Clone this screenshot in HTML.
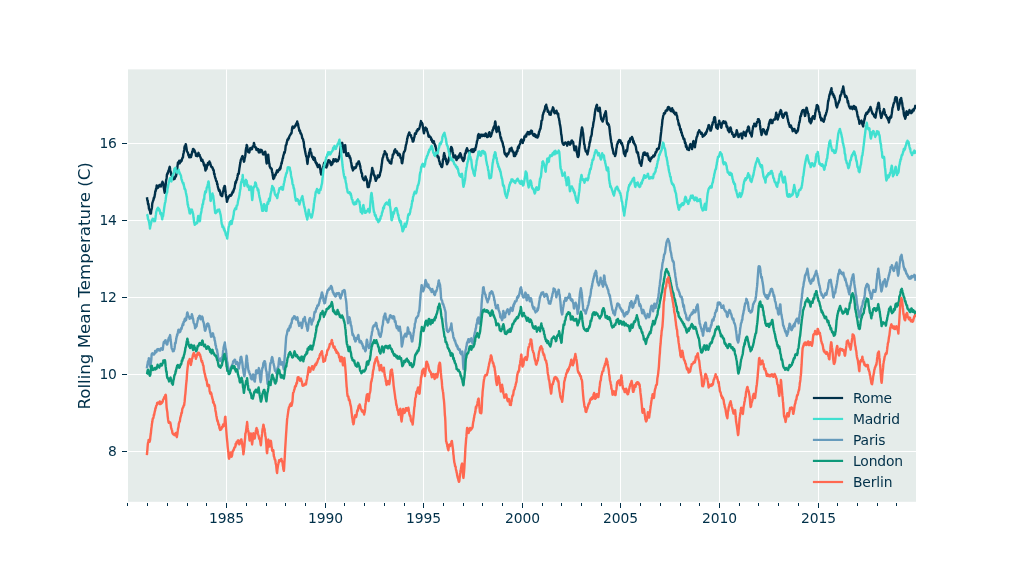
<!DOCTYPE html>
<html><head><meta charset="utf-8"><title>Rolling Mean Temperature</title>
<style>
html,body{margin:0;padding:0;background:#fff;}
svg{display:block;}
text{font-family:"DejaVu Sans","Liberation Sans",sans-serif;fill:#003049;}
.t10{font-size:13.89px;letter-spacing:-0.12px;}
.t12{font-size:16.67px;}
.grid line{stroke:#fff;stroke-width:1;}
.tick line{stroke:#003049;stroke-width:1;}
.ser polyline{fill:none;stroke-width:2.4;stroke-linejoin:round;stroke-linecap:butt;}
</style></head><body>
<svg width="1018" height="564" viewBox="0 0 1018 564">
<rect x="0" y="0" width="1018" height="564" fill="#fff"/>
<rect x="128" y="69.4" width="788.00" height="432.40" fill="#e5ecea"/>
<g class="grid">
<line x1="226.50" y1="69.4" x2="226.50" y2="501.8"/>
<line x1="325.50" y1="69.4" x2="325.50" y2="501.8"/>
<line x1="423.50" y1="69.4" x2="423.50" y2="501.8"/>
<line x1="522.50" y1="69.4" x2="522.50" y2="501.8"/>
<line x1="620.50" y1="69.4" x2="620.50" y2="501.8"/>
<line x1="719.50" y1="69.4" x2="719.50" y2="501.8"/>
<line x1="818.50" y1="69.4" x2="818.50" y2="501.8"/>
<line x1="128" y1="451.50" x2="916" y2="451.50"/>
<line x1="128" y1="374.50" x2="916" y2="374.50"/>
<line x1="128" y1="297.50" x2="916" y2="297.50"/>
<line x1="128" y1="220.50" x2="916" y2="220.50"/>
<line x1="128" y1="143.50" x2="916" y2="143.50"/>
</g>
<clipPath id="c"><rect x="128" y="69.4" width="788.00" height="432.40"/></clipPath>
<g class="ser" clip-path="url(#c)">
<polyline stroke="#003049" points="146.96,197.26 147.21,199.35 147.46,200.81 147.71,200.44 147.96,203.56 148.21,204.67 148.46,203.80 148.71,206.22 148.96,208.76 149.21,208.72 149.46,210.15 149.71,210.00 149.96,211.11 150.21,212.65 150.46,213.56 150.71,212.68 150.96,213.49 151.21,210.73 151.46,209.77 151.71,208.70 151.96,207.20 152.21,204.00 152.46,202.64 152.71,201.87 152.96,201.54 153.21,200.14 153.46,200.15 153.71,198.03 153.96,198.66 154.21,197.07 154.46,197.01 154.71,195.40 154.96,194.31 155.21,191.77 155.46,190.84 155.71,190.89 155.96,188.98 156.21,189.66 156.46,187.55 156.71,185.45 156.96,186.21 157.21,186.47 157.46,187.05 157.71,186.46 157.96,187.72 158.21,187.35 158.46,186.53 158.71,186.66 158.96,185.52 159.21,186.10 159.46,185.03 159.71,184.93 159.96,185.54 160.21,185.64 160.46,186.25 160.71,186.03 160.96,186.39 161.21,184.91 161.46,184.46 161.71,183.44 161.96,183.48 162.21,182.93 162.46,181.61 162.71,182.90 162.96,182.66 163.21,183.32 163.46,184.96 163.71,187.41 163.96,188.47 164.21,190.18 164.46,191.46 164.71,192.84 164.96,191.31 165.21,189.73 165.46,187.34 165.71,184.50 165.96,181.97 166.21,179.95 166.46,178.79 166.71,177.20 166.96,174.35 167.21,174.31 167.46,173.14 167.71,173.94 167.96,172.16 168.21,172.17 168.46,170.73 168.71,170.55 168.96,169.44 169.21,168.82 169.46,167.48 169.71,166.82 169.96,167.96 170.21,169.64 170.46,170.98 170.71,171.84 170.96,172.65 171.21,175.12 171.46,174.56 171.71,174.18 171.96,176.01 172.21,176.39 172.46,177.94 172.71,177.54 172.96,177.34 173.21,178.88 173.46,179.30 173.71,178.59 173.96,177.99 174.21,179.03 174.46,178.47 174.71,178.68 174.96,177.99 175.21,176.63 175.46,176.96 175.71,175.79 175.96,176.23 176.21,174.91 176.46,173.73 176.71,172.57 176.96,170.93 177.21,169.16 177.46,166.46 177.71,164.61 177.96,162.48 178.21,162.70 178.46,163.75 178.71,162.89 178.96,161.49 179.21,160.81 179.46,162.00 179.71,163.24 179.96,161.58 180.21,160.63 180.46,161.57 180.71,161.83 180.96,161.08 181.21,160.16 181.46,161.17 181.71,160.39 181.96,159.41 182.21,158.71 182.46,157.68 182.71,157.93 182.96,157.29 183.21,154.74 183.46,153.57 183.71,152.73 183.96,151.03 184.21,149.92 184.46,147.47 184.71,146.30 184.96,147.46 185.21,147.57 185.46,145.26 185.71,144.14 185.96,144.95 186.21,146.49 186.46,148.04 186.71,149.69 186.96,151.65 187.21,151.65 187.46,152.03 187.71,152.50 187.96,153.09 188.21,154.16 188.46,155.28 188.71,155.71 188.96,155.94 189.21,157.30 189.46,155.43 189.71,155.49 189.96,154.92 190.21,155.64 190.46,155.15 190.71,156.10 190.96,157.17 191.21,155.93 191.46,155.62 191.71,154.17 191.96,153.34 192.21,151.59 192.46,151.28 192.71,151.20 192.96,149.19 193.21,148.92 193.46,149.01 193.71,149.59 193.96,149.59 194.21,149.73 194.46,151.89 194.71,150.96 194.96,151.70 195.21,152.23 195.46,152.79 195.71,153.48 195.96,155.78 196.21,155.64 196.46,154.83 196.71,155.86 196.96,155.98 197.21,156.12 197.46,155.27 197.71,154.80 197.96,154.96 198.21,153.52 198.46,152.85 198.71,153.98 198.96,154.59 199.21,155.79 199.46,154.82 199.71,154.97 199.96,156.06 200.21,156.71 200.46,157.07 200.71,158.15 200.96,158.95 201.21,160.69 201.46,160.24 201.71,159.35 201.96,160.72 202.21,160.60 202.46,159.91 202.71,161.32 202.96,161.72 203.21,162.31 203.46,162.51 203.71,164.25 203.96,165.11 204.21,165.58 204.46,165.41 204.71,164.72 204.96,166.53 205.21,169.13 205.46,170.55 205.71,169.20 205.96,169.57 206.21,168.03 206.46,169.07 206.71,167.75 206.96,166.43 207.21,164.59 207.46,165.53 207.71,165.43 207.96,162.97 208.21,163.71 208.46,164.48 208.71,162.97 208.96,162.92 209.21,162.74 209.46,161.54 209.71,162.33 209.96,163.48 210.21,163.01 210.46,164.68 210.71,164.94 210.96,165.85 211.21,166.32 211.46,166.97 211.71,167.01 211.96,167.38 212.21,167.09 212.46,167.65 212.71,168.66 212.96,168.57 213.21,170.11 213.46,170.06 213.71,170.13 213.96,172.55 214.21,174.37 214.46,173.80 214.71,175.46 214.96,176.89 215.21,177.49 215.46,178.55 215.71,178.85 215.96,180.02 216.21,181.05 216.46,181.01 216.71,181.26 216.96,182.81 217.21,184.54 217.46,184.00 217.71,185.91 217.96,187.35 218.21,187.95 218.46,189.02 218.71,189.74 218.96,190.76 219.21,190.46 219.46,189.90 219.71,190.98 219.96,191.61 220.21,192.59 220.46,193.96 220.71,195.06 220.96,193.88 221.21,194.23 221.46,194.62 221.71,196.00 221.96,195.68 222.21,196.10 222.46,194.02 222.71,192.90 222.96,191.58 223.21,191.21 223.46,190.67 223.71,188.31 223.96,187.42 224.21,187.47 224.46,186.16 224.71,185.90 224.96,186.29 225.21,189.09 225.46,190.86 225.71,193.88 225.96,195.14 226.21,197.16 226.46,197.93 226.71,199.81 226.96,201.82 227.21,201.06 227.46,199.74 227.71,199.35 227.96,197.88 228.21,198.24 228.46,197.07 228.71,196.51 228.96,196.56 229.21,196.54 229.46,195.71 229.71,195.29 229.96,195.40 230.21,194.98 230.46,195.58 230.71,195.85 230.96,195.34 231.21,195.25 231.46,194.89 231.71,194.58 231.96,193.34 232.21,192.86 232.46,192.58 232.71,191.39 232.96,192.52 233.21,191.98 233.46,191.22 233.71,189.72 233.96,189.77 234.21,188.57 234.46,188.44 234.71,186.91 234.96,185.24 235.21,184.11 235.46,182.05 235.71,182.93 235.96,182.42 236.21,180.99 236.46,180.21 236.71,180.02 236.96,179.86 237.21,177.87 237.46,176.96 237.71,175.81 237.96,173.86 238.21,173.98 238.46,173.59 238.71,173.77 238.96,171.74 239.21,169.81 239.46,167.96 239.71,166.60 239.96,164.73 240.21,163.55 240.46,162.35 240.71,160.46 240.96,159.50 241.21,158.95 241.46,158.16 241.71,158.05 241.96,157.31 242.21,156.32 242.46,156.10 242.71,156.35 242.96,158.09 243.21,157.60 243.46,159.24 243.71,160.89 243.96,161.67 244.21,161.35 244.46,159.64 244.71,158.11 244.96,157.33 245.21,156.14 245.46,154.11 245.71,150.81 245.96,149.27 246.21,147.78 246.46,146.71 246.71,145.00 246.96,145.50 247.21,146.31 247.46,148.94 247.71,150.34 247.96,149.99 248.21,152.13 248.46,151.79 248.71,152.37 248.96,150.80 249.21,152.44 249.46,151.90 249.71,149.55 249.96,148.40 250.21,148.60 250.46,148.10 250.71,149.63 250.96,149.07 251.21,148.57 251.46,149.10 251.71,149.25 251.96,149.13 252.21,148.19 252.46,147.07 252.71,146.37 252.96,146.46 253.21,146.17 253.46,145.74 253.71,144.53 253.96,142.84 254.21,144.24 254.46,144.80 254.71,146.02 254.96,147.09 255.21,147.09 255.46,147.51 255.71,147.13 255.96,148.59 256.21,148.80 256.46,149.92 256.71,149.64 256.96,149.21 257.21,149.03 257.46,148.77 257.71,150.24 257.96,149.75 258.21,149.14 258.46,151.08 258.71,152.29 258.96,151.50 259.21,152.45 259.46,152.25 259.71,152.15 259.96,152.34 260.21,150.97 260.46,149.82 260.71,149.85 260.96,151.01 261.21,149.94 261.46,150.20 261.71,150.79 261.96,150.49 262.21,151.47 262.46,152.69 262.71,152.72 262.96,154.32 263.21,152.55 263.46,153.08 263.71,153.71 263.96,154.47 264.21,153.47 264.46,152.78 264.71,153.66 264.96,152.79 265.21,151.60 265.46,152.77 265.71,153.93 265.96,157.94 266.21,159.73 266.46,162.52 266.71,163.57 266.96,162.29 267.21,161.11 267.46,159.55 267.71,157.59 267.96,156.12 268.21,154.65 268.46,157.11 268.71,159.53 268.96,161.73 269.21,163.54 269.46,163.90 269.71,166.77 269.96,166.77 270.21,167.43 270.46,168.20 270.71,167.96 270.96,168.13 271.21,168.31 271.46,168.95 271.71,168.91 271.96,171.47 272.21,172.35 272.46,172.86 272.71,175.69 272.96,176.35 273.21,178.52 273.46,178.91 273.71,176.87 273.96,176.84 274.21,177.93 274.46,176.85 274.71,175.22 274.96,174.76 275.21,174.92 275.46,175.13 275.71,174.72 275.96,173.23 276.21,173.15 276.46,173.05 276.71,171.50 276.96,170.40 277.21,170.48 277.46,170.73 277.71,171.96 277.96,171.78 278.21,171.15 278.46,169.97 278.71,170.17 278.96,169.73 279.21,169.08 279.46,169.58 279.71,169.80 279.96,167.86 280.21,167.37 280.46,168.58 280.71,166.88 280.96,165.35 281.21,164.24 281.46,162.97 281.71,163.60 281.96,161.30 282.21,161.16 282.46,159.56 282.71,158.22 282.96,158.28 283.21,156.29 283.46,155.33 283.71,154.47 283.96,153.92 284.21,152.23 284.46,152.85 284.71,152.76 284.96,150.96 285.21,150.49 285.46,148.23 285.71,145.71 285.96,145.02 286.21,144.75 286.46,144.56 286.71,142.35 286.96,142.08 287.21,140.66 287.46,139.54 287.71,139.25 287.96,139.55 288.21,139.76 288.46,138.38 288.71,137.86 288.96,138.01 289.21,136.72 289.46,136.26 289.71,135.57 289.96,135.52 290.21,134.97 290.46,134.46 290.71,134.31 290.96,133.81 291.21,133.03 291.46,133.28 291.71,131.69 291.96,129.70 292.21,127.70 292.46,126.90 292.71,126.49 292.96,127.02 293.21,127.48 293.46,128.05 293.71,127.13 293.96,126.71 294.21,127.54 294.46,127.33 294.71,126.27 294.96,125.99 295.21,126.37 295.46,125.14 295.71,125.66 295.96,124.26 296.21,124.66 296.46,123.31 296.71,123.67 296.96,123.23 297.21,121.43 297.46,123.07 297.71,124.41 297.96,123.61 298.21,125.07 298.46,126.80 298.71,127.59 298.96,128.55 299.21,130.32 299.46,130.93 299.71,130.45 299.96,130.51 300.21,132.03 300.46,133.39 300.71,133.63 300.96,133.31 301.21,133.88 301.46,134.71 301.71,135.14 301.96,136.49 302.21,138.03 302.46,138.26 302.71,138.93 302.96,139.04 303.21,139.90 303.46,141.56 303.71,141.68 303.96,144.13 304.21,147.16 304.46,147.71 304.71,149.10 304.96,150.23 305.21,151.83 305.46,153.03 305.71,154.23 305.96,155.05 306.21,156.57 306.46,156.28 306.71,157.02 306.96,160.41 307.21,162.13 307.46,163.92 307.71,162.10 307.96,158.82 308.21,157.52 308.46,157.08 308.71,157.00 308.96,153.63 309.21,152.24 309.46,151.82 309.71,151.31 309.96,149.79 310.21,148.88 310.46,150.63 310.71,151.83 310.96,152.58 311.21,152.67 311.46,154.18 311.71,156.00 311.96,156.26 312.21,157.22 312.46,156.91 312.71,157.36 312.96,158.21 313.21,159.18 313.46,157.04 313.71,158.46 313.96,160.07 314.21,159.67 314.46,160.00 314.71,157.99 314.96,159.61 315.21,160.11 315.46,162.38 315.71,161.86 315.96,163.10 316.21,163.47 316.46,163.43 316.71,162.96 316.96,165.26 317.21,164.70 317.46,165.89 317.71,166.91 317.96,167.20 318.21,166.18 318.46,165.34 318.71,166.17 318.96,165.76 319.21,164.77 319.46,165.01 319.71,165.48 319.96,166.81 320.21,169.10 320.46,169.91 320.71,172.85 320.96,172.90 321.21,174.59 321.46,173.93 321.71,171.69 321.96,171.10 322.21,169.97 322.46,169.03 322.71,168.79 322.96,167.43 323.21,166.88 323.46,166.51 323.71,164.65 323.96,163.97 324.21,162.81 324.46,162.53 324.71,162.29 324.96,162.63 325.21,163.92 325.46,166.31 325.71,166.54 325.96,166.53 326.21,167.33 326.46,167.44 326.71,166.12 326.96,165.24 327.21,165.70 327.46,164.08 327.71,162.50 327.96,161.42 328.21,161.65 328.46,160.20 328.71,160.42 328.96,161.49 329.21,160.63 329.46,160.56 329.71,160.87 329.96,161.94 330.21,162.89 330.46,162.59 330.71,164.19 330.96,164.02 331.21,165.13 331.46,165.08 331.71,163.61 331.96,162.27 332.21,163.29 332.46,163.85 332.71,162.00 332.96,161.78 333.21,160.91 333.46,159.19 333.71,159.72 333.96,161.44 334.21,161.07 334.46,161.28 334.71,160.86 334.96,159.40 335.21,159.93 335.46,159.52 335.71,160.14 335.96,159.39 336.21,159.50 336.46,160.16 336.71,161.45 336.96,160.29 337.21,161.10 337.46,159.91 337.71,161.06 337.96,160.60 338.21,160.04 338.46,159.77 338.71,159.23 338.96,158.15 339.21,156.77 339.46,156.19 339.71,154.80 339.96,153.11 340.21,151.09 340.46,148.74 340.71,146.54 340.96,146.02 341.21,146.47 341.46,147.03 341.71,145.56 341.96,143.89 342.21,142.83 342.46,144.45 342.71,145.29 342.96,147.58 343.21,149.14 343.46,149.73 343.71,152.17 343.96,150.97 344.21,149.97 344.46,149.41 344.71,148.03 344.96,145.41 345.21,145.09 345.46,147.59 345.71,151.10 345.96,152.83 346.21,154.45 346.46,155.82 346.71,154.79 346.96,155.02 347.21,155.85 347.46,155.20 347.71,154.71 347.96,154.34 348.21,153.14 348.46,154.12 348.71,155.25 348.96,156.00 349.21,155.65 349.46,155.64 349.71,157.87 349.96,157.21 350.21,157.59 350.46,158.33 350.71,160.14 350.96,161.80 351.21,162.67 351.46,164.06 351.71,166.06 351.96,167.63 352.21,168.05 352.46,168.41 352.71,169.43 352.96,170.43 353.21,169.63 353.46,168.38 353.71,167.48 353.96,168.51 354.21,167.69 354.46,168.21 354.71,168.43 354.96,168.09 355.21,167.89 355.46,167.01 355.71,167.76 355.96,167.11 356.21,166.32 356.46,166.24 356.71,163.69 356.96,163.84 357.21,163.49 357.46,164.07 357.71,163.45 357.96,162.76 358.21,162.17 358.46,161.53 358.71,162.08 358.96,161.39 359.21,162.77 359.46,163.03 359.71,163.77 359.96,166.18 360.21,165.71 360.46,168.13 360.71,169.49 360.96,170.24 361.21,171.76 361.46,173.12 361.71,173.11 361.96,173.21 362.21,176.45 362.46,177.01 362.71,177.43 362.96,178.88 363.21,179.09 363.46,179.00 363.71,179.76 363.96,179.87 364.21,180.30 364.46,179.91 364.71,178.77 364.96,179.10 365.21,178.38 365.46,176.35 365.71,177.44 365.96,178.31 366.21,178.71 366.46,179.14 366.71,179.89 366.96,180.84 367.21,183.71 367.46,185.32 367.71,187.04 367.96,186.48 368.21,185.53 368.46,185.74 368.71,187.16 368.96,186.23 369.21,184.28 369.46,183.48 369.71,181.96 369.96,180.70 370.21,181.46 370.46,179.56 370.71,177.99 370.96,175.38 371.21,174.27 371.46,173.31 371.71,172.30 371.96,169.93 372.21,167.85 372.46,169.01 372.71,170.99 372.96,170.54 373.21,170.97 373.46,172.27 373.71,174.43 373.96,175.32 374.21,175.27 374.46,175.21 374.71,175.91 374.96,177.26 375.21,179.18 375.46,178.96 375.71,180.88 375.96,180.80 376.21,179.12 376.46,178.68 376.71,178.31 376.96,178.64 377.21,178.20 377.46,177.30 377.71,175.50 377.96,176.38 378.21,176.56 378.46,177.03 378.71,176.41 378.96,177.06 379.21,176.33 379.46,174.92 379.71,175.73 379.96,174.38 380.21,172.65 380.46,172.20 380.71,170.95 380.96,170.39 381.21,168.18 381.46,166.82 381.71,164.20 381.96,163.13 382.21,160.51 382.46,158.94 382.71,157.80 382.96,157.43 383.21,156.83 383.46,155.59 383.71,154.57 383.96,154.02 384.21,153.85 384.46,153.01 384.71,151.21 384.96,153.26 385.21,151.99 385.46,153.22 385.71,154.25 385.96,154.31 386.21,153.58 386.46,154.58 386.71,154.09 386.96,156.93 387.21,157.93 387.46,157.90 387.71,159.74 387.96,160.29 388.21,160.02 388.46,159.92 388.71,161.18 388.96,161.28 389.21,161.41 389.46,161.77 389.71,162.73 389.96,162.60 390.21,162.82 390.46,163.10 390.71,163.35 390.96,163.24 391.21,163.60 391.46,162.05 391.71,159.38 391.96,158.69 392.21,158.24 392.46,157.59 392.71,154.86 392.96,154.43 393.21,154.47 393.46,154.59 393.71,153.47 393.96,152.68 394.21,151.00 394.46,150.43 394.71,150.35 394.96,149.83 395.21,149.38 395.46,150.69 395.71,150.92 395.96,151.23 396.21,152.39 396.46,151.76 396.71,152.85 396.96,151.40 397.21,152.98 397.46,152.50 397.71,153.69 397.96,155.15 398.21,154.86 398.46,154.52 398.71,155.36 398.96,155.06 399.21,154.61 399.46,153.81 399.71,154.60 399.96,155.15 400.21,155.63 400.46,157.96 400.71,157.95 400.96,158.13 401.21,157.84 401.46,159.74 401.71,162.49 401.96,163.16 402.21,163.29 402.46,161.70 402.71,159.92 402.96,158.85 403.21,156.38 403.46,153.53 403.71,152.98 403.96,151.93 404.21,151.91 404.46,151.35 404.71,151.25 404.96,150.47 405.21,149.67 405.46,148.03 405.71,146.08 405.96,144.92 406.21,144.08 406.46,143.30 406.71,141.71 406.96,140.67 407.21,138.52 407.46,138.19 407.71,136.69 407.96,135.67 408.21,135.50 408.46,134.47 408.71,133.75 408.96,133.75 409.21,132.39 409.46,132.60 409.71,134.71 409.96,134.96 410.21,135.13 410.46,135.35 410.71,135.33 410.96,135.26 411.21,136.58 411.46,137.55 411.71,137.85 411.96,138.32 412.21,139.19 412.46,139.75 412.71,141.61 412.96,141.12 413.21,141.53 413.46,140.88 413.71,140.09 413.96,138.52 414.21,137.35 414.46,137.07 414.71,135.11 414.96,133.56 415.21,133.66 415.46,133.36 415.71,133.65 415.96,133.79 416.21,132.69 416.46,132.10 416.71,130.60 416.96,130.40 417.21,130.48 417.46,130.88 417.71,129.10 417.96,129.99 418.21,129.19 418.46,129.59 418.71,129.21 418.96,129.25 419.21,128.74 419.46,127.81 419.71,126.80 419.96,125.64 420.21,125.03 420.46,123.49 420.71,122.73 420.96,121.08 421.21,122.45 421.46,122.98 421.71,123.42 421.96,122.92 422.21,123.35 422.46,124.02 422.71,125.83 422.96,127.56 423.21,128.80 423.46,130.73 423.71,132.00 423.96,133.40 424.21,131.94 424.46,130.71 424.71,130.75 424.96,129.38 425.21,128.03 425.46,127.62 425.71,128.78 425.96,128.87 426.21,128.40 426.46,128.81 426.71,128.65 426.96,130.51 427.21,131.08 427.46,131.72 427.71,132.46 427.96,133.36 428.21,134.56 428.46,136.37 428.71,136.62 428.96,136.10 429.21,135.58 429.46,136.50 429.71,136.74 429.96,137.07 430.21,136.66 430.46,137.23 430.71,137.30 430.96,137.86 431.21,139.92 431.46,139.38 431.71,139.23 431.96,140.30 432.21,141.66 432.46,141.65 432.71,141.78 432.96,142.60 433.21,141.53 433.46,141.33 433.71,141.07 433.96,141.64 434.21,142.95 434.46,143.85 434.71,144.08 434.96,145.04 435.21,146.15 435.46,145.62 435.71,147.02 435.96,148.80 436.21,149.60 436.46,150.19 436.71,151.91 436.96,153.32 437.21,155.14 437.46,155.97 437.71,157.33 437.96,156.52 438.21,156.41 438.46,156.76 438.71,157.57 438.96,159.73 439.21,161.02 439.46,161.43 439.71,162.05 439.96,164.01 440.21,164.22 440.46,164.02 440.71,164.63 440.96,165.27 441.21,166.52 441.46,165.92 441.71,166.36 441.96,167.09 442.21,166.70 442.46,164.95 442.71,162.60 442.96,159.29 443.21,159.18 443.46,157.71 443.71,155.56 443.96,154.24 444.21,153.08 444.46,154.53 444.71,154.97 444.96,156.40 445.21,158.61 445.46,159.57 445.71,158.54 445.96,159.18 446.21,161.62 446.46,161.35 446.71,163.13 446.96,164.33 447.21,163.95 447.46,163.01 447.71,162.70 447.96,162.42 448.21,161.64 448.46,160.92 448.71,159.16 448.96,158.91 449.21,156.94 449.46,157.22 449.71,156.57 449.96,154.16 450.21,151.20 450.46,149.08 450.71,148.93 450.96,148.40 451.21,146.85 451.46,147.22 451.71,147.55 451.96,148.22 452.21,149.12 452.46,150.61 452.71,151.95 452.96,153.10 453.21,154.98 453.46,157.36 453.71,157.28 453.96,156.87 454.21,156.85 454.46,157.05 454.71,156.41 454.96,155.93 455.21,155.42 455.46,157.44 455.71,158.48 455.96,158.08 456.21,158.61 456.46,160.16 456.71,159.85 456.96,159.14 457.21,158.65 457.46,156.60 457.71,157.49 457.96,156.97 458.21,157.97 458.46,157.78 458.71,157.54 458.96,155.79 459.21,156.04 459.46,154.36 459.71,154.96 459.96,154.46 460.21,153.10 460.46,154.01 460.71,154.06 460.96,154.69 461.21,156.67 461.46,157.84 461.71,157.31 461.96,157.75 462.21,157.55 462.46,159.84 462.71,159.59 462.96,159.22 463.21,161.16 463.46,161.06 463.71,160.56 463.96,159.40 464.21,159.38 464.46,158.77 464.71,156.20 464.96,153.63 465.21,153.49 465.46,152.89 465.71,153.50 465.96,150.87 466.21,150.57 466.46,149.54 466.71,149.38 466.96,148.16 467.21,149.18 467.46,149.98 467.71,150.63 467.96,151.25 468.21,150.58 468.46,151.73 468.71,150.83 468.96,152.93 469.21,152.63 469.46,152.32 469.71,152.16 469.96,152.55 470.21,152.48 470.46,151.33 470.71,151.93 470.96,150.61 471.21,149.65 471.46,150.67 471.71,151.17 471.96,150.74 472.21,150.43 472.46,149.34 472.71,150.32 472.96,152.00 473.21,151.83 473.46,151.27 473.71,151.74 473.96,151.07 474.21,149.11 474.46,148.79 474.71,149.11 474.96,150.05 475.21,149.99 475.46,148.21 475.71,147.46 475.96,147.03 476.21,145.29 476.46,144.05 476.71,143.26 476.96,141.27 477.21,140.68 477.46,140.19 477.71,138.29 477.96,135.88 478.21,134.85 478.46,135.12 478.71,134.05 478.96,135.31 479.21,135.69 479.46,135.24 479.71,137.90 479.96,137.49 480.21,137.13 480.46,136.25 480.71,136.35 480.96,134.71 481.21,135.30 481.46,135.05 481.71,134.86 481.96,134.90 482.21,135.53 482.46,136.07 482.71,135.91 482.96,134.74 483.21,135.88 483.46,135.83 483.71,135.62 483.96,135.68 484.21,135.11 484.46,135.98 484.71,135.36 484.96,135.55 485.21,134.10 485.46,134.43 485.71,133.46 485.96,133.76 486.21,134.99 486.46,136.28 486.71,136.14 486.96,136.94 487.21,136.22 487.46,136.97 487.71,136.91 487.96,136.64 488.21,135.97 488.46,135.59 488.71,133.77 488.96,132.64 489.21,133.13 489.46,132.27 489.71,135.09 489.96,135.49 490.21,135.07 490.46,136.69 490.71,136.00 490.96,136.24 491.21,135.11 491.46,134.51 491.71,133.24 491.96,133.09 492.21,132.02 492.46,130.54 492.71,129.78 492.96,130.16 493.21,129.20 493.46,127.56 493.71,127.06 493.96,128.37 494.21,126.82 494.46,125.51 494.71,124.44 494.96,123.08 495.21,121.35 495.46,122.23 495.71,124.88 495.96,127.49 496.21,129.55 496.46,131.58 496.71,131.88 496.96,131.26 497.21,131.05 497.46,130.43 497.71,128.81 497.96,128.74 498.21,127.73 498.46,126.67 498.71,127.42 498.96,129.27 499.21,131.73 499.46,131.59 499.71,132.73 499.96,133.50 500.21,135.72 500.46,136.65 500.71,138.30 500.96,137.50 501.21,138.37 501.46,140.14 501.71,140.88 501.96,141.00 502.21,141.58 502.46,142.62 502.71,143.00 502.96,144.73 503.21,145.44 503.46,147.01 503.71,146.81 503.96,148.51 504.21,150.71 504.46,152.90 504.71,153.18 504.96,154.29 505.21,154.39 505.46,153.35 505.71,153.90 505.96,154.73 506.21,155.80 506.46,155.84 506.71,156.42 506.96,155.04 507.21,154.30 507.46,153.75 507.71,153.96 507.96,154.38 508.21,154.24 508.46,153.40 508.71,152.85 508.96,152.28 509.21,151.85 509.46,151.07 509.71,148.88 509.96,150.83 510.21,149.89 510.46,150.22 510.71,148.46 510.96,148.51 511.21,148.17 511.46,147.81 511.71,149.31 511.96,149.38 512.21,150.28 512.46,151.58 512.71,151.44 512.96,151.53 513.21,151.67 513.46,152.75 513.71,154.11 513.96,156.15 514.21,155.09 514.46,153.89 514.71,154.08 514.96,155.35 515.21,155.91 515.46,154.27 515.71,152.56 515.96,152.53 516.21,154.06 516.46,152.85 516.71,151.09 516.96,151.64 517.21,150.52 517.46,151.21 517.71,148.18 517.96,147.34 518.21,146.54 518.46,147.90 518.71,148.14 518.96,147.02 519.21,145.26 519.46,144.82 519.71,144.41 519.96,144.26 520.21,142.92 520.46,141.13 520.71,141.49 520.96,140.77 521.21,139.78 521.46,139.43 521.71,140.79 521.96,140.67 522.21,141.86 522.46,141.98 522.71,142.96 522.96,141.30 523.21,140.38 523.46,140.07 523.71,140.63 523.96,139.78 524.21,137.87 524.46,136.57 524.71,136.89 524.96,136.77 525.21,136.86 525.46,135.41 525.71,135.89 525.96,136.35 526.21,136.55 526.46,134.68 526.71,133.61 526.96,133.62 527.21,134.03 527.46,132.61 527.71,132.10 527.96,132.96 528.21,132.53 528.46,134.25 528.71,133.03 528.96,133.91 529.21,134.23 529.46,132.00 529.71,132.48 529.96,133.92 530.21,132.44 530.46,132.60 530.71,132.10 530.96,131.29 531.21,130.54 531.46,130.86 531.71,130.97 531.96,131.20 532.21,133.37 532.46,134.02 532.71,134.39 532.96,134.22 533.21,135.24 533.46,134.73 533.71,134.62 533.96,135.89 534.21,134.71 534.46,134.09 534.71,134.90 534.96,134.51 535.21,135.75 535.46,136.78 535.71,135.94 535.96,137.04 536.21,136.25 536.46,135.53 536.71,136.27 536.96,136.58 537.21,136.83 537.46,137.59 537.71,136.79 537.96,136.52 538.21,136.45 538.46,134.21 538.71,134.58 538.96,131.88 539.21,132.21 539.46,131.08 539.71,130.49 539.96,129.12 540.21,129.05 540.46,128.86 540.71,126.97 540.96,125.33 541.21,124.11 541.46,121.22 541.71,120.46 541.96,120.47 542.21,119.43 542.46,118.20 542.71,115.40 542.96,114.51 543.21,113.92 543.46,112.75 543.71,112.12 543.96,111.99 544.21,110.82 544.46,111.12 544.71,109.25 544.96,109.44 545.21,106.63 545.46,105.96 545.71,106.49 545.96,105.80 546.21,104.75 546.46,106.77 546.71,107.32 546.96,107.39 547.21,109.04 547.46,109.37 547.71,111.72 547.96,111.78 548.21,110.77 548.46,111.81 548.71,111.88 548.96,112.36 549.21,113.25 549.46,114.53 549.71,113.93 549.96,114.32 550.21,114.13 550.46,113.30 550.71,114.86 550.96,113.39 551.21,112.53 551.46,111.10 551.71,110.71 551.96,110.48 552.21,110.41 552.46,109.37 552.71,108.23 552.96,107.33 553.21,107.74 553.46,108.55 553.71,109.62 553.96,111.00 554.21,112.46 554.46,111.78 554.71,113.32 554.96,112.71 555.21,111.49 555.46,111.93 555.71,111.81 555.96,112.86 556.21,111.74 556.46,110.71 556.71,111.52 556.96,113.00 557.21,113.27 557.46,113.89 557.71,114.43 557.96,113.82 558.21,113.64 558.46,116.97 558.71,117.65 558.96,118.17 559.21,120.08 559.46,120.98 559.71,123.37 559.96,124.68 560.21,125.63 560.46,127.30 560.71,129.18 560.96,131.74 561.21,134.27 561.46,134.98 561.71,136.82 561.96,139.52 562.21,141.72 562.46,142.21 562.71,143.63 562.96,143.73 563.21,143.82 563.46,144.64 563.71,144.88 563.96,144.79 564.21,143.79 564.46,143.76 564.71,143.06 564.96,142.77 565.21,142.35 565.46,142.35 565.71,142.64 565.96,143.20 566.21,143.52 566.46,144.04 566.71,143.08 566.96,144.70 567.21,145.66 567.46,144.72 567.71,143.40 567.96,143.41 568.21,141.93 568.46,141.95 568.71,142.03 568.96,142.31 569.21,143.90 569.46,143.58 569.71,144.28 569.96,144.72 570.21,143.88 570.46,143.36 570.71,143.72 570.96,142.25 571.21,142.06 571.46,140.68 571.71,140.89 571.96,140.55 572.21,141.46 572.46,141.45 572.71,141.58 572.96,141.61 573.21,142.58 573.46,144.20 573.71,145.20 573.96,147.02 574.21,148.89 574.46,150.35 574.71,149.10 574.96,149.78 575.21,149.11 575.46,149.16 575.71,148.07 575.96,146.39 576.21,146.97 576.46,149.46 576.71,152.36 576.96,152.43 577.21,154.19 577.46,155.46 577.71,156.78 577.96,156.57 578.21,156.98 578.46,156.22 578.71,155.41 578.96,152.19 579.21,148.50 579.46,146.75 579.71,144.81 579.96,142.46 580.21,140.30 580.46,138.20 580.71,136.41 580.96,135.07 581.21,132.44 581.46,130.49 581.71,129.32 581.96,127.35 582.21,128.43 582.46,128.81 582.71,131.53 582.96,132.50 583.21,134.18 583.46,136.99 583.71,139.45 583.96,142.02 584.21,144.67 584.46,144.36 584.71,146.11 584.96,148.84 585.21,148.74 585.46,150.10 585.71,151.33 585.96,151.57 586.21,150.79 586.46,151.45 586.71,151.63 586.96,152.41 587.21,153.69 587.46,154.43 587.71,153.20 587.96,151.93 588.21,151.31 588.46,149.12 588.71,148.27 588.96,146.96 589.21,145.95 589.46,143.85 589.71,141.90 589.96,142.25 590.21,141.10 590.46,139.78 590.71,137.21 590.96,136.68 591.21,136.56 591.46,135.37 591.71,134.61 591.96,131.70 592.21,129.72 592.46,128.04 592.71,127.52 592.96,126.41 593.21,124.42 593.46,122.50 593.71,121.41 593.96,120.24 594.21,118.57 594.46,116.36 594.71,115.04 594.96,112.24 595.21,111.26 595.46,108.97 595.71,108.87 595.96,108.11 596.21,106.71 596.46,105.49 596.71,105.73 596.96,104.85 597.21,106.75 597.46,108.37 597.71,108.06 597.96,110.39 598.21,110.99 598.46,111.12 598.71,109.19 598.96,110.45 599.21,110.18 599.46,109.88 599.71,107.77 599.96,109.38 600.21,112.24 600.46,113.66 600.71,116.34 600.96,117.26 601.21,119.12 601.46,119.47 601.71,119.07 601.96,119.79 602.21,120.32 602.46,121.52 602.71,121.57 602.96,120.21 603.21,118.73 603.46,119.49 603.71,117.59 603.96,116.69 604.21,115.98 604.46,114.45 604.71,114.63 604.96,114.00 605.21,112.73 605.46,112.43 605.71,111.17 605.96,112.47 606.21,115.57 606.46,117.13 606.71,120.86 606.96,122.76 607.21,123.76 607.46,123.61 607.71,123.80 607.96,123.32 608.21,124.95 608.46,125.19 608.71,124.38 608.96,125.31 609.21,126.11 609.46,128.24 609.71,130.17 609.96,132.92 610.21,135.09 610.46,136.48 610.71,138.97 610.96,139.78 611.21,141.98 611.46,142.80 611.71,143.85 611.96,146.32 612.21,147.37 612.46,148.47 612.71,149.16 612.96,150.70 613.21,151.11 613.46,153.44 613.71,153.75 613.96,154.05 614.21,154.05 614.46,153.73 614.71,154.62 614.96,156.01 615.21,155.82 615.46,154.69 615.71,154.00 615.96,152.94 616.21,150.23 616.46,148.07 616.71,147.52 616.96,144.94 617.21,144.54 617.46,143.40 617.71,143.53 617.96,141.72 618.21,141.45 618.46,141.65 618.71,141.20 618.96,140.19 619.21,140.00 619.46,140.15 619.71,140.43 619.96,141.42 620.21,141.82 620.46,140.46 620.71,141.50 620.96,141.75 621.21,143.57 621.46,143.56 621.71,142.82 621.96,143.07 622.21,145.05 622.46,144.99 622.71,146.30 622.96,146.71 623.21,148.24 623.46,149.79 623.71,151.88 623.96,153.71 624.21,153.91 624.46,153.81 624.71,154.09 624.96,155.56 625.21,156.12 625.46,154.14 625.71,153.20 625.96,152.29 626.21,150.14 626.46,150.89 626.71,150.86 626.96,151.38 627.21,150.09 627.46,148.27 627.71,146.45 627.96,144.44 628.21,144.14 628.46,141.60 628.71,141.62 628.96,141.62 629.21,140.66 629.46,140.70 629.71,142.03 629.96,140.23 630.21,138.54 630.46,138.67 630.71,139.50 630.96,138.10 631.21,138.79 631.46,137.75 631.71,138.09 631.96,136.87 632.21,138.33 632.46,137.91 632.71,138.89 632.96,139.89 633.21,142.28 633.46,142.47 633.71,141.25 633.96,143.46 634.21,143.14 634.46,143.52 634.71,144.57 634.96,144.75 635.21,144.69 635.46,145.86 635.71,146.20 635.96,147.47 636.21,149.65 636.46,150.35 636.71,151.97 636.96,152.63 637.21,151.95 637.46,152.88 637.71,153.80 637.96,152.43 638.21,154.77 638.46,156.39 638.71,157.26 638.96,158.43 639.21,159.52 639.46,160.68 639.71,163.02 639.96,162.88 640.21,162.65 640.46,163.30 640.71,164.57 640.96,164.14 641.21,165.89 641.46,164.29 641.71,163.41 641.96,161.57 642.21,159.67 642.46,158.72 642.71,156.03 642.96,155.61 643.21,154.37 643.46,153.13 643.71,152.76 643.96,153.70 644.21,154.80 644.46,153.00 644.71,152.38 644.96,153.65 645.21,153.87 645.46,153.84 645.71,153.80 645.96,154.85 646.21,155.11 646.46,154.99 646.71,154.75 646.96,153.38 647.21,153.51 647.46,153.45 647.71,156.27 647.96,155.64 648.21,156.06 648.46,157.07 648.71,158.63 648.96,159.88 649.21,159.59 649.46,159.32 649.71,159.15 649.96,159.10 650.21,161.23 650.46,158.57 650.71,158.42 650.96,159.01 651.21,158.88 651.46,157.39 651.71,157.23 651.96,157.35 652.21,157.63 652.46,156.86 652.71,156.75 652.96,156.28 653.21,155.66 653.46,155.55 653.71,156.61 653.96,156.15 654.21,156.11 654.46,155.70 654.71,155.23 654.96,155.07 655.21,153.44 655.46,153.24 655.71,151.96 655.96,152.07 656.21,152.07 656.46,151.80 656.71,150.33 656.96,149.06 657.21,150.04 657.46,148.81 657.71,149.43 657.96,149.06 658.21,148.32 658.46,149.05 658.71,148.35 658.96,148.17 659.21,146.17 659.46,145.12 659.71,143.34 659.96,141.84 660.21,140.87 660.46,137.74 660.71,135.56 660.96,133.54 661.21,131.48 661.46,128.87 661.71,126.67 661.96,125.23 662.21,122.61 662.46,119.57 662.71,118.94 662.96,117.37 663.21,115.82 663.46,115.14 663.71,114.30 663.96,113.32 664.21,114.17 664.46,113.49 664.71,113.59 664.96,113.38 665.21,112.78 665.46,111.51 665.71,110.69 665.96,110.90 666.21,110.43 666.46,110.14 666.71,110.50 666.96,110.03 667.21,110.43 667.46,109.01 667.71,107.88 667.96,107.33 668.21,106.96 668.46,106.98 668.71,107.49 668.96,108.12 669.21,107.35 669.46,109.30 669.71,109.65 669.96,108.54 670.21,109.07 670.46,110.03 670.71,111.01 670.96,110.54 671.21,110.46 671.46,110.73 671.71,109.41 671.96,109.17 672.21,108.23 672.46,111.61 672.71,110.09 672.96,110.11 673.21,110.20 673.46,110.56 673.71,112.01 673.96,112.78 674.21,112.49 674.46,112.92 674.71,113.04 674.96,114.23 675.21,112.93 675.46,112.65 675.71,112.78 675.96,113.83 676.21,112.94 676.46,114.87 676.71,115.58 676.96,115.52 677.21,116.67 677.46,119.04 677.71,119.72 677.96,120.14 678.21,121.56 678.46,122.28 678.71,124.97 678.96,123.73 679.21,124.57 679.46,125.91 679.71,126.07 679.96,127.81 680.21,129.54 680.46,130.17 680.71,129.01 680.96,129.97 681.21,132.51 681.46,132.29 681.71,132.39 681.96,133.90 682.21,135.66 682.46,135.27 682.71,135.95 682.96,136.93 683.21,137.45 683.46,138.75 683.71,139.25 683.96,138.79 684.21,138.77 684.46,139.40 684.71,141.54 684.96,143.05 685.21,142.93 685.46,142.67 685.71,144.61 685.96,146.83 686.21,145.00 686.46,145.78 686.71,146.75 686.96,148.23 687.21,149.27 687.46,149.05 687.71,148.90 687.96,148.77 688.21,149.63 688.46,148.37 688.71,149.16 688.96,150.01 689.21,148.25 689.46,147.96 689.71,146.31 689.96,145.14 690.21,144.62 690.46,144.08 690.71,144.21 690.96,145.00 691.21,145.25 691.46,147.12 691.71,146.51 691.96,149.16 692.21,148.08 692.46,147.17 692.71,145.70 692.96,143.62 693.21,141.46 693.46,141.10 693.71,142.59 693.96,142.90 694.21,144.50 694.46,145.14 694.71,145.89 694.96,147.24 695.21,144.45 695.46,143.28 695.71,142.60 695.96,141.08 696.21,139.37 696.46,138.11 696.71,137.01 696.96,136.69 697.21,136.36 697.46,135.12 697.71,134.57 697.96,132.59 698.21,132.39 698.46,131.75 698.71,131.99 698.96,131.81 699.21,130.21 699.46,130.91 699.71,131.26 699.96,131.41 700.21,131.81 700.46,131.94 700.71,132.85 700.96,133.72 701.21,132.91 701.46,133.61 701.71,132.95 701.96,133.61 702.21,134.06 702.46,135.36 702.71,136.71 702.96,136.32 703.21,135.38 703.46,135.22 703.71,136.07 703.96,135.08 704.21,135.47 704.46,135.32 704.71,135.11 704.96,134.61 705.21,133.78 705.46,132.96 705.71,133.18 705.96,133.93 706.21,132.32 706.46,131.37 706.71,131.94 706.96,131.11 707.21,129.50 707.46,129.50 707.71,128.35 707.96,127.98 708.21,127.37 708.46,125.46 708.71,125.37 708.96,125.11 709.21,125.92 709.46,127.45 709.71,128.52 709.96,128.64 710.21,129.36 710.46,130.65 710.71,130.67 710.96,130.06 711.21,129.50 711.46,128.49 711.71,127.65 711.96,125.29 712.21,124.57 712.46,124.94 712.71,122.46 712.96,122.28 713.21,122.43 713.46,121.56 713.71,121.02 713.96,118.67 714.21,118.03 714.46,117.13 714.71,117.67 714.96,117.21 715.21,119.27 715.46,121.38 715.71,123.74 715.96,125.30 716.21,127.29 716.46,127.90 716.71,126.67 716.96,126.62 717.21,126.93 717.46,128.69 717.71,128.79 717.96,126.06 718.21,124.57 718.46,123.78 718.71,123.57 718.96,122.41 719.21,120.68 719.46,121.62 719.71,123.04 719.96,123.61 720.21,123.06 720.46,123.59 720.71,125.43 720.96,127.52 721.21,127.78 721.46,127.48 721.71,125.24 721.96,123.89 722.21,123.37 722.46,123.12 722.71,122.13 722.96,123.13 723.21,122.02 723.46,121.19 723.71,123.05 723.96,122.47 724.21,123.04 724.46,122.57 724.71,123.03 724.96,122.79 725.21,123.20 725.46,121.67 725.71,123.25 725.96,122.72 726.21,123.45 726.46,126.68 726.71,125.78 726.96,127.21 727.21,126.34 727.46,127.19 727.71,128.68 727.96,130.30 728.21,130.22 728.46,129.94 728.71,131.40 728.96,131.42 729.21,132.15 729.46,131.75 729.71,129.32 729.96,128.20 730.21,128.12 730.46,127.41 730.71,128.12 730.96,128.52 731.21,130.69 731.46,131.21 731.71,131.67 731.96,132.42 732.21,134.13 732.46,132.89 732.71,133.94 732.96,134.89 733.21,134.93 733.46,135.72 733.71,136.85 733.96,136.36 734.21,136.05 734.46,136.60 734.71,135.82 734.96,135.55 735.21,134.82 735.46,135.64 735.71,133.67 735.96,134.09 736.21,134.71 736.46,131.74 736.71,130.14 736.96,131.10 737.21,132.19 737.46,132.74 737.71,134.82 737.96,134.53 738.21,135.63 738.46,136.92 738.71,137.08 738.96,135.97 739.21,134.65 739.46,135.50 739.71,134.35 739.96,134.52 740.21,134.33 740.46,133.88 740.71,133.72 740.96,133.63 741.21,133.58 741.46,135.78 741.71,136.44 741.96,137.86 742.21,138.42 742.46,135.75 742.71,135.11 742.96,135.12 743.21,133.18 743.46,132.98 743.71,131.80 743.96,133.21 744.21,134.39 744.46,132.88 744.71,133.15 744.96,134.72 745.21,135.49 745.46,135.77 745.71,135.98 745.96,134.18 746.21,132.39 746.46,131.36 746.71,131.96 746.96,130.53 747.21,130.72 747.46,129.66 747.71,128.73 747.96,127.32 748.21,127.02 748.46,126.48 748.71,127.41 748.96,127.29 749.21,129.56 749.46,131.73 749.71,132.08 749.96,132.46 750.21,133.50 750.46,133.55 750.71,133.50 750.96,134.32 751.21,135.24 751.46,135.28 751.71,136.49 751.96,134.25 752.21,132.70 752.46,130.10 752.71,129.31 752.96,128.06 753.21,126.11 753.46,126.43 753.71,125.96 753.96,124.93 754.21,123.77 754.46,124.48 754.71,124.12 754.96,125.09 755.21,125.37 755.46,125.21 755.71,126.38 755.96,126.20 756.21,125.59 756.46,123.33 756.71,123.28 756.96,121.86 757.21,121.92 757.46,122.18 757.71,121.04 757.96,119.28 758.21,120.22 758.46,120.25 758.71,119.27 758.96,120.53 759.21,121.00 759.46,120.67 759.71,122.47 759.96,124.96 760.21,126.41 760.46,129.55 760.71,130.16 760.96,132.03 761.21,132.24 761.46,134.97 761.71,133.51 761.96,133.84 762.21,132.97 762.46,130.76 762.71,130.43 762.96,129.12 763.21,129.11 763.46,129.30 763.71,130.07 763.96,129.83 764.21,131.10 764.46,130.81 764.71,131.62 764.96,132.04 765.21,133.36 765.46,133.66 765.71,133.90 765.96,134.32 766.21,134.33 766.46,134.35 766.71,133.37 766.96,132.27 767.21,129.74 767.46,130.86 767.71,129.80 767.96,129.09 768.21,128.11 768.46,126.60 768.71,125.47 768.96,123.79 769.21,124.24 769.46,121.97 769.71,121.47 769.96,120.58 770.21,120.05 770.46,120.67 770.71,120.04 770.96,119.70 771.21,121.50 771.46,122.29 771.71,123.01 771.96,122.86 772.21,122.96 772.46,122.99 772.71,120.99 772.96,120.96 773.21,120.24 773.46,120.11 773.71,119.57 773.96,119.74 774.21,119.68 774.46,119.48 774.71,119.61 774.96,119.42 775.21,119.17 775.46,116.88 775.71,116.82 775.96,114.35 776.21,112.69 776.46,114.14 776.71,114.87 776.96,116.20 777.21,117.48 777.46,117.48 777.71,119.57 777.96,118.68 778.21,117.40 778.46,117.02 778.71,116.37 778.96,114.52 779.21,114.74 779.46,114.41 779.71,113.67 779.96,111.51 780.21,111.27 780.46,110.95 780.71,110.08 780.96,111.34 781.21,110.89 781.46,112.32 781.71,113.27 781.96,114.57 782.21,115.88 782.46,117.03 782.71,116.72 782.96,116.92 783.21,117.86 783.46,116.74 783.71,114.99 783.96,115.97 784.21,114.10 784.46,114.14 784.71,114.04 784.96,113.21 785.21,112.79 785.46,112.61 785.71,112.75 785.96,113.28 786.21,112.72 786.46,112.67 786.71,114.19 786.96,115.33 787.21,115.92 787.46,118.08 787.71,118.83 787.96,119.89 788.21,121.52 788.46,122.43 788.71,122.45 788.96,124.55 789.21,124.41 789.46,125.00 789.71,126.75 789.96,125.77 790.21,125.39 790.46,126.18 790.71,125.97 790.96,125.46 791.21,127.35 791.46,127.83 791.71,127.45 791.96,128.40 792.21,129.21 792.46,130.06 792.71,131.17 792.96,129.44 793.21,129.48 793.46,128.96 793.71,129.61 793.96,129.31 794.21,129.39 794.46,129.01 794.71,130.91 794.96,130.48 795.21,131.60 795.46,131.43 795.71,132.47 795.96,132.76 796.21,132.92 796.46,132.41 796.71,131.12 796.96,130.70 797.21,131.01 797.46,131.52 797.71,130.88 797.96,130.31 798.21,128.32 798.46,126.98 798.71,125.45 798.96,124.02 799.21,122.36 799.46,122.64 799.71,121.16 799.96,119.68 800.21,117.03 800.46,116.04 800.71,115.64 800.96,116.12 801.21,113.65 801.46,114.35 801.71,112.40 801.96,111.54 802.21,110.77 802.46,111.65 802.71,110.21 802.96,110.67 803.21,110.68 803.46,110.86 803.71,109.93 803.96,110.59 804.21,111.41 804.46,112.90 804.71,114.79 804.96,115.93 805.21,115.74 805.46,114.27 805.71,111.43 805.96,110.80 806.21,109.18 806.46,107.71 806.71,107.85 806.96,108.60 807.21,110.33 807.46,111.09 807.71,112.19 807.96,113.01 808.21,113.44 808.46,113.55 808.71,116.19 808.96,117.37 809.21,119.70 809.46,121.63 809.71,119.97 809.96,120.01 810.21,118.93 810.46,121.97 810.71,123.38 810.96,121.95 811.21,122.17 811.46,121.77 811.71,120.50 811.96,119.16 812.21,118.04 812.46,117.07 812.71,116.90 812.96,116.29 813.21,117.33 813.46,117.01 813.71,116.31 813.96,117.89 814.21,118.21 814.46,118.95 814.71,116.74 814.96,116.54 815.21,112.96 815.46,112.07 815.71,110.75 815.96,109.40 816.21,108.96 816.46,107.61 816.71,105.27 816.96,105.27 817.21,105.06 817.46,105.78 817.71,105.64 817.96,106.20 818.21,106.98 818.46,108.84 818.71,110.47 818.96,111.48 819.21,112.12 819.46,112.32 819.71,114.61 819.96,114.61 820.21,117.66 820.46,116.99 820.71,117.80 820.96,118.79 821.21,120.32 821.46,119.46 821.71,118.41 821.96,119.22 822.21,119.90 822.46,119.95 822.71,119.81 822.96,120.76 823.21,121.30 823.46,121.28 823.71,121.76 823.96,120.21 824.21,119.28 824.46,119.66 824.71,117.65 824.96,115.90 825.21,115.39 825.46,115.76 825.71,114.52 825.96,114.34 826.21,112.70 826.46,112.45 826.71,111.53 826.96,110.22 827.21,109.38 827.46,107.55 827.71,104.87 827.96,102.95 828.21,100.74 828.46,100.89 828.71,99.19 828.96,97.91 829.21,96.23 829.46,95.18 829.71,94.15 829.96,94.36 830.21,93.04 830.46,91.55 830.71,91.17 830.96,89.93 831.21,89.64 831.46,88.15 831.71,90.64 831.96,92.31 832.21,91.88 832.46,93.42 832.71,94.65 832.96,93.87 833.21,93.99 833.46,94.48 833.71,96.17 833.96,97.33 834.21,96.02 834.46,97.61 834.71,97.47 834.96,99.14 835.21,99.20 835.46,100.52 835.71,102.11 835.96,103.92 836.21,105.81 836.46,105.58 836.71,106.65 836.96,107.42 837.21,106.39 837.46,105.24 837.71,104.84 837.96,103.78 838.21,103.70 838.46,102.95 838.71,101.86 838.96,102.02 839.21,100.59 839.46,100.59 839.71,99.84 839.96,97.71 840.21,95.74 840.46,96.15 840.71,94.95 840.96,94.52 841.21,94.42 841.46,93.54 841.71,91.58 841.96,92.04 842.21,91.34 842.46,90.44 842.71,88.69 842.96,88.67 843.21,86.51 843.46,87.69 843.71,89.94 843.96,90.59 844.21,92.47 844.46,94.45 844.71,94.46 844.96,95.84 845.21,97.05 845.46,97.00 845.71,96.59 845.96,95.98 846.21,97.01 846.46,96.34 846.71,97.20 846.96,97.88 847.21,99.18 847.46,100.27 847.71,102.62 847.96,100.88 848.21,103.00 848.46,103.53 848.71,104.79 848.96,105.87 849.21,106.78 849.46,106.65 849.71,107.25 849.96,108.23 850.21,107.52 850.46,108.44 850.71,107.53 850.96,106.64 851.21,106.68 851.46,107.01 851.71,108.13 851.96,108.01 852.21,108.57 852.46,109.15 852.71,107.40 852.96,107.85 853.21,107.20 853.46,106.35 853.71,105.95 853.96,105.97 854.21,106.27 854.46,108.08 854.71,108.96 854.96,107.98 855.21,107.23 855.46,107.51 855.71,107.13 855.96,108.21 856.21,109.26 856.46,110.38 856.71,111.23 856.96,111.80 857.21,113.73 857.46,115.05 857.71,116.85 857.96,116.74 858.21,116.97 858.46,119.19 858.71,119.89 858.96,120.08 859.21,121.99 859.46,123.80 859.71,122.39 859.96,122.25 860.21,121.71 860.46,122.17 860.71,121.47 860.96,121.74 861.21,120.95 861.46,120.63 861.71,121.46 861.96,122.45 862.21,123.88 862.46,124.37 862.71,125.18 862.96,125.99 863.21,126.53 863.46,122.83 863.71,123.41 863.96,121.64 864.21,120.89 864.46,119.00 864.71,119.19 864.96,117.32 865.21,115.39 865.46,115.82 865.71,114.68 865.96,113.87 866.21,113.10 866.46,112.77 866.71,113.07 866.96,113.93 867.21,113.77 867.46,112.93 867.71,112.68 867.96,111.42 868.21,111.83 868.46,111.96 868.71,111.39 868.96,109.67 869.21,109.93 869.46,109.25 869.71,109.33 869.96,109.40 870.21,107.65 870.46,106.90 870.71,108.03 870.96,108.20 871.21,110.06 871.46,110.58 871.71,111.54 871.96,111.77 872.21,112.96 872.46,113.52 872.71,113.87 872.96,114.16 873.21,114.38 873.46,114.11 873.71,114.75 873.96,115.59 874.21,116.31 874.46,116.59 874.71,116.96 874.96,116.99 875.21,117.48 875.46,117.71 875.71,116.36 875.96,114.99 876.21,112.59 876.46,112.00 876.71,110.47 876.96,108.25 877.21,108.27 877.46,107.28 877.71,106.05 877.96,104.52 878.21,103.69 878.46,102.84 878.71,102.92 878.96,103.90 879.21,105.74 879.46,108.74 879.71,110.08 879.96,111.18 880.21,113.23 880.46,114.01 880.71,115.53 880.96,116.98 881.21,117.93 881.46,117.40 881.71,116.62 881.96,115.73 882.21,114.56 882.46,114.40 882.71,112.60 882.96,111.70 883.21,112.46 883.46,111.10 883.71,109.87 883.96,109.09 884.21,109.86 884.46,111.72 884.71,112.05 884.96,113.55 885.21,114.72 885.46,115.04 885.71,115.05 885.96,115.02 886.21,116.33 886.46,116.58 886.71,116.74 886.96,117.72 887.21,117.83 887.46,118.46 887.71,118.93 887.96,117.97 888.21,120.17 888.46,120.52 888.71,121.05 888.96,122.43 889.21,120.40 889.46,119.72 889.71,118.16 889.96,117.72 890.21,116.81 890.46,117.77 890.71,117.93 890.96,117.15 891.21,117.21 891.46,115.41 891.71,114.01 891.96,112.36 892.21,110.19 892.46,108.15 892.71,107.34 892.96,107.17 893.21,105.53 893.46,104.34 893.71,103.80 893.96,102.72 894.21,102.49 894.46,102.27 894.71,101.14 894.96,98.96 895.21,98.57 895.46,97.29 895.71,97.39 895.96,97.68 896.21,97.53 896.46,97.67 896.71,97.56 896.96,99.20 897.21,102.03 897.46,103.61 897.71,105.43 897.96,106.35 898.21,108.70 898.46,109.82 898.71,108.86 898.96,106.70 899.21,105.65 899.46,104.55 899.71,103.80 899.96,102.24 900.21,99.45 900.46,99.57 900.71,99.35 900.96,98.38 901.21,97.93 901.46,100.30 901.71,101.87 901.96,101.88 902.21,103.15 902.46,105.60 902.71,107.34 902.96,109.24 903.21,108.14 903.46,110.42 903.71,113.00 903.96,114.83 904.21,115.87 904.46,116.13 904.71,116.96 904.96,117.54 905.21,118.73 905.46,117.89 905.71,117.11 905.96,114.99 906.21,112.80 906.46,111.51 906.71,111.34 906.96,113.47 907.21,114.84 907.46,114.29 907.71,114.46 907.96,114.64 908.21,113.41 908.46,112.55 908.71,113.00 908.96,111.57 909.21,112.04 909.46,109.88 909.71,111.19 909.96,112.65 910.21,111.25 910.46,111.49 910.71,111.17 910.96,112.45 911.21,113.22 911.46,112.76 911.71,111.41 911.96,110.84 912.21,112.37 912.46,111.15 912.71,109.79 912.96,110.37 913.21,110.07 913.46,110.12 913.71,110.59 913.96,108.95 914.21,109.33 914.46,108.33 914.71,108.29 914.96,108.01 915.21,105.99 915.46,106.39 915.71,104.83"/>
<polyline stroke="#40e0d0" points="146.96,214.18 147.21,214.65 147.46,215.56 147.71,216.46 147.96,218.97 148.21,219.28 148.46,220.02 148.71,220.56 148.96,221.55 149.21,222.30 149.46,224.54 149.71,225.76 149.96,228.66 150.21,227.15 150.46,225.59 150.71,224.78 150.96,223.49 151.21,222.80 151.46,221.24 151.71,220.24 151.96,219.95 152.21,219.55 152.46,219.87 152.71,218.72 152.96,218.63 153.21,219.19 153.46,220.34 153.71,220.41 153.96,221.29 154.21,220.37 154.46,220.52 154.71,220.98 154.96,221.11 155.21,219.91 155.46,218.28 155.71,215.70 155.96,214.44 156.21,212.15 156.46,211.33 156.71,210.52 156.96,209.74 157.21,208.84 157.46,209.77 157.71,209.04 157.96,207.75 158.21,208.11 158.46,209.08 158.71,208.90 158.96,208.67 159.21,209.20 159.46,210.96 159.71,210.25 159.96,211.71 160.21,213.52 160.46,214.04 160.71,213.26 160.96,212.85 161.21,214.03 161.46,215.55 161.71,216.22 161.96,217.30 162.21,219.26 162.46,217.33 162.71,215.42 162.96,216.46 163.21,215.18 163.46,212.96 163.71,211.98 163.96,209.79 164.21,207.77 164.46,206.19 164.71,204.58 164.96,202.98 165.21,202.46 165.46,201.23 165.71,199.47 165.96,197.24 166.21,195.54 166.46,194.22 166.71,193.05 166.96,192.82 167.21,192.12 167.46,188.93 167.71,188.15 167.96,187.17 168.21,185.12 168.46,183.97 168.71,182.68 168.96,181.92 169.21,181.42 169.46,179.90 169.71,179.47 169.96,178.23 170.21,178.78 170.46,177.99 170.71,178.29 170.96,179.44 171.21,180.48 171.46,181.42 171.71,179.36 171.96,177.86 172.21,177.01 172.46,176.00 172.71,175.51 172.96,174.65 173.21,174.47 173.46,173.90 173.71,172.66 173.96,171.40 174.21,169.79 174.46,168.61 174.71,169.21 174.96,168.66 175.21,168.10 175.46,167.74 175.71,169.75 175.96,171.02 176.21,171.66 176.46,171.55 176.71,171.69 176.96,172.58 177.21,172.02 177.46,172.43 177.71,171.29 177.96,171.15 178.21,171.35 178.46,170.60 178.71,169.63 178.96,171.07 179.21,171.71 179.46,172.79 179.71,173.90 179.96,173.43 180.21,174.04 180.46,174.39 180.71,175.21 180.96,175.82 181.21,177.50 181.46,179.06 181.71,180.00 181.96,180.15 182.21,181.60 182.46,181.98 182.71,182.46 182.96,183.35 183.21,183.09 183.46,183.01 183.71,185.03 183.96,186.06 184.21,186.67 184.46,188.85 184.71,188.25 184.96,189.10 185.21,189.64 185.46,190.03 185.71,191.58 185.96,193.03 186.21,194.11 186.46,195.34 186.71,196.61 186.96,197.51 187.21,200.68 187.46,201.86 187.71,204.79 187.96,204.59 188.21,206.45 188.46,207.52 188.71,207.83 188.96,209.73 189.21,210.54 189.46,212.44 189.71,213.37 189.96,213.24 190.21,213.45 190.46,210.47 190.71,209.67 190.96,209.47 191.21,209.87 191.46,209.98 191.71,210.36 191.96,209.73 192.21,210.57 192.46,211.28 192.71,213.13 192.96,213.22 193.21,214.71 193.46,217.27 193.71,218.57 193.96,221.01 194.21,222.81 194.46,223.15 194.71,224.84 194.96,223.76 195.21,224.34 195.46,223.72 195.71,223.51 195.96,223.45 196.21,223.09 196.46,223.42 196.71,222.20 196.96,223.08 197.21,223.00 197.46,221.99 197.71,219.45 197.96,217.42 198.21,215.91 198.46,217.73 198.71,219.64 198.96,219.11 199.21,219.99 199.46,220.15 199.71,221.37 199.96,220.76 200.21,218.75 200.46,215.87 200.71,214.33 200.96,213.30 201.21,212.47 201.46,210.91 201.71,208.54 201.96,207.94 202.21,207.64 202.46,204.68 202.71,203.95 202.96,204.28 203.21,202.34 203.46,200.52 203.71,199.32 203.96,199.54 204.21,199.10 204.46,195.19 204.71,194.45 204.96,192.86 205.21,191.55 205.46,192.50 205.71,192.14 205.96,192.35 206.21,190.91 206.46,189.55 206.71,187.89 206.96,187.15 207.21,187.07 207.46,186.62 207.71,184.75 207.96,183.74 208.21,182.27 208.46,181.39 208.71,182.24 208.96,184.63 209.21,187.31 209.46,188.90 209.71,191.03 209.96,193.55 210.21,196.20 210.46,200.62 210.71,200.89 210.96,199.84 211.21,197.13 211.46,196.96 211.71,195.44 211.96,195.64 212.21,194.54 212.46,193.53 212.71,194.88 212.96,195.72 213.21,195.97 213.46,198.10 213.71,199.83 213.96,201.99 214.21,204.20 214.46,205.81 214.71,209.15 214.96,210.74 215.21,212.98 215.46,212.96 215.71,213.19 215.96,211.84 216.21,210.58 216.46,211.03 216.71,212.07 216.96,211.85 217.21,210.74 217.46,210.69 217.71,210.30 217.96,209.76 218.21,210.23 218.46,210.24 218.71,210.42 218.96,209.68 219.21,209.56 219.46,210.28 219.71,212.36 219.96,211.88 220.21,213.83 220.46,214.13 220.71,215.34 220.96,217.38 221.21,219.14 221.46,221.71 221.71,223.78 221.96,224.64 222.21,224.92 222.46,227.13 222.71,226.32 222.96,226.80 223.21,226.50 223.46,227.26 223.71,228.38 223.96,229.69 224.21,228.75 224.46,230.15 224.71,231.31 224.96,230.60 225.21,232.09 225.46,232.91 225.71,234.27 225.96,235.24 226.21,235.42 226.46,235.42 226.71,236.01 226.96,237.37 227.21,238.62 227.46,236.33 227.71,234.66 227.96,232.65 228.21,230.75 228.46,228.38 228.71,227.01 228.96,226.00 229.21,225.55 229.46,223.90 229.71,222.54 229.96,222.08 230.21,222.52 230.46,222.39 230.71,221.23 230.96,222.71 231.21,224.14 231.46,223.46 231.71,223.76 231.96,222.47 232.21,220.51 232.46,220.01 232.71,218.98 232.96,218.75 233.21,216.63 233.46,215.44 233.71,214.64 233.96,211.66 234.21,210.96 234.46,210.08 234.71,209.64 234.96,208.81 235.21,208.67 235.46,208.10 235.71,207.87 235.96,208.02 236.21,209.15 236.46,206.84 236.71,205.56 236.96,205.56 237.21,205.42 237.46,204.59 237.71,203.27 237.96,201.51 238.21,200.41 238.46,199.41 238.71,198.39 238.96,197.74 239.21,195.93 239.46,195.22 239.71,192.63 239.96,191.25 240.21,189.48 240.46,188.91 240.71,185.66 240.96,183.36 241.21,182.02 241.46,182.32 241.71,180.84 241.96,179.48 242.21,179.77 242.46,177.70 242.71,175.04 242.96,178.14 243.21,179.47 243.46,180.44 243.71,181.91 243.96,183.64 244.21,184.94 244.46,185.93 244.71,183.58 244.96,184.20 245.21,182.17 245.46,182.42 245.71,180.73 245.96,179.80 246.21,180.76 246.46,182.11 246.71,181.03 246.96,183.24 247.21,185.13 247.46,186.01 247.71,186.76 247.96,186.86 248.21,185.99 248.46,185.54 248.71,186.85 248.96,188.28 249.21,189.95 249.46,189.74 249.71,189.18 249.96,188.65 250.21,188.39 250.46,187.78 250.71,187.54 250.96,186.41 251.21,189.86 251.46,191.23 251.71,194.59 251.96,197.46 252.21,200.13 252.46,198.28 252.71,195.81 252.96,192.90 253.21,189.28 253.46,187.26 253.71,187.66 253.96,186.82 254.21,186.66 254.46,185.87 254.71,185.88 254.96,184.39 255.21,182.51 255.46,183.55 255.71,182.86 255.96,183.81 256.21,185.01 256.46,186.24 256.71,187.29 256.96,187.60 257.21,187.74 257.46,188.20 257.71,190.45 257.96,190.66 258.21,189.35 258.46,190.30 258.71,192.80 258.96,194.26 259.21,195.23 259.46,197.06 259.71,197.75 259.96,198.78 260.21,200.24 260.46,201.17 260.71,202.30 260.96,202.97 261.21,204.92 261.46,205.38 261.71,207.41 261.96,209.17 262.21,210.72 262.46,210.44 262.71,210.38 262.96,210.85 263.21,209.12 263.46,207.35 263.71,205.99 263.96,204.13 264.21,204.22 264.46,204.67 264.71,205.62 264.96,209.23 265.21,209.84 265.46,209.60 265.71,210.76 265.96,209.24 266.21,210.66 266.46,210.92 266.71,208.14 266.96,205.58 267.21,204.58 267.46,202.85 267.71,202.11 267.96,202.07 268.21,203.76 268.46,202.26 268.71,200.64 268.96,198.81 269.21,199.58 269.46,200.33 269.71,200.76 269.96,198.96 270.21,197.29 270.46,195.40 270.71,193.25 270.96,193.14 271.21,191.63 271.46,191.19 271.71,188.47 271.96,188.53 272.21,185.85 272.46,186.86 272.71,187.85 272.96,187.20 273.21,187.94 273.46,187.79 273.71,188.15 273.96,190.25 274.21,190.17 274.46,191.68 274.71,193.26 274.96,194.29 275.21,194.94 275.46,194.36 275.71,195.29 275.96,195.93 276.21,196.04 276.46,196.08 276.71,195.82 276.96,197.32 277.21,198.06 277.46,197.24 277.71,195.25 277.96,193.77 278.21,193.14 278.46,193.08 278.71,191.71 278.96,190.11 279.21,189.83 279.46,188.25 279.71,188.50 279.96,188.92 280.21,188.25 280.46,188.50 280.71,187.93 280.96,187.98 281.21,186.98 281.46,187.95 281.71,187.87 281.96,188.76 282.21,189.32 282.46,189.62 282.71,188.63 282.96,189.60 283.21,186.95 283.46,185.98 283.71,184.89 283.96,182.99 284.21,182.54 284.46,180.99 284.71,180.37 284.96,178.00 285.21,177.17 285.46,177.12 285.71,175.74 285.96,174.25 286.21,174.06 286.46,172.80 286.71,173.05 286.96,172.30 287.21,171.12 287.46,169.16 287.71,167.45 287.96,167.27 288.21,168.21 288.46,167.50 288.71,167.72 288.96,167.50 289.21,167.81 289.46,168.25 289.71,167.55 289.96,169.11 290.21,170.70 290.46,171.09 290.71,172.01 290.96,175.16 291.21,176.31 291.46,177.72 291.71,178.41 291.96,179.38 292.21,181.03 292.46,183.49 292.71,184.50 292.96,184.65 293.21,184.99 293.46,186.80 293.71,188.55 293.96,188.26 294.21,189.37 294.46,191.55 294.71,193.46 294.96,195.35 295.21,197.41 295.46,197.91 295.71,200.10 295.96,200.63 296.21,200.01 296.46,199.95 296.71,199.93 296.96,200.56 297.21,200.31 297.46,199.10 297.71,199.73 297.96,199.93 298.21,201.21 298.46,201.45 298.71,201.91 298.96,203.75 299.21,202.60 299.46,204.52 299.71,203.34 299.96,202.64 300.21,201.66 300.46,200.56 300.71,200.37 300.96,199.79 301.21,199.64 301.46,198.72 301.71,198.03 301.96,197.18 302.21,196.92 302.46,196.08 302.71,198.94 302.96,198.88 303.21,200.75 303.46,202.29 303.71,203.85 303.96,205.24 304.21,206.09 304.46,207.43 304.71,208.21 304.96,209.10 305.21,210.97 305.46,211.62 305.71,213.15 305.96,214.62 306.21,215.19 306.46,216.40 306.71,217.22 306.96,217.65 307.21,219.60 307.46,218.46 307.71,216.84 307.96,214.12 308.21,213.54 308.46,211.46 308.71,209.73 308.96,211.78 309.21,213.07 309.46,213.61 309.71,213.92 309.96,214.55 310.21,214.21 310.46,216.07 310.71,215.85 310.96,217.16 311.21,217.56 311.46,217.58 311.71,217.49 311.96,216.32 312.21,215.54 312.46,213.93 312.71,212.97 312.96,211.24 313.21,210.12 313.46,208.33 313.71,206.11 313.96,203.19 314.21,202.20 314.46,200.52 314.71,198.58 314.96,197.34 315.21,196.15 315.46,193.84 315.71,192.08 315.96,192.23 316.21,192.12 316.46,190.56 316.71,190.04 316.96,189.00 317.21,190.13 317.46,190.27 317.71,191.24 317.96,190.08 318.21,190.81 318.46,192.82 318.71,192.90 318.96,193.15 319.21,192.96 319.46,189.89 319.71,189.54 319.96,190.07 320.21,189.30 320.46,190.15 320.71,189.06 320.96,188.10 321.21,187.09 321.46,185.54 321.71,184.43 321.96,183.77 322.21,181.50 322.46,178.89 322.71,176.93 322.96,174.43 323.21,171.83 323.46,169.21 323.71,168.01 323.96,167.05 324.21,166.31 324.46,164.73 324.71,164.39 324.96,163.60 325.21,161.75 325.46,160.89 325.71,159.75 325.96,158.64 326.21,157.36 326.46,157.18 326.71,156.52 326.96,156.34 327.21,154.49 327.46,154.70 327.71,155.14 327.96,153.55 328.21,152.17 328.46,152.55 328.71,153.43 328.96,153.15 329.21,153.10 329.46,152.30 329.71,154.36 329.96,154.35 330.21,154.46 330.46,154.23 330.71,153.49 330.96,153.18 331.21,152.25 331.46,152.06 331.71,151.77 331.96,151.68 332.21,150.96 332.46,150.83 332.71,150.15 332.96,148.73 333.21,147.76 333.46,149.66 333.71,147.84 333.96,148.46 334.21,147.44 334.46,146.00 334.71,146.56 334.96,147.79 335.21,147.84 335.46,147.85 335.71,147.95 335.96,148.94 336.21,147.00 336.46,146.86 336.71,146.56 336.96,146.12 337.21,145.80 337.46,144.20 337.71,144.72 337.96,144.28 338.21,143.51 338.46,142.44 338.71,141.98 338.96,141.59 339.21,140.46 339.46,139.64 339.71,141.58 339.96,143.30 340.21,144.46 340.46,144.89 340.71,146.95 340.96,148.35 341.21,152.90 341.46,156.84 341.71,158.21 341.96,160.29 342.21,161.87 342.46,164.99 342.71,166.72 342.96,168.77 343.21,170.41 343.46,172.23 343.71,173.73 343.96,175.50 344.21,176.46 344.46,177.28 344.71,178.42 344.96,178.29 345.21,177.07 345.46,179.96 345.71,182.02 345.96,182.90 346.21,183.66 346.46,185.56 346.71,187.91 346.96,188.65 347.21,189.04 347.46,191.17 347.71,192.25 347.96,192.09 348.21,192.56 348.46,193.03 348.71,192.45 348.96,192.17 349.21,192.20 349.46,192.10 349.71,192.37 349.96,193.12 350.21,193.40 350.46,194.89 350.71,193.37 350.96,194.66 351.21,195.31 351.46,197.54 351.71,198.56 351.96,199.35 352.21,199.52 352.46,199.81 352.71,201.47 352.96,202.72 353.21,202.66 353.46,203.69 353.71,203.67 353.96,203.19 354.21,204.44 354.46,203.44 354.71,202.49 354.96,204.23 355.21,203.89 355.46,203.66 355.71,203.94 355.96,203.49 356.21,203.78 356.46,201.56 356.71,201.08 356.96,200.97 357.21,200.17 357.46,201.01 357.71,200.94 357.96,199.32 358.21,200.67 358.46,201.26 358.71,201.26 358.96,201.50 359.21,201.24 359.46,202.01 359.71,203.99 359.96,205.46 360.21,207.60 360.46,209.09 360.71,211.96 360.96,210.77 361.21,210.90 361.46,212.07 361.71,212.12 361.96,211.35 362.21,213.57 362.46,211.27 362.71,208.54 362.96,207.53 363.21,205.36 363.46,205.09 363.71,207.27 363.96,208.16 364.21,209.08 364.46,210.33 364.71,211.78 364.96,212.80 365.21,210.93 365.46,212.84 365.71,211.99 365.96,211.56 366.21,212.25 366.46,211.88 366.71,211.60 366.96,211.30 367.21,210.62 367.46,210.33 367.71,210.58 367.96,210.73 368.21,208.91 368.46,210.57 368.71,209.95 368.96,209.16 369.21,210.68 369.46,212.45 369.71,211.46 369.96,208.92 370.21,205.22 370.46,201.84 370.71,199.12 370.96,195.62 371.21,194.14 371.46,192.92 371.71,193.56 371.96,196.09 372.21,197.54 372.46,199.95 372.71,201.54 372.96,203.33 373.21,206.29 373.46,208.35 373.71,210.14 373.96,212.04 374.21,211.98 374.46,212.61 374.71,214.65 374.96,215.19 375.21,215.94 375.46,214.87 375.71,215.33 375.96,216.78 376.21,217.32 376.46,218.76 376.71,219.65 376.96,219.73 377.21,219.27 377.46,219.18 377.71,220.39 377.96,221.02 378.21,222.09 378.46,222.18 378.71,220.47 378.96,220.63 379.21,220.63 379.46,220.90 379.71,220.01 379.96,218.77 380.21,218.41 380.46,218.75 380.71,216.45 380.96,216.56 381.21,215.75 381.46,215.72 381.71,214.49 381.96,212.84 382.21,212.03 382.46,211.90 382.71,210.66 382.96,209.42 383.21,207.71 383.46,207.33 383.71,207.49 383.96,208.25 384.21,206.22 384.46,205.44 384.71,204.86 384.96,204.17 385.21,204.62 385.46,204.42 385.71,204.03 385.96,202.85 386.21,203.12 386.46,203.41 386.71,202.37 386.96,202.83 387.21,202.91 387.46,203.38 387.71,204.18 387.96,204.20 388.21,204.58 388.46,204.67 388.71,202.43 388.96,202.10 389.21,200.25 389.46,199.87 389.71,202.07 389.96,206.27 390.21,206.98 390.46,208.43 390.71,211.12 390.96,213.70 391.21,216.77 391.46,220.02 391.71,220.31 391.96,219.77 392.21,217.62 392.46,216.86 392.71,217.24 392.96,215.29 393.21,212.16 393.46,213.21 393.71,212.59 393.96,213.58 394.21,211.82 394.46,211.53 394.71,210.62 394.96,209.39 395.21,208.87 395.46,208.76 395.71,208.14 395.96,208.91 396.21,208.29 396.46,208.12 396.71,208.79 396.96,209.93 397.21,210.27 397.46,212.07 397.71,213.61 397.96,213.84 398.21,215.79 398.46,215.21 398.71,216.99 398.96,218.36 399.21,219.07 399.46,220.75 399.71,220.74 399.96,220.41 400.21,222.51 400.46,221.79 400.71,221.59 400.96,221.32 401.21,224.97 401.46,225.82 401.71,226.07 401.96,227.37 402.21,228.97 402.46,231.06 402.71,231.32 402.96,231.03 403.21,230.16 403.46,229.67 403.71,229.01 403.96,227.17 404.21,226.44 404.46,225.34 404.71,223.79 404.96,224.75 405.21,225.35 405.46,225.23 405.71,226.94 405.96,225.93 406.21,224.84 406.46,223.50 406.71,223.78 406.96,221.77 407.21,221.10 407.46,219.89 407.71,217.97 407.96,216.49 408.21,215.04 408.46,214.36 408.71,214.89 408.96,214.78 409.21,214.86 409.46,214.18 409.71,214.04 409.96,212.39 410.21,212.20 410.46,209.60 410.71,208.73 410.96,208.59 411.21,207.19 411.46,205.96 411.71,204.30 411.96,202.92 412.21,200.69 412.46,201.56 412.71,200.57 412.96,197.48 413.21,196.47 413.46,195.85 413.71,195.14 413.96,194.00 414.21,193.12 414.46,192.68 414.71,191.74 414.96,192.27 415.21,191.98 415.46,192.75 415.71,193.05 415.96,193.39 416.21,192.96 416.46,192.17 416.71,190.85 416.96,189.21 417.21,188.77 417.46,187.33 417.71,185.72 417.96,185.15 418.21,185.20 418.46,183.99 418.71,183.50 418.96,181.81 419.21,180.83 419.46,178.83 419.71,175.47 419.96,173.98 420.21,172.49 420.46,172.15 420.71,170.97 420.96,168.96 421.21,166.89 421.46,167.63 421.71,166.20 421.96,164.91 422.21,164.98 422.46,164.18 422.71,163.77 422.96,164.31 423.21,165.75 423.46,165.56 423.71,165.09 423.96,166.57 424.21,166.66 424.46,165.50 424.71,164.09 424.96,164.79 425.21,162.65 425.46,161.18 425.71,159.78 425.96,158.89 426.21,158.57 426.46,158.34 426.71,156.81 426.96,156.17 427.21,155.91 427.46,155.44 427.71,155.00 427.96,153.83 428.21,153.64 428.46,152.04 428.71,152.33 428.96,151.70 429.21,150.03 429.46,149.46 429.71,149.85 429.96,149.79 430.21,149.41 430.46,149.14 430.71,147.74 430.96,146.81 431.21,146.45 431.46,146.88 431.71,145.82 431.96,146.93 432.21,147.48 432.46,148.35 432.71,149.44 432.96,150.86 433.21,152.51 433.46,153.08 433.71,152.55 433.96,153.59 434.21,155.11 434.46,154.61 434.71,155.55 434.96,155.91 435.21,154.25 435.46,153.31 435.71,153.54 435.96,153.79 436.21,153.89 436.46,153.04 436.71,152.60 436.96,153.06 437.21,153.16 437.46,152.72 437.71,153.15 437.96,152.07 438.21,150.13 438.46,149.13 438.71,148.34 438.96,147.94 439.21,146.87 439.46,145.82 439.71,143.81 439.96,143.30 440.21,143.79 440.46,143.82 440.71,144.17 440.96,142.12 441.21,142.86 441.46,142.53 441.71,141.35 441.96,140.36 442.21,139.19 442.46,136.87 442.71,136.16 442.96,136.15 443.21,134.72 443.46,134.90 443.71,135.04 443.96,133.32 444.21,133.29 444.46,132.80 444.71,134.27 444.96,134.93 445.21,136.20 445.46,137.56 445.71,138.13 445.96,138.96 446.21,141.30 446.46,142.68 446.71,144.48 446.96,144.75 447.21,145.83 447.46,145.85 447.71,146.24 447.96,147.89 448.21,148.96 448.46,149.60 448.71,151.41 448.96,152.46 449.21,152.33 449.46,154.10 449.71,156.50 449.96,156.09 450.21,156.73 450.46,157.45 450.71,159.25 450.96,159.92 451.21,159.60 451.46,159.19 451.71,158.84 451.96,160.39 452.21,159.49 452.46,159.94 452.71,160.22 452.96,160.63 453.21,161.52 453.46,161.14 453.71,161.99 453.96,162.92 454.21,163.91 454.46,164.30 454.71,164.54 454.96,164.67 455.21,164.75 455.46,164.83 455.71,166.37 455.96,166.75 456.21,166.92 456.46,167.18 456.71,167.04 456.96,168.54 457.21,167.03 457.46,168.43 457.71,168.46 457.96,168.91 458.21,170.27 458.46,171.75 458.71,172.99 458.96,173.35 459.21,174.45 459.46,175.42 459.71,175.03 459.96,175.95 460.21,175.77 460.46,175.36 460.71,176.72 460.96,176.17 461.21,175.17 461.46,173.87 461.71,173.93 461.96,173.79 462.21,175.65 462.46,177.83 462.71,179.89 462.96,183.37 463.21,185.26 463.46,186.86 463.71,186.18 463.96,184.09 464.21,184.17 464.46,182.68 464.71,180.87 464.96,180.40 465.21,178.28 465.46,176.17 465.71,172.97 465.96,170.99 466.21,170.01 466.46,167.81 466.71,167.03 466.96,165.92 467.21,163.87 467.46,162.83 467.71,161.69 467.96,161.53 468.21,160.04 468.46,157.72 468.71,157.19 468.96,155.54 469.21,154.15 469.46,152.47 469.71,153.41 469.96,155.93 470.21,157.11 470.46,156.90 470.71,159.31 470.96,159.89 471.21,159.33 471.46,161.55 471.71,163.83 471.96,165.91 472.21,168.03 472.46,168.19 472.71,169.75 472.96,170.03 473.21,171.09 473.46,172.45 473.71,173.88 473.96,173.99 474.21,174.60 474.46,175.37 474.71,175.82 474.96,172.13 475.21,170.45 475.46,170.76 475.71,167.83 475.96,165.90 476.21,165.28 476.46,163.14 476.71,160.31 476.96,160.02 477.21,159.22 477.46,157.85 477.71,156.60 477.96,155.45 478.21,154.54 478.46,151.65 478.71,152.70 478.96,151.91 479.21,151.41 479.46,151.75 479.71,152.96 479.96,154.68 480.21,155.25 480.46,155.61 480.71,155.79 480.96,155.61 481.21,154.97 481.46,153.36 481.71,152.35 481.96,151.22 482.21,152.68 482.46,151.68 482.71,151.10 482.96,151.44 483.21,151.78 483.46,151.05 483.71,152.21 483.96,152.68 484.21,153.80 484.46,152.80 484.71,152.18 484.96,153.11 485.21,153.13 485.46,154.67 485.71,156.19 485.96,158.45 486.21,160.57 486.46,161.34 486.71,162.71 486.96,164.32 487.21,165.37 487.46,165.77 487.71,166.38 487.96,168.88 488.21,170.58 488.46,170.37 488.71,172.53 488.96,175.52 489.21,176.73 489.46,178.40 489.71,177.16 489.96,177.82 490.21,177.15 490.46,176.89 490.71,176.72 490.96,177.79 491.21,176.57 491.46,173.62 491.71,172.25 491.96,170.04 492.21,167.29 492.46,164.96 492.71,162.57 492.96,162.40 493.21,159.60 493.46,159.51 493.71,157.93 493.96,155.82 494.21,154.74 494.46,155.55 494.71,154.32 494.96,152.18 495.21,153.38 495.46,152.74 495.71,154.49 495.96,156.75 496.21,158.19 496.46,157.67 496.71,158.56 496.96,160.72 497.21,161.61 497.46,163.52 497.71,164.00 497.96,163.93 498.21,165.88 498.46,167.00 498.71,166.56 498.96,167.21 499.21,168.03 499.46,169.49 499.71,169.02 499.96,169.63 500.21,171.71 500.46,171.25 500.71,172.34 500.96,174.18 501.21,175.85 501.46,176.44 501.71,178.28 501.96,178.29 502.21,179.61 502.46,180.88 502.71,183.19 502.96,185.26 503.21,184.52 503.46,186.29 503.71,186.35 503.96,185.88 504.21,187.14 504.46,189.56 504.71,190.97 504.96,192.45 505.21,193.99 505.46,194.29 505.71,195.18 505.96,196.24 506.21,196.50 506.46,196.21 506.71,197.89 506.96,196.26 507.21,195.82 507.46,194.70 507.71,193.30 507.96,191.79 508.21,189.90 508.46,191.22 508.71,189.66 508.96,187.22 509.21,186.51 509.46,184.70 509.71,185.06 509.96,183.66 510.21,182.53 510.46,183.11 510.71,182.20 510.96,181.39 511.21,181.93 511.46,179.42 511.71,179.39 511.96,179.80 512.21,180.32 512.46,179.36 512.71,180.38 512.96,180.94 513.21,180.36 513.46,181.28 513.71,181.43 513.96,181.42 514.21,182.06 514.46,182.12 514.71,181.53 514.96,182.05 515.21,183.03 515.46,181.48 515.71,180.79 515.96,181.31 516.21,180.43 516.46,180.47 516.71,180.12 516.96,179.74 517.21,179.07 517.46,180.30 517.71,178.72 517.96,179.69 518.21,180.72 518.46,180.65 518.71,180.49 518.96,181.22 519.21,181.74 519.46,182.10 519.71,182.88 519.96,182.77 520.21,182.00 520.46,183.85 520.71,182.80 520.96,182.76 521.21,181.17 521.46,180.70 521.71,181.77 521.96,181.20 522.21,183.85 522.46,183.38 522.71,184.43 522.96,185.47 523.21,185.41 523.46,185.02 523.71,183.73 523.96,182.66 524.21,181.59 524.46,180.11 524.71,178.85 524.96,176.83 525.21,176.02 525.46,173.05 525.71,171.53 525.96,172.57 526.21,172.52 526.46,172.45 526.71,173.50 526.96,175.41 527.21,178.51 527.46,181.44 527.71,182.44 527.96,183.51 528.21,185.34 528.46,186.55 528.71,187.44 528.96,185.80 529.21,185.81 529.46,184.31 529.71,182.93 529.96,180.61 530.21,181.31 530.46,180.43 530.71,180.95 530.96,181.55 531.21,182.44 531.46,184.24 531.71,185.20 531.96,187.72 532.21,187.63 532.46,188.51 532.71,188.18 532.96,189.03 533.21,188.65 533.46,189.76 533.71,190.02 533.96,190.69 534.21,192.00 534.46,192.54 534.71,193.57 534.96,193.05 535.21,192.47 535.46,191.13 535.71,189.79 535.96,188.44 536.21,187.73 536.46,187.23 536.71,187.54 536.96,187.52 537.21,189.21 537.46,189.31 537.71,189.30 537.96,189.98 538.21,189.75 538.46,188.36 538.71,189.52 538.96,188.39 539.21,185.61 539.46,183.08 539.71,181.78 539.96,178.89 540.21,178.56 540.46,177.77 540.71,177.33 540.96,176.66 541.21,173.95 541.46,171.41 541.71,168.93 541.96,166.62 542.21,164.64 542.46,161.72 542.71,161.59 542.96,161.34 543.21,162.44 543.46,162.51 543.71,163.26 543.96,164.14 544.21,165.66 544.46,165.28 544.71,167.47 544.96,168.27 545.21,169.07 545.46,171.15 545.71,171.63 545.96,168.50 546.21,165.89 546.46,164.89 546.71,164.47 546.96,161.65 547.21,158.90 547.46,158.48 547.71,161.03 547.96,160.99 548.21,162.17 548.46,161.43 548.71,160.86 548.96,161.51 549.21,157.78 549.46,157.74 549.71,157.12 549.96,156.01 550.21,155.34 550.46,155.40 550.71,155.47 550.96,155.46 551.21,155.47 551.46,155.50 551.71,156.05 551.96,154.48 552.21,155.35 552.46,155.12 552.71,153.11 552.96,154.62 553.21,153.67 553.46,153.97 553.71,152.65 553.96,151.70 554.21,152.14 554.46,154.12 554.71,154.34 554.96,152.67 555.21,150.93 555.46,150.71 555.71,151.98 555.96,153.06 556.21,153.02 556.46,152.71 556.71,153.24 556.96,153.32 557.21,152.74 557.46,152.50 557.71,151.94 557.96,152.12 558.21,151.91 558.46,151.20 558.71,150.57 558.96,152.04 559.21,151.66 559.46,153.94 559.71,157.20 559.96,160.39 560.21,163.73 560.46,167.05 560.71,168.64 560.96,169.28 561.21,169.84 561.46,170.01 561.71,171.78 561.96,173.41 562.21,173.95 562.46,175.86 562.71,174.22 562.96,175.36 563.21,174.64 563.46,174.79 563.71,173.77 563.96,174.15 564.21,175.20 564.46,174.66 564.71,172.56 564.96,174.64 565.21,176.17 565.46,178.03 565.71,178.00 565.96,180.70 566.21,180.81 566.46,182.71 566.71,185.30 566.96,185.03 567.21,184.32 567.46,182.83 567.71,180.90 567.96,179.97 568.21,177.23 568.46,177.90 568.71,179.69 568.96,180.51 569.21,184.15 569.46,186.69 569.71,189.58 569.96,191.23 570.21,191.13 570.46,189.10 570.71,188.07 570.96,188.28 571.21,186.83 571.46,186.44 571.71,186.50 571.96,186.44 572.21,187.54 572.46,187.69 572.71,188.52 572.96,188.79 573.21,189.08 573.46,191.16 573.71,190.26 573.96,190.92 574.21,192.80 574.46,192.07 574.71,192.27 574.96,194.45 575.21,195.42 575.46,196.02 575.71,197.34 575.96,199.37 576.21,199.68 576.46,200.59 576.71,201.14 576.96,200.96 577.21,201.90 577.46,202.69 577.71,202.80 577.96,200.30 578.21,199.43 578.46,196.67 578.71,195.60 578.96,193.12 579.21,191.97 579.46,190.02 579.71,186.24 579.96,183.20 580.21,182.74 580.46,180.19 580.71,178.65 580.96,177.97 581.21,176.14 581.46,174.89 581.71,175.70 581.96,177.48 582.21,178.45 582.46,178.68 582.71,179.89 582.96,179.23 583.21,180.35 583.46,180.54 583.71,179.53 583.96,179.95 584.21,181.75 584.46,182.84 584.71,181.72 584.96,181.74 585.21,179.51 585.46,179.87 585.71,178.82 585.96,178.66 586.21,178.72 586.46,178.97 586.71,179.16 586.96,179.71 587.21,179.61 587.46,179.72 587.71,180.37 587.96,178.20 588.21,178.77 588.46,178.03 588.71,174.92 588.96,174.34 589.21,174.05 589.46,173.07 589.71,171.46 589.96,169.95 590.21,169.04 590.46,169.54 590.71,169.25 590.96,167.89 591.21,166.63 591.46,164.76 591.71,164.65 591.96,162.50 592.21,161.78 592.46,160.13 592.71,159.37 592.96,159.56 593.21,159.86 593.46,159.20 593.71,157.48 593.96,156.43 594.21,155.10 594.46,154.36 594.71,153.55 594.96,152.17 595.21,152.58 595.46,152.09 595.71,150.17 595.96,150.49 596.21,150.42 596.46,150.39 596.71,151.78 596.96,151.92 597.21,152.00 597.46,152.84 597.71,153.27 597.96,154.36 598.21,155.33 598.46,154.36 598.71,154.11 598.96,153.16 599.21,153.92 599.46,154.68 599.71,155.56 599.96,156.20 600.21,156.87 600.46,158.17 600.71,159.10 600.96,159.43 601.21,158.58 601.46,158.21 601.71,156.79 601.96,155.81 602.21,153.29 602.46,154.01 602.71,154.63 602.96,156.46 603.21,156.18 603.46,155.11 603.71,155.24 603.96,155.60 604.21,157.88 604.46,160.20 604.71,160.48 604.96,160.68 605.21,163.05 605.46,163.56 605.71,164.68 605.96,166.14 606.21,166.83 606.46,168.48 606.71,169.96 606.96,169.34 607.21,170.59 607.46,170.27 607.71,169.51 607.96,167.55 608.21,168.37 608.46,171.73 608.71,173.58 608.96,177.60 609.21,180.41 609.46,180.86 609.71,183.55 609.96,183.44 610.21,186.79 610.46,186.14 610.71,186.06 610.96,187.48 611.21,187.42 611.46,188.07 611.71,188.83 611.96,189.76 612.21,190.49 612.46,191.09 612.71,192.15 612.96,191.91 613.21,194.16 613.46,193.75 613.71,194.92 613.96,195.63 614.21,194.09 614.46,193.43 614.71,191.67 614.96,190.82 615.21,190.30 615.46,189.14 615.71,188.11 615.96,188.87 616.21,188.13 616.46,187.34 616.71,187.51 616.96,186.81 617.21,186.79 617.46,187.93 617.71,188.11 617.96,188.46 618.21,189.85 618.46,190.48 618.71,190.80 618.96,190.73 619.21,190.48 619.46,191.48 619.71,192.56 619.96,193.22 620.21,192.90 620.46,193.64 620.71,195.56 620.96,195.59 621.21,197.30 621.46,199.39 621.71,201.24 621.96,201.30 622.21,202.53 622.46,204.38 622.71,205.84 622.96,207.64 623.21,209.75 623.46,211.14 623.71,211.67 623.96,213.21 624.21,215.58 624.46,213.66 624.71,211.99 624.96,209.48 625.21,208.28 625.46,207.17 625.71,205.70 625.96,204.00 626.21,201.85 626.46,199.47 626.71,199.67 626.96,197.24 627.21,195.10 627.46,192.19 627.71,191.87 627.96,190.72 628.21,190.27 628.46,187.76 628.71,186.99 628.96,186.65 629.21,184.94 629.46,185.68 629.71,184.60 629.96,184.58 630.21,183.68 630.46,184.09 630.71,182.58 630.96,182.80 631.21,182.62 631.46,181.83 631.71,181.21 631.96,180.71 632.21,180.72 632.46,180.19 632.71,179.03 632.96,178.74 633.21,179.38 633.46,178.82 633.71,178.00 633.96,177.79 634.21,179.73 634.46,182.79 634.71,184.02 634.96,185.55 635.21,186.70 635.46,186.87 635.71,184.97 635.96,183.27 636.21,183.59 636.46,184.67 636.71,183.48 636.96,182.89 637.21,183.64 637.46,184.58 637.71,182.34 637.96,184.35 638.21,185.22 638.46,185.77 638.71,185.24 638.96,185.24 639.21,185.47 639.46,187.06 639.71,186.86 639.96,186.50 640.21,186.37 640.46,185.39 640.71,183.49 640.96,183.39 641.21,182.57 641.46,182.92 641.71,183.57 641.96,182.73 642.21,181.28 642.46,180.32 642.71,179.84 642.96,180.19 643.21,178.57 643.46,178.63 643.71,177.06 643.96,176.43 644.21,175.10 644.46,175.94 644.71,175.94 644.96,176.54 645.21,177.46 645.46,177.83 645.71,177.60 645.96,175.97 646.21,177.17 646.46,176.66 646.71,176.39 646.96,175.65 647.21,175.52 647.46,174.77 647.71,173.88 647.96,173.78 648.21,175.59 648.46,176.30 648.71,176.78 648.96,177.49 649.21,178.62 649.46,178.00 649.71,178.62 649.96,178.40 650.21,178.23 650.46,177.53 650.71,177.65 650.96,177.09 651.21,176.92 651.46,177.19 651.71,177.22 651.96,178.03 652.21,177.73 652.46,177.76 652.71,178.30 652.96,177.88 653.21,177.69 653.46,175.25 653.71,174.07 653.96,174.35 654.21,173.77 654.46,173.59 654.71,172.65 654.96,172.05 655.21,171.94 655.46,171.80 655.71,170.05 655.96,167.84 656.21,168.25 656.46,167.97 656.71,167.07 656.96,164.99 657.21,164.16 657.46,162.98 657.71,161.12 657.96,160.70 658.21,160.62 658.46,158.84 658.71,157.66 658.96,155.60 659.21,154.51 659.46,154.36 659.71,154.85 659.96,153.51 660.21,153.40 660.46,151.55 660.71,151.91 660.96,151.39 661.21,150.84 661.46,150.20 661.71,149.68 661.96,147.38 662.21,146.98 662.46,145.60 662.71,143.81 662.96,142.58 663.21,143.61 663.46,143.29 663.71,144.37 663.96,146.05 664.21,147.94 664.46,148.27 664.71,148.07 664.96,148.91 665.21,149.93 665.46,151.75 665.71,153.51 665.96,155.88 666.21,156.58 666.46,156.94 666.71,157.67 666.96,159.83 667.21,160.66 667.46,162.09 667.71,164.42 667.96,165.70 668.21,165.73 668.46,167.58 668.71,169.58 668.96,170.81 669.21,172.04 669.46,172.73 669.71,173.60 669.96,175.50 670.21,176.71 670.46,176.61 670.71,176.92 670.96,179.83 671.21,180.67 671.46,181.94 671.71,182.36 671.96,183.76 672.21,183.55 672.46,183.40 672.71,184.16 672.96,184.81 673.21,185.36 673.46,184.64 673.71,185.32 673.96,186.77 674.21,186.96 674.46,187.63 674.71,189.41 674.96,191.07 675.21,190.65 675.46,192.48 675.71,192.96 675.96,193.11 676.21,195.24 676.46,197.63 676.71,198.55 676.96,200.56 677.21,202.88 677.46,204.00 677.71,204.51 677.96,205.70 678.21,207.67 678.46,207.79 678.71,209.17 678.96,209.73 679.21,209.10 679.46,207.56 679.71,205.62 679.96,205.14 680.21,206.17 680.46,205.15 680.71,206.50 680.96,204.68 681.21,204.16 681.46,205.13 681.71,204.70 681.96,203.50 682.21,203.62 682.46,203.27 682.71,203.05 682.96,205.11 683.21,204.21 683.46,204.49 683.71,204.12 683.96,203.70 684.21,203.36 684.46,201.84 684.71,199.20 684.96,198.49 685.21,197.40 685.46,196.80 685.71,197.56 685.96,197.54 686.21,198.77 686.46,200.23 686.71,200.24 686.96,201.80 687.21,202.33 687.46,202.06 687.71,201.83 687.96,202.71 688.21,203.92 688.46,203.77 688.71,201.93 688.96,200.95 689.21,200.30 689.46,201.30 689.71,200.17 689.96,199.43 690.21,198.45 690.46,198.31 690.71,197.11 690.96,195.73 691.21,196.18 691.46,197.79 691.71,196.66 691.96,197.51 692.21,197.64 692.46,195.72 692.71,195.53 692.96,197.25 693.21,198.34 693.46,198.58 693.71,197.89 693.96,199.13 694.21,199.69 694.46,200.13 694.71,198.70 694.96,197.81 695.21,197.46 695.46,198.79 695.71,199.35 695.96,199.49 696.21,200.10 696.46,197.88 696.71,197.74 696.96,200.62 697.21,201.19 697.46,200.29 697.71,200.76 697.96,200.28 698.21,200.12 698.46,200.74 698.71,200.50 698.96,200.90 699.21,199.48 699.46,200.00 699.71,199.69 699.96,199.72 700.21,199.13 700.46,201.05 700.71,202.68 700.96,204.22 701.21,205.88 701.46,207.57 701.71,207.71 701.96,208.59 702.21,209.10 702.46,209.79 702.71,210.48 702.96,210.34 703.21,209.95 703.46,209.55 703.71,210.04 703.96,208.67 704.21,206.74 704.46,205.22 704.71,204.31 704.96,203.82 705.21,206.14 705.46,206.80 705.71,208.44 705.96,209.85 706.21,206.89 706.46,204.36 706.71,202.23 706.96,200.21 707.21,197.19 707.46,195.22 707.71,193.04 707.96,192.41 708.21,190.78 708.46,189.77 708.71,188.71 708.96,188.59 709.21,187.76 709.46,188.27 709.71,188.00 709.96,187.68 710.21,186.35 710.46,187.37 710.71,186.33 710.96,187.37 711.21,186.70 711.46,186.07 711.71,187.46 711.96,184.97 712.21,183.79 712.46,182.89 712.71,182.67 712.96,181.61 713.21,179.79 713.46,178.20 713.71,178.04 713.96,176.52 714.21,174.75 714.46,173.59 714.71,172.90 714.96,171.37 715.21,170.30 715.46,169.52 715.71,169.01 715.96,168.98 716.21,167.30 716.46,165.21 716.71,164.88 716.96,162.01 717.21,161.88 717.46,159.35 717.71,158.90 717.96,156.93 718.21,156.87 718.46,156.51 718.71,156.51 718.96,156.65 719.21,155.37 719.46,154.77 719.71,153.57 719.96,153.18 720.21,152.16 720.46,152.65 720.71,153.46 720.96,153.45 721.21,153.71 721.46,154.05 721.71,154.17 721.96,156.23 722.21,156.77 722.46,158.07 722.71,159.26 722.96,161.91 723.21,162.95 723.46,162.28 723.71,164.32 723.96,163.00 724.21,162.39 724.46,162.82 724.71,163.12 724.96,162.31 725.21,162.96 725.46,163.05 725.71,163.07 725.96,163.95 726.21,165.40 726.46,165.54 726.71,166.66 726.96,169.08 727.21,169.61 727.46,170.77 727.71,172.50 727.96,172.76 728.21,172.33 728.46,172.71 728.71,172.21 728.96,172.61 729.21,174.37 729.46,174.34 729.71,174.83 729.96,174.30 730.21,173.42 730.46,172.85 730.71,174.63 730.96,175.11 731.21,174.25 731.46,173.65 731.71,173.76 731.96,175.83 732.21,176.29 732.46,178.36 732.71,179.26 732.96,179.77 733.21,181.48 733.46,182.44 733.71,182.40 733.96,182.23 734.21,184.04 734.46,183.65 734.71,183.88 734.96,184.12 735.21,186.48 735.46,188.67 735.71,189.74 735.96,190.77 736.21,190.18 736.46,191.57 736.71,192.85 736.96,193.71 737.21,194.24 737.46,195.77 737.71,196.68 737.96,197.16 738.21,196.45 738.46,196.23 738.71,195.76 738.96,195.39 739.21,194.57 739.46,193.90 739.71,192.97 739.96,194.40 740.21,194.66 740.46,195.56 740.71,196.94 740.96,196.20 741.21,195.92 741.46,194.81 741.71,194.58 741.96,194.02 742.21,193.13 742.46,191.76 742.71,189.95 742.96,189.86 743.21,187.80 743.46,184.81 743.71,184.30 743.96,182.74 744.21,181.45 744.46,181.27 744.71,179.78 744.96,179.55 745.21,178.82 745.46,178.30 745.71,180.13 745.96,178.20 746.21,178.79 746.46,178.78 746.71,178.52 746.96,178.06 747.21,177.41 747.46,175.74 747.71,175.05 747.96,174.51 748.21,173.26 748.46,174.39 748.71,175.37 748.96,175.27 749.21,176.57 749.46,175.35 749.71,178.27 749.96,178.14 750.21,179.43 750.46,180.72 750.71,180.90 750.96,181.20 751.21,181.13 751.46,181.99 751.71,180.96 751.96,180.33 752.21,178.88 752.46,177.97 752.71,176.25 752.96,176.79 753.21,174.90 753.46,175.00 753.71,172.89 753.96,171.78 754.21,170.28 754.46,169.88 754.71,167.31 754.96,167.48 755.21,165.99 755.46,164.79 755.71,163.89 755.96,162.92 756.21,162.25 756.46,162.20 756.71,161.38 756.96,160.61 757.21,159.32 757.46,158.27 757.71,159.14 757.96,160.51 758.21,159.87 758.46,159.57 758.71,160.45 758.96,161.09 759.21,162.68 759.46,163.23 759.71,164.18 759.96,164.08 760.21,164.56 760.46,166.23 760.71,165.92 760.96,167.06 761.21,167.30 761.46,166.01 761.71,165.24 761.96,165.32 762.21,167.12 762.46,169.69 762.71,171.90 762.96,172.96 763.21,174.58 763.46,176.25 763.71,176.96 763.96,177.61 764.21,178.21 764.46,178.42 764.71,179.63 764.96,179.84 765.21,180.90 765.46,182.55 765.71,180.05 765.96,178.42 766.21,176.71 766.46,176.43 766.71,176.30 766.96,175.59 767.21,176.62 767.46,175.66 767.71,175.14 767.96,175.04 768.21,173.67 768.46,173.37 768.71,174.16 768.96,173.50 769.21,174.14 769.46,174.26 769.71,174.20 769.96,172.99 770.21,172.73 770.46,172.01 770.71,172.03 770.96,171.22 771.21,173.26 771.46,173.12 771.71,171.05 771.96,172.10 772.21,172.83 772.46,173.01 772.71,174.51 772.96,175.59 773.21,177.31 773.46,178.06 773.71,178.31 773.96,178.33 774.21,180.23 774.46,181.03 774.71,181.92 774.96,182.03 775.21,182.16 775.46,182.21 775.71,183.77 775.96,183.35 776.21,184.62 776.46,185.64 776.71,185.08 776.96,184.94 777.21,186.81 777.46,185.18 777.71,183.11 777.96,182.35 778.21,182.29 778.46,182.72 778.71,180.70 778.96,178.56 779.21,177.43 779.46,175.94 779.71,174.24 779.96,174.91 780.21,175.16 780.46,174.41 780.71,173.40 780.96,172.18 781.21,171.57 781.46,173.86 781.71,174.48 781.96,175.68 782.21,177.06 782.46,178.74 782.71,180.96 782.96,181.25 783.21,182.30 783.46,182.54 783.71,181.27 783.96,179.67 784.21,179.21 784.46,178.19 784.71,176.66 784.96,177.38 785.21,179.82 785.46,181.48 785.71,182.98 785.96,183.52 786.21,185.96 786.46,189.48 786.71,190.99 786.96,193.61 787.21,195.09 787.46,196.09 787.71,196.52 787.96,195.88 788.21,195.91 788.46,196.10 788.71,196.73 788.96,194.91 789.21,194.15 789.46,195.48 789.71,195.26 789.96,195.14 790.21,195.16 790.46,196.45 790.71,196.04 790.96,194.83 791.21,195.08 791.46,195.71 791.71,195.46 791.96,194.25 792.21,194.01 792.46,193.41 792.71,194.58 792.96,191.80 793.21,190.28 793.46,189.47 793.71,188.57 793.96,186.71 794.21,184.98 794.46,186.69 794.71,187.38 794.96,189.09 795.21,189.77 795.46,191.70 795.71,192.99 795.96,193.00 796.21,193.86 796.46,194.51 796.71,195.85 796.96,196.88 797.21,194.43 797.46,193.91 797.71,194.88 797.96,195.36 798.21,193.95 798.46,192.35 798.71,191.43 798.96,190.58 799.21,190.00 799.46,190.47 799.71,189.63 799.96,189.85 800.21,189.86 800.46,189.87 800.71,188.39 800.96,188.07 801.21,188.24 801.46,188.15 801.71,185.91 801.96,185.55 802.21,183.04 802.46,182.06 802.71,179.88 802.96,176.83 803.21,176.26 803.46,175.23 803.71,173.06 803.96,171.37 804.21,169.09 804.46,167.34 804.71,165.87 804.96,164.13 805.21,163.41 805.46,161.41 805.71,160.91 805.96,158.99 806.21,158.48 806.46,157.28 806.71,155.96 806.96,155.51 807.21,155.32 807.46,155.72 807.71,157.21 807.96,158.67 808.21,159.37 808.46,160.53 808.71,161.72 808.96,162.28 809.21,163.11 809.46,162.88 809.71,163.97 809.96,164.42 810.21,164.32 810.46,166.20 810.71,167.07 810.96,166.22 811.21,165.12 811.46,165.07 811.71,164.78 811.96,163.24 812.21,163.22 812.46,163.41 812.71,164.68 812.96,165.20 813.21,164.91 813.46,165.13 813.71,165.90 813.96,166.23 814.21,165.94 814.46,165.82 814.71,165.02 814.96,163.51 815.21,162.11 815.46,162.21 815.71,160.46 815.96,156.64 816.21,156.42 816.46,154.19 816.71,153.96 816.96,153.92 817.21,154.39 817.46,153.37 817.71,151.84 817.96,153.17 818.21,155.03 818.46,156.34 818.71,159.08 818.96,161.67 819.21,162.21 819.46,164.15 819.71,163.11 819.96,163.89 820.21,164.74 820.46,164.83 820.71,164.33 820.96,164.84 821.21,164.82 821.46,165.76 821.71,164.83 821.96,164.25 822.21,164.18 822.46,164.36 822.71,165.72 822.96,166.19 823.21,165.29 823.46,167.37 823.71,167.51 823.96,168.79 824.21,169.82 824.46,169.34 824.71,167.53 824.96,166.69 825.21,165.75 825.46,165.03 825.71,165.38 825.96,162.57 826.21,161.68 826.46,161.07 826.71,159.00 826.96,158.55 827.21,158.32 827.46,155.57 827.71,154.35 827.96,151.77 828.21,149.78 828.46,148.04 828.71,146.88 828.96,145.14 829.21,143.46 829.46,141.88 829.71,142.25 829.96,141.08 830.21,140.38 830.46,142.89 830.71,145.45 830.96,145.44 831.21,146.51 831.46,147.51 831.71,148.78 831.96,149.85 832.21,150.82 832.46,150.03 832.71,149.95 832.96,150.60 833.21,151.16 833.46,149.91 833.71,150.61 833.96,152.30 834.21,152.58 834.46,152.91 834.71,152.41 834.96,152.52 835.21,152.07 835.46,152.78 835.71,151.69 835.96,151.15 836.21,149.34 836.46,148.94 836.71,145.74 836.96,144.10 837.21,141.57 837.46,140.53 837.71,138.58 837.96,136.31 838.21,134.01 838.46,132.87 838.71,132.52 838.96,130.85 839.21,130.74 839.46,130.52 839.71,129.05 839.96,128.99 840.21,130.48 840.46,131.21 840.71,131.93 840.96,132.49 841.21,134.07 841.46,134.66 841.71,136.58 841.96,137.80 842.21,138.10 842.46,140.25 842.71,142.70 842.96,143.36 843.21,143.55 843.46,145.51 843.71,146.04 843.96,147.87 844.21,147.87 844.46,150.46 844.71,153.50 844.96,154.01 845.21,154.40 845.46,156.88 845.71,159.75 845.96,160.19 846.21,160.48 846.46,161.69 846.71,162.90 846.96,162.91 847.21,163.28 847.46,164.20 847.71,165.11 847.96,166.63 848.21,167.85 848.46,168.12 848.71,167.70 848.96,167.01 849.21,165.82 849.46,165.31 849.71,163.31 849.96,162.10 850.21,160.46 850.46,160.01 850.71,160.35 850.96,159.58 851.21,157.63 851.46,156.96 851.71,155.69 851.96,155.09 852.21,155.87 852.46,154.81 852.71,154.28 852.96,153.38 853.21,152.97 853.46,153.03 853.71,152.92 853.96,151.52 854.21,151.64 854.46,152.03 854.71,153.58 854.96,154.42 855.21,155.56 855.46,155.31 855.71,156.79 855.96,159.05 856.21,160.18 856.46,161.13 856.71,160.97 856.96,163.02 857.21,164.95 857.46,166.91 857.71,167.21 857.96,167.04 858.21,168.23 858.46,168.59 858.71,171.31 858.96,170.86 859.21,171.40 859.46,172.17 859.71,170.90 859.96,168.59 860.21,168.08 860.46,165.99 860.71,164.90 860.96,164.58 861.21,162.13 861.46,160.29 861.71,157.86 861.96,156.03 862.21,155.71 862.46,155.19 862.71,152.70 862.96,151.21 863.21,149.31 863.46,146.87 863.71,145.16 863.96,143.11 864.21,141.06 864.46,138.38 864.71,137.06 864.96,134.41 865.21,133.04 865.46,130.45 865.71,128.76 865.96,126.96 866.21,125.86 866.46,125.02 866.71,122.76 866.96,123.74 867.21,125.73 867.46,127.43 867.71,128.08 867.96,128.70 868.21,128.34 868.46,128.32 868.71,129.45 868.96,128.23 869.21,128.24 869.46,128.62 869.71,130.98 869.96,132.23 870.21,134.61 870.46,136.70 870.71,138.11 870.96,138.50 871.21,137.26 871.46,136.15 871.71,134.92 871.96,133.58 872.21,132.22 872.46,132.13 872.71,132.47 872.96,131.66 873.21,131.01 873.46,132.14 873.71,131.40 873.96,132.54 874.21,133.51 874.46,134.55 874.71,135.48 874.96,135.11 875.21,136.95 875.46,135.01 875.71,134.74 875.96,135.50 876.21,135.39 876.46,133.93 876.71,132.54 876.96,131.13 877.21,132.36 877.46,131.86 877.71,132.69 877.96,132.21 878.21,133.59 878.46,131.73 878.71,132.62 878.96,134.10 879.21,134.86 879.46,135.33 879.71,136.57 879.96,139.32 880.21,140.98 880.46,142.94 880.71,143.62 880.96,144.65 881.21,147.64 881.46,149.32 881.71,150.95 881.96,151.98 882.21,155.87 882.46,157.48 882.71,157.74 882.96,156.63 883.21,156.62 883.46,157.26 883.71,156.78 883.96,156.91 884.21,157.79 884.46,161.15 884.71,165.35 884.96,167.66 885.21,168.96 885.46,171.75 885.71,175.05 885.96,177.13 886.21,179.38 886.46,180.51 886.71,179.60 886.96,179.27 887.21,178.30 887.46,177.80 887.71,175.39 887.96,175.95 888.21,176.24 888.46,177.17 888.71,177.45 888.96,176.70 889.21,174.78 889.46,175.42 889.71,174.84 889.96,172.94 890.21,173.25 890.46,173.00 890.71,172.20 890.96,169.21 891.21,168.11 891.46,167.49 891.71,165.71 891.96,166.44 892.21,168.83 892.46,170.53 892.71,173.40 892.96,176.38 893.21,175.02 893.46,174.92 893.71,174.98 893.96,173.10 894.21,173.25 894.46,171.85 894.71,171.04 894.96,170.80 895.21,168.75 895.46,167.33 895.71,166.81 895.96,167.84 896.21,169.41 896.46,172.06 896.71,173.55 896.96,175.13 897.21,173.08 897.46,174.01 897.71,172.95 897.96,173.19 898.21,172.71 898.46,172.41 898.71,170.97 898.96,168.12 899.21,166.02 899.46,165.01 899.71,164.07 899.96,161.85 900.21,161.83 900.46,159.40 900.71,159.71 900.96,159.56 901.21,157.31 901.46,156.81 901.71,155.24 901.96,155.07 902.21,154.80 902.46,154.82 902.71,153.17 902.96,152.64 903.21,151.64 903.46,151.58 903.71,149.17 903.96,148.73 904.21,149.39 904.46,149.73 904.71,149.59 904.96,148.85 905.21,148.31 905.46,146.20 905.71,145.60 905.96,145.70 906.21,144.60 906.46,143.02 906.71,142.22 906.96,142.14 907.21,142.46 907.46,140.62 907.71,141.07 907.96,142.29 908.21,142.61 908.46,141.93 908.71,142.81 908.96,144.18 909.21,145.83 909.46,146.82 909.71,147.69 909.96,148.93 910.21,148.69 910.46,150.43 910.71,151.75 910.96,152.60 911.21,152.51 911.46,152.58 911.71,153.70 911.96,155.13 912.21,154.83 912.46,153.60 912.71,153.23 912.96,153.05 913.21,152.31 913.46,152.97 913.71,151.98 913.96,151.17 914.21,152.01 914.46,150.57 914.71,150.97 914.96,151.99 915.21,151.75 915.46,153.35 915.71,153.75"/>
<polyline stroke="#669bbc" points="146.84,368.41 147.09,366.75 147.34,364.86 147.59,364.16 147.84,361.92 148.09,361.23 148.34,360.73 148.59,359.82 148.84,358.31 149.09,358.40 149.34,360.31 149.59,362.41 149.84,365.10 150.09,366.67 150.34,365.10 150.59,363.50 150.84,363.17 151.09,361.13 151.34,359.26 151.59,355.09 151.84,353.91 152.09,353.50 152.34,353.35 152.59,353.24 152.84,353.64 153.09,353.67 153.34,354.33 153.59,354.48 153.84,353.94 154.09,354.46 154.34,353.61 154.59,353.75 154.84,353.16 155.09,351.03 155.34,352.19 155.59,352.56 155.84,352.32 156.09,351.48 156.34,352.19 156.59,351.13 156.84,349.98 157.09,349.46 157.34,350.38 157.59,350.00 157.84,349.37 158.09,349.06 158.34,350.27 158.59,350.01 158.84,350.28 159.09,349.48 159.34,350.33 159.59,349.93 159.84,349.45 160.09,350.64 160.34,349.07 160.59,348.72 160.84,348.65 161.09,348.30 161.34,348.95 161.59,349.35 161.84,349.16 162.09,348.85 162.34,349.49 162.59,349.68 162.84,349.16 163.09,346.61 163.34,344.83 163.59,343.27 163.84,341.85 164.09,341.93 164.34,342.84 164.59,341.93 164.84,341.56 165.09,340.52 165.34,340.32 165.59,340.28 165.84,341.83 166.09,342.03 166.34,342.58 166.59,343.99 166.84,344.56 167.09,343.91 167.34,344.47 167.59,342.28 167.84,341.73 168.09,341.75 168.34,339.28 168.59,338.83 168.84,337.89 169.09,337.38 169.34,337.50 169.59,337.03 169.84,336.17 170.09,335.09 170.34,337.00 170.59,340.02 170.84,341.46 171.09,343.63 171.34,345.68 171.59,347.67 171.84,348.66 172.09,348.94 172.34,349.31 172.59,350.02 172.84,351.35 173.09,350.77 173.34,349.92 173.59,350.52 173.84,350.93 174.09,349.24 174.34,349.21 174.59,347.89 174.84,345.91 175.09,343.03 175.34,342.76 175.59,343.24 175.84,341.69 176.09,339.91 176.34,338.56 176.59,336.88 176.84,336.76 177.09,334.68 177.34,335.23 177.59,333.53 177.84,332.58 178.09,331.42 178.34,330.13 178.59,329.66 178.84,330.31 179.09,330.35 179.34,330.73 179.59,332.32 179.84,332.01 180.09,331.26 180.34,331.46 180.59,330.13 180.84,329.83 181.09,328.13 181.34,328.62 181.59,328.87 181.84,327.43 182.09,326.67 182.34,325.16 182.59,325.65 182.84,323.84 183.09,323.68 183.34,324.88 183.59,321.87 183.84,321.99 184.09,322.08 184.34,320.61 184.59,319.72 184.84,318.85 185.09,319.85 185.34,320.78 185.59,319.76 185.84,320.07 186.09,320.06 186.34,318.32 186.59,316.25 186.84,315.15 187.09,313.08 187.34,312.45 187.59,312.99 187.84,313.95 188.09,315.69 188.34,316.29 188.59,316.07 188.84,316.84 189.09,316.75 189.34,317.29 189.59,318.73 189.84,317.96 190.09,317.90 190.34,317.91 190.59,317.41 190.84,318.28 191.09,317.16 191.34,316.50 191.59,315.48 191.84,314.26 192.09,315.55 192.34,315.63 192.59,317.63 192.84,318.67 193.09,318.62 193.34,320.55 193.59,322.28 193.84,323.05 194.09,323.49 194.34,323.57 194.59,325.18 194.84,325.84 195.09,328.31 195.34,327.36 195.59,327.40 195.84,327.32 196.09,326.25 196.34,326.11 196.59,326.32 196.84,324.33 197.09,323.14 197.34,322.22 197.59,320.99 197.84,319.68 198.09,318.12 198.34,317.83 198.59,317.55 198.84,318.13 199.09,317.04 199.34,315.99 199.59,316.68 199.84,315.80 200.09,316.37 200.34,316.87 200.59,319.37 200.84,318.76 201.09,319.11 201.34,318.42 201.59,318.00 201.84,316.65 202.09,316.53 202.34,317.12 202.59,317.50 202.84,319.32 203.09,321.49 203.34,321.59 203.59,322.66 203.84,323.15 204.09,325.58 204.34,327.10 204.59,327.99 204.84,330.32 205.09,330.78 205.34,330.58 205.59,328.63 205.84,329.24 206.09,326.67 206.34,326.75 206.59,326.06 206.84,324.19 207.09,324.67 207.34,325.33 207.59,326.15 207.84,323.39 208.09,323.94 208.34,323.83 208.59,325.15 208.84,325.53 209.09,325.98 209.34,327.60 209.59,329.49 209.84,330.13 210.09,332.21 210.34,332.97 210.59,333.06 210.84,335.67 211.09,336.71 211.34,335.61 211.59,335.10 211.84,334.12 212.09,334.65 212.34,333.74 212.59,333.82 212.84,333.32 213.09,333.84 213.34,335.24 213.59,337.19 213.84,336.79 214.09,337.18 214.34,337.49 214.59,340.13 214.84,340.62 215.09,341.67 215.34,344.04 215.59,345.43 215.84,345.34 216.09,347.24 216.34,348.68 216.59,349.48 216.84,349.63 217.09,350.14 217.34,352.35 217.59,353.25 217.84,354.52 218.09,357.48 218.34,358.81 218.59,358.60 218.84,359.23 219.09,359.22 219.34,358.76 219.59,360.37 219.84,360.83 220.09,360.92 220.34,359.31 220.59,360.88 220.84,360.16 221.09,358.68 221.34,358.03 221.59,358.27 221.84,358.02 222.09,357.51 222.34,356.58 222.59,356.21 222.84,354.84 223.09,350.99 223.34,349.99 223.59,347.79 223.84,346.39 224.09,346.25 224.34,344.30 224.59,344.41 224.84,342.41 225.09,344.91 225.34,347.08 225.59,348.65 225.84,349.21 226.09,350.89 226.34,353.98 226.59,356.16 226.84,359.43 227.09,362.20 227.34,362.08 227.59,363.98 227.84,366.03 228.09,366.88 228.34,368.50 228.59,370.00 228.84,371.39 229.09,370.83 229.34,371.39 229.59,371.10 229.84,370.69 230.09,369.96 230.34,369.79 230.59,368.93 230.84,368.93 231.09,367.58 231.34,368.07 231.59,366.77 231.84,365.50 232.09,365.91 232.34,364.47 232.59,363.82 232.84,362.96 233.09,361.62 233.34,361.20 233.59,361.17 233.84,360.88 234.09,360.63 234.34,360.38 234.59,359.74 234.84,360.50 235.09,359.96 235.34,361.41 235.59,362.97 235.84,364.09 236.09,363.65 236.34,363.27 236.59,362.70 236.84,362.91 237.09,362.02 237.34,362.45 237.59,362.98 237.84,364.04 238.09,364.83 238.34,366.34 238.59,367.95 238.84,368.55 239.09,365.66 239.34,364.99 239.59,364.01 239.84,363.01 240.09,361.53 240.34,359.76 240.59,357.40 240.84,357.17 241.09,356.79 241.34,357.10 241.59,358.93 241.84,360.76 242.09,361.36 242.34,362.85 242.59,365.46 242.84,368.13 243.09,368.83 243.34,371.17 243.59,372.73 243.84,373.74 244.09,374.90 244.34,376.39 244.59,375.22 244.84,372.54 245.09,370.72 245.34,369.03 245.59,367.46 245.84,364.51 246.09,362.08 246.34,358.37 246.59,355.73 246.84,356.57 247.09,359.23 247.34,361.69 247.59,363.61 247.84,365.91 248.09,368.07 248.34,369.95 248.59,370.70 248.84,372.03 249.09,371.08 249.34,372.92 249.59,373.45 249.84,374.48 250.09,374.08 250.34,374.89 250.59,375.77 250.84,378.35 251.09,378.42 251.34,378.32 251.59,379.26 251.84,379.13 252.09,379.30 252.34,377.00 252.59,375.77 252.84,375.30 253.09,374.36 253.34,375.13 253.59,376.35 253.84,376.71 254.09,378.76 254.34,380.75 254.59,381.39 254.84,381.56 255.09,378.66 255.34,378.13 255.59,374.50 255.84,373.14 256.09,370.57 256.34,370.30 256.59,371.67 256.84,370.91 257.09,372.18 257.34,372.18 257.59,373.16 257.84,371.83 258.09,370.15 258.34,371.08 258.59,370.00 258.84,368.08 259.09,368.93 259.34,369.57 259.59,371.63 259.84,375.88 260.09,378.62 260.34,380.59 260.59,382.17 260.84,380.28 261.09,380.25 261.34,376.63 261.59,373.28 261.84,371.06 262.09,369.88 262.34,367.98 262.59,368.04 262.84,367.48 263.09,365.59 263.34,363.46 263.59,362.77 263.84,362.38 264.09,362.27 264.34,361.22 264.59,361.88 264.84,361.30 265.09,362.34 265.34,363.21 265.59,366.58 265.84,369.03 266.09,370.21 266.34,371.28 266.59,371.80 266.84,375.82 267.09,377.94 267.34,380.86 267.59,383.80 267.84,382.81 268.09,382.05 268.34,380.60 268.59,378.43 268.84,376.33 269.09,375.24 269.34,372.56 269.59,370.98 269.84,368.61 270.09,365.43 270.34,363.40 270.59,362.86 270.84,363.11 271.09,361.73 271.34,360.15 271.59,359.48 271.84,357.74 272.09,357.09 272.34,357.51 272.59,358.92 272.84,361.69 273.09,361.14 273.34,362.74 273.59,363.55 273.84,365.26 274.09,365.78 274.34,367.36 274.59,368.68 274.84,370.22 275.09,370.95 275.34,371.23 275.59,371.20 275.84,371.53 276.09,371.98 276.34,373.24 276.59,373.04 276.84,370.95 277.09,370.56 277.34,368.88 277.59,368.00 277.84,367.71 278.09,367.05 278.34,367.08 278.59,364.22 278.84,361.63 279.09,359.66 279.34,358.12 279.59,358.39 279.84,359.91 280.09,360.18 280.34,361.67 280.59,362.32 280.84,364.39 281.09,364.65 281.34,364.15 281.59,363.55 281.84,363.39 282.09,363.55 282.34,362.20 282.59,363.20 282.84,364.05 283.09,364.16 283.34,367.09 283.59,368.60 283.84,369.36 284.09,365.94 284.34,361.83 284.59,358.20 284.84,355.73 285.09,352.40 285.34,348.84 285.59,345.07 285.84,341.77 286.09,337.80 286.34,336.05 286.59,335.11 286.84,334.54 287.09,333.10 287.34,331.53 287.59,330.24 287.84,330.40 288.09,330.02 288.34,328.65 288.59,329.59 288.84,330.55 289.09,328.96 289.34,328.71 289.59,326.87 289.84,325.65 290.09,327.24 290.34,327.32 290.59,326.48 290.84,324.02 291.09,323.30 291.34,323.48 291.59,323.42 291.84,321.60 292.09,319.22 292.34,319.68 292.59,319.32 292.84,317.75 293.09,317.91 293.34,318.34 293.59,317.49 293.84,316.98 294.09,316.18 294.34,316.60 294.59,316.42 294.84,316.43 295.09,317.27 295.34,317.77 295.59,318.69 295.84,319.44 296.09,319.45 296.34,318.67 296.59,319.42 296.84,318.43 297.09,317.73 297.34,317.29 297.59,318.26 297.84,319.91 298.09,321.04 298.34,322.69 298.59,323.71 298.84,324.04 299.09,325.93 299.34,323.73 299.59,323.94 299.84,323.62 300.09,323.21 300.34,322.87 300.59,322.71 300.84,322.93 301.09,324.10 301.34,324.93 301.59,326.71 301.84,328.00 302.09,326.86 302.34,325.33 302.59,323.31 302.84,321.34 303.09,320.85 303.34,319.13 303.59,318.68 303.84,319.50 304.09,318.94 304.34,319.15 304.59,318.08 304.84,317.08 305.09,319.81 305.34,321.34 305.59,321.97 305.84,322.55 306.09,324.36 306.34,324.64 306.59,326.55 306.84,326.22 307.09,328.02 307.34,329.81 307.59,330.73 307.84,329.44 308.09,328.60 308.34,325.25 308.59,323.61 308.84,321.85 309.09,321.49 309.34,319.24 309.59,319.52 309.84,318.36 310.09,318.04 310.34,318.37 310.59,319.80 310.84,319.86 311.09,321.27 311.34,322.55 311.59,324.64 311.84,322.45 312.09,321.36 312.34,321.76 312.59,321.26 312.84,320.58 313.09,319.30 313.34,319.84 313.59,317.95 313.84,317.57 314.09,315.15 314.34,313.35 314.59,312.02 314.84,312.80 315.09,312.28 315.34,312.20 315.59,311.78 315.84,310.55 316.09,309.20 316.34,308.13 316.59,308.78 316.84,308.42 317.09,307.35 317.34,305.55 317.59,305.32 317.84,306.01 318.09,305.38 318.34,305.25 318.59,305.28 318.84,303.75 319.09,303.46 319.34,302.01 319.59,301.50 319.84,299.50 320.09,298.76 320.34,299.14 320.59,297.77 320.84,298.05 321.09,296.03 321.34,295.22 321.59,293.66 321.84,292.55 322.09,292.44 322.34,293.85 322.59,294.47 322.84,296.00 323.09,296.15 323.34,297.89 323.59,300.87 323.84,301.26 324.09,300.89 324.34,303.29 324.59,303.19 324.84,303.09 325.09,302.79 325.34,300.95 325.59,299.51 325.84,298.01 326.09,297.26 326.34,295.43 326.59,294.48 326.84,293.25 327.09,293.29 327.34,292.10 327.59,290.38 327.84,290.43 328.09,289.78 328.34,290.23 328.59,289.65 328.84,289.81 329.09,288.57 329.34,289.17 329.59,289.01 329.84,288.34 330.09,288.15 330.34,288.10 330.59,286.74 330.84,287.15 331.09,285.84 331.34,287.08 331.59,288.47 331.84,287.10 332.09,288.40 332.34,290.29 332.59,290.60 332.84,292.30 333.09,292.83 333.34,292.46 333.59,292.68 333.84,294.44 334.09,294.61 334.34,294.48 334.59,294.58 334.84,295.79 335.09,296.28 335.34,296.10 335.59,296.42 335.84,295.43 336.09,296.13 336.34,293.45 336.59,293.79 336.84,293.34 337.09,293.69 337.34,293.23 337.59,293.89 337.84,293.36 338.09,293.17 338.34,293.47 338.59,293.14 338.84,293.00 339.09,293.17 339.34,294.26 339.59,296.34 339.84,295.98 340.09,297.69 340.34,297.87 340.59,298.40 340.84,297.10 341.09,295.61 341.34,295.24 341.59,295.63 341.84,294.00 342.09,294.03 342.34,292.60 342.59,291.00 342.84,291.69 343.09,291.57 343.34,290.80 343.59,290.98 343.84,290.50 344.09,290.03 344.34,290.47 344.59,290.34 344.84,291.51 345.09,293.09 345.34,295.67 345.59,297.64 345.84,299.13 346.09,300.69 346.34,302.73 346.59,306.02 346.84,309.92 347.09,312.15 347.34,315.31 347.59,318.54 347.84,320.90 348.09,323.27 348.34,322.40 348.59,321.27 348.84,319.23 349.09,319.18 349.34,317.25 349.59,317.66 349.84,318.89 350.09,320.18 350.34,321.28 350.59,323.04 350.84,325.65 351.09,325.42 351.34,325.83 351.59,327.83 351.84,329.53 352.09,331.53 352.34,333.26 352.59,334.97 352.84,333.99 353.09,334.70 353.34,335.04 353.59,335.95 353.84,336.72 354.09,336.57 354.34,339.28 354.59,337.91 354.84,339.61 355.09,340.20 355.34,341.43 355.59,341.35 355.84,340.38 356.09,338.29 356.34,338.49 356.59,339.15 356.84,339.11 357.09,339.06 357.34,338.65 357.59,337.73 357.84,336.02 358.09,336.16 358.34,335.04 358.59,336.05 358.84,337.95 359.09,339.56 359.34,341.10 359.59,342.25 359.84,342.04 360.09,340.89 360.34,341.97 360.59,341.15 360.84,340.96 361.09,342.39 361.34,341.90 361.59,343.68 361.84,343.07 362.09,344.16 362.34,343.88 362.59,345.41 362.84,346.58 363.09,345.93 363.34,348.27 363.59,346.80 363.84,348.34 364.09,348.60 364.34,348.42 364.59,348.45 364.84,349.04 365.09,350.72 365.34,351.29 365.59,350.42 365.84,350.24 366.09,348.41 366.34,344.93 366.59,341.28 366.84,339.63 367.09,340.55 367.34,341.64 367.59,343.42 367.84,344.64 368.09,345.55 368.34,346.40 368.59,346.40 368.84,347.23 369.09,348.06 369.34,347.30 369.59,347.05 369.84,346.17 370.09,344.47 370.34,343.36 370.59,341.59 370.84,339.11 371.09,336.84 371.34,335.74 371.59,335.46 371.84,333.14 372.09,331.48 372.34,331.05 372.59,329.38 372.84,327.44 373.09,327.34 373.34,326.55 373.59,325.70 373.84,325.54 374.09,325.28 374.34,326.18 374.59,325.52 374.84,325.18 375.09,325.07 375.34,324.70 375.59,323.48 375.84,322.85 376.09,323.69 376.34,323.14 376.59,325.28 376.84,326.85 377.09,327.83 377.34,328.99 377.59,328.94 377.84,329.16 378.09,329.82 378.34,330.43 378.59,332.08 378.84,334.18 379.09,333.82 379.34,335.21 379.59,335.23 379.84,335.92 380.09,336.75 380.34,336.87 380.59,336.67 380.84,335.49 381.09,334.25 381.34,332.90 381.59,332.22 381.84,330.71 382.09,327.47 382.34,326.40 382.59,325.34 382.84,324.57 383.09,321.66 383.34,320.27 383.59,319.39 383.84,316.67 384.09,316.48 384.34,315.60 384.59,314.95 384.84,314.11 385.09,313.58 385.34,313.62 385.59,317.05 385.84,316.89 386.09,317.52 386.34,319.45 386.59,320.07 386.84,320.22 387.09,319.95 387.34,319.97 387.59,322.05 387.84,322.62 388.09,322.25 388.34,322.01 388.59,319.36 388.84,318.96 389.09,319.43 389.34,318.25 389.59,317.92 389.84,315.80 390.09,316.72 390.34,315.09 390.59,315.69 390.84,316.23 391.09,315.81 391.34,316.86 391.59,316.72 391.84,316.49 392.09,317.69 392.34,318.15 392.59,317.07 392.84,317.59 393.09,318.50 393.34,316.09 393.59,316.54 393.84,316.40 394.09,316.66 394.34,318.24 394.59,319.95 394.84,321.73 395.09,320.89 395.34,320.95 395.59,321.86 395.84,323.86 396.09,325.51 396.34,326.47 396.59,327.31 396.84,328.11 397.09,328.26 397.34,327.00 397.59,326.23 397.84,327.10 398.09,327.77 398.34,329.10 398.59,330.64 398.84,329.00 399.09,328.85 399.34,327.39 399.59,327.56 399.84,326.73 400.09,328.54 400.34,330.24 400.59,331.57 400.84,333.21 401.09,335.67 401.34,339.60 401.59,344.12 401.84,346.59 402.09,345.53 402.34,344.56 402.59,343.19 402.84,341.60 403.09,339.30 403.34,339.07 403.59,337.44 403.84,336.50 404.09,336.10 404.34,336.43 404.59,335.13 404.84,334.65 405.09,334.68 405.34,333.66 405.59,334.62 405.84,335.29 406.09,336.16 406.34,336.47 406.59,335.32 406.84,333.80 407.09,334.15 407.34,332.60 407.59,329.97 407.84,327.39 408.09,328.53 408.34,328.88 408.59,331.68 408.84,332.58 409.09,333.59 409.34,332.01 409.59,332.61 409.84,332.64 410.09,332.80 410.34,333.74 410.59,334.09 410.84,335.89 411.09,337.60 411.34,338.81 411.59,338.79 411.84,341.51 412.09,340.90 412.34,341.36 412.59,339.62 412.84,338.02 413.09,336.17 413.34,334.96 413.59,332.72 413.84,332.07 414.09,329.15 414.34,327.66 414.59,327.98 414.84,323.72 415.09,323.10 415.34,322.30 415.59,321.52 415.84,319.30 416.09,318.31 416.34,317.63 416.59,317.93 416.84,317.84 417.09,317.53 417.34,316.65 417.59,316.41 417.84,315.90 418.09,316.01 418.34,314.64 418.59,312.67 418.84,312.49 419.09,311.04 419.34,311.20 419.59,307.86 419.84,304.73 420.09,300.92 420.34,298.60 420.59,294.61 420.84,292.17 421.09,289.91 421.34,287.24 421.59,285.21 421.84,285.46 422.09,286.32 422.34,288.22 422.59,289.19 422.84,290.72 423.09,291.39 423.34,289.80 423.59,290.29 423.84,289.45 424.09,288.51 424.34,288.03 424.59,286.93 424.84,284.16 425.09,283.51 425.34,280.61 425.59,280.03 425.84,280.99 426.09,282.00 426.34,282.16 426.59,282.88 426.84,285.44 427.09,286.38 427.34,286.72 427.59,286.99 427.84,286.44 428.09,285.04 428.34,284.57 428.59,285.88 428.84,287.14 429.09,287.92 429.34,287.70 429.59,287.95 429.84,288.27 430.09,288.84 430.34,289.40 430.59,290.14 430.84,289.47 431.09,289.38 431.34,290.31 431.59,292.07 431.84,290.10 432.09,289.86 432.34,289.09 432.59,290.27 432.84,291.56 433.09,291.93 433.34,291.12 433.59,292.43 433.84,292.53 434.09,294.16 434.34,294.43 434.59,294.16 434.84,295.12 435.09,294.40 435.34,292.99 435.59,291.46 435.84,291.96 436.09,290.94 436.34,291.14 436.59,290.58 436.84,289.47 437.09,288.79 437.34,287.82 437.59,286.24 437.84,286.25 438.09,284.92 438.34,283.58 438.59,281.17 438.84,280.38 439.09,282.04 439.34,283.18 439.59,283.91 439.84,284.10 440.09,285.38 440.34,288.51 440.59,290.58 440.84,294.27 441.09,298.36 441.34,299.38 441.59,300.08 441.84,300.06 442.09,300.62 442.34,301.90 442.59,303.94 442.84,304.18 443.09,303.58 443.34,305.14 443.59,304.95 443.84,306.65 444.09,307.15 444.34,307.42 444.59,308.97 444.84,309.67 445.09,310.38 445.34,311.28 445.59,312.59 445.84,321.52 446.09,322.56 446.34,325.17 446.59,327.35 446.84,330.64 447.09,330.78 447.34,330.69 447.59,331.28 447.84,331.89 448.09,332.05 448.34,331.77 448.59,331.01 448.84,331.01 449.09,330.77 449.34,330.46 449.59,329.38 449.84,328.87 450.09,329.58 450.34,328.34 450.59,327.36 450.84,326.36 451.09,326.00 451.34,323.50 451.59,325.50 451.84,327.96 452.09,330.13 452.34,331.34 452.59,332.09 452.84,333.14 453.09,334.92 453.34,336.95 453.59,338.02 453.84,337.79 454.09,338.48 454.34,340.09 454.59,340.15 454.84,341.22 455.09,340.31 455.34,342.18 455.59,343.02 455.84,343.72 456.09,344.63 456.34,344.39 456.59,346.21 456.84,345.28 457.09,346.74 457.34,345.92 457.59,346.25 457.84,348.79 458.09,349.14 458.34,349.26 458.59,348.52 458.84,349.66 459.09,349.23 459.34,349.30 459.59,349.19 459.84,349.39 460.09,351.33 460.34,353.09 460.59,352.22 460.84,352.43 461.09,354.19 461.34,354.01 461.59,353.36 461.84,352.62 462.09,352.43 462.34,351.55 462.59,354.32 462.84,358.81 463.09,363.84 463.34,367.56 463.59,369.36 463.84,367.92 464.09,365.65 464.34,364.22 464.59,362.04 464.84,359.55 465.09,355.87 465.34,352.05 465.59,350.26 465.84,349.37 466.09,348.61 466.34,346.30 466.59,345.89 466.84,343.83 467.09,342.58 467.34,343.02 467.59,341.76 467.84,341.23 468.09,340.41 468.34,339.32 468.59,339.41 468.84,339.22 469.09,342.13 469.34,341.60 469.59,340.86 469.84,341.42 470.09,340.23 470.34,340.14 470.59,340.57 470.84,338.74 471.09,338.67 471.34,338.23 471.59,339.30 471.84,340.64 472.09,341.32 472.34,342.91 472.59,343.59 472.84,343.66 473.09,342.85 473.34,341.69 473.59,339.89 473.84,338.67 474.09,336.46 474.34,335.38 474.59,333.89 474.84,332.62 475.09,331.85 475.34,331.18 475.59,329.24 475.84,328.46 476.09,327.40 476.34,324.91 476.59,324.20 476.84,323.65 477.09,321.95 477.34,319.84 477.59,318.94 477.84,318.38 478.09,318.47 478.34,317.45 478.59,319.30 478.84,321.62 479.09,322.78 479.34,323.68 479.59,323.01 479.84,323.11 480.09,322.41 480.34,319.68 480.59,317.92 480.84,313.97 481.09,311.80 481.34,308.62 481.59,303.92 481.84,300.93 482.09,297.97 482.34,294.82 482.59,293.66 482.84,291.35 483.09,287.71 483.34,287.48 483.59,287.17 483.84,288.79 484.09,291.41 484.34,291.44 484.59,292.73 484.84,293.09 485.09,294.30 485.34,294.79 485.59,294.68 485.84,297.35 486.09,297.39 486.34,298.80 486.59,298.59 486.84,299.89 487.09,300.58 487.34,301.18 487.59,302.27 487.84,300.67 488.09,300.51 488.34,299.16 488.59,299.30 488.84,298.50 489.09,297.86 489.34,296.76 489.59,294.37 489.84,292.98 490.09,292.94 490.34,293.43 490.59,293.55 490.84,292.85 491.09,291.93 491.34,292.34 491.59,291.18 491.84,292.21 492.09,291.95 492.34,291.92 492.59,292.68 492.84,294.21 493.09,294.33 493.34,295.04 493.59,296.37 493.84,296.77 494.09,298.37 494.34,300.56 494.59,300.25 494.84,302.09 495.09,303.52 495.34,305.57 495.59,305.39 495.84,307.36 496.09,308.21 496.34,307.24 496.59,308.22 496.84,307.06 497.09,307.89 497.34,306.57 497.59,305.55 497.84,304.98 498.09,306.96 498.34,308.20 498.59,310.15 498.84,310.38 499.09,311.20 499.34,311.47 499.59,312.95 499.84,313.35 500.09,315.27 500.34,317.23 500.59,316.98 500.84,316.76 501.09,317.48 501.34,318.12 501.59,318.64 501.84,319.17 502.09,320.18 502.34,319.37 502.59,316.37 502.84,313.49 503.09,312.49 503.34,310.87 503.59,312.07 503.84,312.57 504.09,314.56 504.34,317.60 504.59,315.63 504.84,316.22 505.09,317.13 505.34,314.38 505.59,313.46 505.84,313.27 506.09,313.09 506.34,312.21 506.59,311.39 506.84,310.72 507.09,310.69 507.34,309.71 507.59,309.27 507.84,309.56 508.09,310.19 508.34,311.23 508.59,311.76 508.84,312.31 509.09,314.23 509.34,313.48 509.59,312.68 509.84,311.34 510.09,310.30 510.34,308.91 510.59,309.13 510.84,307.67 511.09,308.06 511.34,308.77 511.59,308.78 511.84,309.80 512.09,310.34 512.34,310.97 512.59,310.72 512.84,309.68 513.09,307.83 513.34,305.14 513.59,306.49 513.84,304.62 514.09,303.48 514.34,303.72 514.59,303.82 514.84,301.90 515.09,301.30 515.34,301.71 515.59,301.59 515.84,301.42 516.09,301.06 516.34,301.13 516.59,300.36 516.84,299.41 517.09,297.43 517.34,297.12 517.59,297.97 517.84,297.97 518.09,296.01 518.34,297.28 518.59,296.13 518.84,295.75 519.09,294.55 519.34,294.07 519.59,292.80 519.84,291.97 520.09,290.53 520.34,288.40 520.59,289.49 520.84,287.83 521.09,287.36 521.34,290.06 521.59,289.69 521.84,291.59 522.09,294.13 522.34,294.21 522.59,295.47 522.84,296.79 523.09,296.04 523.34,297.66 523.59,297.65 523.84,297.06 524.09,296.42 524.34,297.19 524.59,296.43 524.84,296.36 525.09,293.29 525.34,292.56 525.59,292.88 525.84,293.62 526.09,295.07 526.34,298.24 526.59,299.91 526.84,300.33 527.09,298.73 527.34,298.77 527.59,295.97 527.84,294.88 528.09,295.14 528.34,295.41 528.59,296.86 528.84,297.10 529.09,298.00 529.34,298.86 529.59,300.68 529.84,301.36 530.09,300.68 530.34,300.32 530.59,299.00 530.84,298.20 531.09,298.52 531.34,299.81 531.59,301.55 531.84,301.95 532.09,303.46 532.34,305.76 532.59,305.77 532.84,307.19 533.09,307.51 533.34,308.55 533.59,308.98 533.84,308.40 534.09,307.48 534.34,307.49 534.59,309.71 534.84,310.58 535.09,311.12 535.34,311.67 535.59,312.39 535.84,311.07 536.09,311.38 536.34,311.09 536.59,311.26 536.84,311.39 537.09,311.17 537.34,309.37 537.59,308.28 537.84,310.14 538.09,308.42 538.34,308.23 538.59,306.14 538.84,304.41 539.09,302.88 539.34,301.45 539.59,299.90 539.84,297.31 540.09,297.48 540.34,296.90 540.59,295.16 540.84,295.15 541.09,294.89 541.34,293.19 541.59,292.64 541.84,293.33 542.09,293.45 542.34,294.09 542.59,293.38 542.84,292.55 543.09,292.15 543.34,293.30 543.59,293.64 543.84,294.36 544.09,295.90 544.34,296.73 544.59,295.62 544.84,296.29 545.09,295.75 545.34,294.97 545.59,295.39 545.84,294.45 546.09,293.93 546.34,294.53 546.59,295.49 546.84,294.53 547.09,296.29 547.34,296.01 547.59,296.82 547.84,299.31 548.09,299.82 548.34,300.59 548.59,300.71 548.84,303.33 549.09,303.15 549.34,303.46 549.59,301.98 549.84,302.20 550.09,303.50 550.34,303.74 550.59,301.60 550.84,301.83 551.09,300.49 551.34,299.46 551.59,297.73 551.84,297.08 552.09,296.75 552.34,294.90 552.59,293.51 552.84,293.42 553.09,291.71 553.34,290.47 553.59,288.36 553.84,288.59 554.09,289.64 554.34,290.50 554.59,289.19 554.84,289.19 555.09,290.49 555.34,291.86 555.59,291.51 555.84,292.92 556.09,295.58 556.34,297.34 556.59,296.03 556.84,295.01 557.09,294.48 557.34,293.54 557.59,293.87 557.84,292.76 558.09,291.51 558.34,291.96 558.59,289.74 558.84,289.84 559.09,292.74 559.34,293.88 559.59,294.61 559.84,296.47 560.09,299.86 560.34,301.13 560.59,303.94 560.84,306.93 561.09,309.69 561.34,310.91 561.59,312.88 561.84,313.21 562.09,314.43 562.34,314.18 562.59,311.70 562.84,309.48 563.09,307.76 563.34,306.79 563.59,305.02 563.84,303.70 564.09,301.73 564.34,300.85 564.59,301.09 564.84,300.93 565.09,300.74 565.34,297.85 565.59,299.46 565.84,299.76 566.09,300.55 566.34,300.65 566.59,299.63 566.84,299.39 567.09,297.98 567.34,297.99 567.59,297.52 567.84,297.66 568.09,297.25 568.34,297.55 568.59,297.70 568.84,295.95 569.09,296.07 569.34,293.77 569.59,294.03 569.84,294.75 570.09,296.40 570.34,297.97 570.59,299.52 570.84,300.02 571.09,299.84 571.34,300.35 571.59,299.29 571.84,300.71 572.09,300.74 572.34,299.75 572.59,300.61 572.84,301.99 573.09,302.86 573.34,303.07 573.59,305.36 573.84,308.00 574.09,308.40 574.34,305.78 574.59,305.06 574.84,303.44 575.09,303.52 575.34,303.45 575.59,302.70 575.84,303.38 576.09,304.08 576.34,304.59 576.59,305.62 576.84,307.70 577.09,309.19 577.34,310.12 577.59,313.83 577.84,312.60 578.09,311.60 578.34,309.57 578.59,309.01 578.84,307.35 579.09,304.07 579.34,299.92 579.59,297.99 579.84,294.35 580.09,292.43 580.34,290.90 580.59,289.63 580.84,288.30 581.09,289.44 581.34,290.80 581.59,293.04 581.84,294.24 582.09,296.48 582.34,300.31 582.59,302.55 582.84,304.57 583.09,307.91 583.34,310.05 583.59,310.37 583.84,310.24 584.09,309.99 584.34,310.72 584.59,310.31 584.84,310.46 585.09,311.41 585.34,312.02 585.59,313.58 585.84,313.45 586.09,312.12 586.34,310.96 586.59,310.28 586.84,309.63 587.09,308.47 587.34,308.11 587.59,307.07 587.84,305.70 588.09,305.53 588.34,304.80 588.59,303.48 588.84,301.75 589.09,301.74 589.34,299.74 589.59,298.33 589.84,297.04 590.09,296.87 590.34,295.58 590.59,294.15 590.84,292.34 591.09,289.62 591.34,288.69 591.59,288.28 591.84,286.00 592.09,286.09 592.34,283.30 592.59,282.50 592.84,281.62 593.09,280.30 593.34,279.19 593.59,278.49 593.84,277.24 594.09,275.88 594.34,276.07 594.59,273.79 594.84,273.17 595.09,273.35 595.34,272.27 595.59,271.63 595.84,270.81 596.09,271.51 596.34,272.16 596.59,274.92 596.84,276.27 597.09,279.00 597.34,280.97 597.59,282.59 597.84,282.76 598.09,283.01 598.34,283.46 598.59,284.85 598.84,285.50 599.09,284.65 599.34,284.12 599.59,282.64 599.84,282.64 600.09,280.55 600.34,279.90 600.59,277.81 600.84,280.98 601.09,281.82 601.34,281.57 601.59,281.12 601.84,281.99 602.09,284.24 602.34,284.27 602.59,285.04 602.84,286.13 603.09,286.74 603.34,284.26 603.59,281.42 603.84,278.99 604.09,275.45 604.34,275.79 604.59,277.44 604.84,280.43 605.09,281.59 605.34,282.68 605.59,284.49 605.84,284.35 606.09,285.30 606.34,285.22 606.59,285.96 606.84,286.74 607.09,287.81 607.34,287.90 607.59,288.83 607.84,289.77 608.09,289.51 608.34,290.96 608.59,292.68 608.84,293.70 609.09,293.91 609.34,294.75 609.59,295.89 609.84,295.26 610.09,297.17 610.34,298.49 610.59,300.41 610.84,301.29 611.09,302.95 611.34,304.63 611.59,305.39 611.84,306.63 612.09,308.22 612.34,309.75 612.59,309.96 612.84,310.24 613.09,311.80 613.34,313.31 613.59,313.06 613.84,313.29 614.09,312.42 614.34,313.83 614.59,314.59 614.84,315.19 615.09,313.53 615.34,311.72 615.59,309.83 615.84,309.95 616.09,309.44 616.34,307.52 616.59,306.89 616.84,306.14 617.09,304.48 617.34,303.63 617.59,303.56 617.84,303.54 618.09,304.60 618.34,304.65 618.59,304.12 618.84,305.32 619.09,305.67 619.34,304.55 619.59,306.68 619.84,307.64 620.09,307.54 620.34,307.64 620.59,308.08 620.84,309.19 621.09,308.85 621.34,309.40 621.59,310.66 621.84,311.47 622.09,310.72 622.34,310.50 622.59,310.51 622.84,312.48 623.09,312.60 623.34,313.01 623.59,314.56 623.84,315.43 624.09,315.57 624.34,316.56 624.59,315.56 624.84,314.95 625.09,313.86 625.34,315.26 625.59,313.61 625.84,312.70 626.09,312.47 626.34,312.66 626.59,312.59 626.84,312.22 627.09,313.82 627.34,313.92 627.59,313.08 627.84,311.66 628.09,312.45 628.34,312.03 628.59,310.80 628.84,310.47 629.09,308.72 629.34,306.66 629.59,307.17 629.84,305.79 630.09,302.95 630.34,303.24 630.59,303.36 630.84,303.10 631.09,301.93 631.34,301.19 631.59,301.60 631.84,303.25 632.09,304.58 632.34,307.19 632.59,307.86 632.84,306.47 633.09,307.10 633.34,306.61 633.59,305.17 633.84,303.73 634.09,303.31 634.34,303.23 634.59,302.97 634.84,301.36 635.09,303.02 635.34,302.32 635.59,300.24 635.84,299.40 636.09,298.84 636.34,297.07 636.59,296.35 636.84,295.56 637.09,296.14 637.34,296.11 637.59,295.79 637.84,295.98 638.09,297.71 638.34,299.00 638.59,300.28 638.84,301.26 639.09,303.89 639.34,305.09 639.59,306.02 639.84,305.68 640.09,304.24 640.34,305.65 640.59,305.39 640.84,306.36 641.09,307.98 641.34,308.82 641.59,310.98 641.84,311.01 642.09,313.24 642.34,313.36 642.59,312.71 642.84,311.47 643.09,310.74 643.34,309.95 643.59,310.66 643.84,311.80 644.09,312.38 644.34,312.41 644.59,314.60 644.84,315.84 645.09,315.64 645.34,316.04 645.59,316.74 645.84,317.65 646.09,318.38 646.34,317.97 646.59,316.42 646.84,316.31 647.09,316.29 647.34,315.53 647.59,314.03 647.84,314.79 648.09,314.71 648.34,315.42 648.59,315.86 648.84,317.02 649.09,317.24 649.34,316.76 649.59,315.69 649.84,314.60 650.09,312.79 650.34,310.48 650.59,308.86 650.84,308.85 651.09,306.54 651.34,306.10 651.59,305.74 651.84,305.66 652.09,306.36 652.34,307.77 652.59,308.97 652.84,309.95 653.09,311.37 653.34,309.49 653.59,308.66 653.84,307.98 654.09,304.81 654.34,303.75 654.59,305.50 654.84,305.34 655.09,305.32 655.34,306.14 655.59,308.00 655.84,306.87 656.09,305.71 656.34,305.34 656.59,303.92 656.84,303.07 657.09,302.63 657.34,301.40 657.59,299.89 657.84,298.89 658.09,298.46 658.34,297.48 658.59,294.38 658.84,292.71 659.09,290.16 659.34,287.36 659.59,286.13 659.84,284.44 660.09,281.73 660.34,279.89 660.59,278.90 660.84,275.86 661.09,272.56 661.34,271.06 661.59,269.83 661.84,269.06 662.09,267.12 662.34,264.59 662.59,262.85 662.84,262.12 663.09,261.03 663.34,259.85 663.59,258.38 663.84,256.61 664.09,254.74 664.34,254.78 664.59,253.92 664.84,253.37 665.09,252.63 665.34,250.39 665.59,248.13 665.84,246.54 666.09,245.94 666.34,243.47 666.59,242.61 666.84,241.20 667.09,241.26 667.34,240.38 667.59,239.89 667.84,239.06 668.09,239.07 668.34,239.66 668.59,240.20 668.84,240.97 669.09,241.90 669.34,242.50 669.59,244.03 669.84,246.34 670.09,247.41 670.34,250.46 670.59,250.98 670.84,252.52 671.09,252.81 671.34,254.57 671.59,256.26 671.84,257.38 672.09,258.56 672.34,259.56 672.59,260.71 672.84,261.51 673.09,260.89 673.34,261.51 673.59,261.78 673.84,263.30 674.09,266.68 674.34,269.15 674.59,270.16 674.84,272.02 675.09,273.33 675.34,275.89 675.59,277.85 675.84,278.42 676.09,281.50 676.34,281.95 676.59,284.32 676.84,285.77 677.09,286.83 677.34,287.60 677.59,289.50 677.84,289.57 678.09,289.69 678.34,289.60 678.59,290.93 678.84,291.38 679.09,292.26 679.34,292.38 679.59,294.26 679.84,293.90 680.09,295.81 680.34,296.61 680.59,296.67 680.84,296.59 681.09,296.71 681.34,297.27 681.59,296.76 681.84,298.58 682.09,299.79 682.34,298.91 682.59,302.63 682.84,303.04 683.09,304.78 683.34,306.84 683.59,306.29 683.84,305.08 684.09,307.25 684.34,309.77 684.59,310.91 684.84,311.35 685.09,313.15 685.34,312.88 685.59,314.13 685.84,314.43 686.09,315.19 686.34,317.67 686.59,318.80 686.84,318.95 687.09,319.46 687.34,319.34 687.59,318.51 687.84,319.78 688.09,319.14 688.34,320.33 688.59,320.33 688.84,319.82 689.09,319.65 689.34,318.54 689.59,317.45 689.84,316.39 690.09,315.67 690.34,315.46 690.59,315.28 690.84,314.98 691.09,314.48 691.34,314.45 691.59,313.13 691.84,313.78 692.09,314.10 692.34,313.45 692.59,311.94 692.84,313.32 693.09,312.02 693.34,311.11 693.59,310.08 693.84,311.75 694.09,311.26 694.34,310.59 694.59,312.36 694.84,312.13 695.09,312.31 695.34,312.11 695.59,311.13 695.84,310.52 696.09,309.63 696.34,306.88 696.59,306.87 696.84,306.66 697.09,305.20 697.34,305.48 697.59,304.42 697.84,305.86 698.09,308.68 698.34,310.96 698.59,313.04 698.84,316.27 699.09,319.17 699.34,320.20 699.59,323.30 699.84,324.01 700.09,324.07 700.34,325.34 700.59,326.40 700.84,327.15 701.09,328.33 701.34,328.91 701.59,328.95 701.84,331.35 702.09,331.23 702.34,331.33 702.59,332.91 702.84,335.10 703.09,335.65 703.34,333.34 703.59,331.67 703.84,328.90 704.09,327.07 704.34,325.21 704.59,326.09 704.84,325.43 705.09,323.90 705.34,322.85 705.59,322.58 705.84,322.66 706.09,325.24 706.34,327.72 706.59,329.89 706.84,330.28 707.09,330.79 707.34,331.06 707.59,331.07 707.84,329.79 708.09,329.31 708.34,328.51 708.59,328.96 708.84,330.78 709.09,329.60 709.34,330.37 709.59,331.18 709.84,328.82 710.09,328.72 710.34,327.90 710.59,327.52 710.84,325.76 711.09,324.86 711.34,325.46 711.59,324.10 711.84,322.53 712.09,320.38 712.34,320.25 712.59,319.38 712.84,319.35 713.09,320.28 713.34,320.54 713.59,320.15 713.84,318.24 714.09,317.07 714.34,317.22 714.59,316.45 714.84,315.44 715.09,312.97 715.34,312.59 715.59,312.45 715.84,311.86 716.09,310.24 716.34,310.69 716.59,311.05 716.84,309.75 717.09,307.81 717.34,306.64 717.59,304.37 717.84,302.65 718.09,303.92 718.34,303.98 718.59,304.37 718.84,303.64 719.09,302.34 719.34,302.48 719.59,303.43 719.84,303.99 720.09,302.96 720.34,303.60 720.59,304.28 720.84,305.37 721.09,305.95 721.34,307.36 721.59,307.87 721.84,307.89 722.09,306.93 722.34,307.80 722.59,306.77 722.84,306.38 723.09,306.20 723.34,305.43 723.59,306.58 723.84,307.84 724.09,308.65 724.34,309.72 724.59,310.00 724.84,310.68 725.09,310.52 725.34,311.60 725.59,311.33 725.84,311.28 726.09,311.84 726.34,312.11 726.59,313.06 726.84,315.34 727.09,316.31 727.34,316.89 727.59,316.27 727.84,316.02 728.09,314.33 728.34,313.16 728.59,312.13 728.84,311.61 729.09,310.99 729.34,310.03 729.59,311.84 729.84,310.71 730.09,310.74 730.34,312.41 730.59,313.19 730.84,313.32 731.09,313.81 731.34,314.98 731.59,315.08 731.84,317.10 732.09,317.62 732.34,318.11 732.59,319.21 732.84,319.54 733.09,319.35 733.34,318.68 733.59,319.73 733.84,321.49 734.09,322.65 734.34,323.13 734.59,323.27 734.84,324.30 735.09,324.87 735.34,326.14 735.59,327.48 735.84,329.67 736.09,330.98 736.34,333.14 736.59,334.90 736.84,337.56 737.09,339.71 737.34,340.16 737.59,340.80 737.84,341.54 738.09,342.56 738.34,342.04 738.59,340.99 738.84,338.93 739.09,337.58 739.34,334.51 739.59,334.27 739.84,332.21 740.09,329.34 740.34,327.75 740.59,326.39 740.84,324.32 741.09,323.11 741.34,322.73 741.59,322.46 741.84,320.24 742.09,319.59 742.34,319.89 742.59,316.51 742.84,315.30 743.09,314.18 743.34,313.32 743.59,311.62 743.84,310.26 744.09,310.09 744.34,307.55 744.59,306.59 744.84,305.16 745.09,303.54 745.34,303.49 745.59,303.73 745.84,302.39 746.09,301.14 746.34,298.83 746.59,299.59 746.84,299.43 747.09,301.32 747.34,302.07 747.59,302.23 747.84,302.16 748.09,304.11 748.34,306.74 748.59,308.35 748.84,309.61 749.09,310.91 749.34,310.18 749.59,310.82 749.84,311.26 750.09,311.25 750.34,311.81 750.59,312.60 750.84,311.79 751.09,311.26 751.34,312.03 751.59,311.34 751.84,311.54 752.09,310.63 752.34,309.60 752.59,307.63 752.84,306.86 753.09,304.24 753.34,304.20 753.59,303.91 753.84,302.88 754.09,302.21 754.34,302.09 754.59,301.66 754.84,301.02 755.09,300.93 755.34,299.97 755.59,298.38 755.84,297.36 756.09,295.65 756.34,292.70 756.59,291.24 756.84,288.23 757.09,286.44 757.34,283.73 757.59,279.22 757.84,276.03 758.09,272.91 758.34,269.16 758.59,266.95 758.84,266.11 759.09,266.12 759.34,266.58 759.59,267.40 759.84,266.70 760.09,268.13 760.34,269.91 760.59,272.72 760.84,274.03 761.09,276.61 761.34,277.89 761.59,277.57 761.84,277.07 762.09,279.10 762.34,281.13 762.59,282.02 762.84,283.87 763.09,285.22 763.34,287.39 763.59,289.64 763.84,292.37 764.09,293.20 764.34,294.28 764.59,294.02 764.84,295.09 765.09,295.60 765.34,295.47 765.59,296.73 765.84,297.17 766.09,296.99 766.34,296.48 766.59,296.48 766.84,295.25 767.09,297.06 767.34,298.84 767.59,297.96 767.84,297.99 768.09,298.46 768.34,296.29 768.59,295.14 768.84,295.34 769.09,295.96 769.34,293.85 769.59,294.16 769.84,292.23 770.09,291.68 770.34,291.06 770.59,291.24 770.84,289.22 771.09,290.23 771.34,289.28 771.59,289.49 771.84,288.83 772.09,289.17 772.34,290.06 772.59,291.17 772.84,292.69 773.09,292.33 773.34,294.17 773.59,296.09 773.84,295.43 774.09,295.19 774.34,297.10 774.59,298.14 774.84,300.10 775.09,301.09 775.34,301.92 775.59,302.16 775.84,303.87 776.09,305.10 776.34,307.31 776.59,308.37 776.84,308.35 777.09,308.76 777.34,308.36 777.59,309.91 777.84,311.35 778.09,313.53 778.34,313.67 778.59,314.53 778.84,313.96 779.09,313.04 779.34,310.25 779.59,308.13 779.84,305.86 780.09,304.42 780.34,304.36 780.59,306.89 780.84,311.12 781.09,312.87 781.34,314.47 781.59,315.21 781.84,316.92 782.09,318.91 782.34,319.22 782.59,320.87 782.84,322.75 783.09,325.48 783.34,325.25 783.59,326.49 783.84,326.35 784.09,328.03 784.34,328.62 784.59,328.75 784.84,330.18 785.09,331.32 785.34,331.26 785.59,332.37 785.84,331.00 786.09,331.29 786.34,333.51 786.59,334.27 786.84,335.85 787.09,334.66 787.34,334.40 787.59,334.05 787.84,332.24 788.09,332.22 788.34,330.46 788.59,328.03 788.84,328.41 789.09,327.35 789.34,325.26 789.59,323.73 789.84,324.34 790.09,324.45 790.34,325.96 790.59,327.37 790.84,328.12 791.09,329.10 791.34,329.87 791.59,330.15 791.84,329.89 792.09,327.71 792.34,327.84 792.59,328.37 792.84,326.67 793.09,325.77 793.34,326.01 793.59,325.89 793.84,324.51 794.09,324.45 794.34,323.78 794.59,326.31 794.84,323.75 795.09,322.79 795.34,322.59 795.59,321.47 795.84,321.17 796.09,319.91 796.34,320.13 796.59,319.40 796.84,318.65 797.09,319.24 797.34,318.84 797.59,318.68 797.84,319.26 798.09,321.89 798.34,321.32 798.59,323.27 798.84,321.36 799.09,319.74 799.34,316.29 799.59,315.04 799.84,312.48 800.09,311.36 800.34,309.73 800.59,306.99 800.84,304.71 801.09,302.26 801.34,300.66 801.59,298.94 801.84,298.19 802.09,293.78 802.34,293.05 802.59,290.48 802.84,288.23 803.09,287.48 803.34,286.03 803.59,284.24 803.84,282.46 804.09,281.25 804.34,280.88 804.59,278.66 804.84,276.82 805.09,275.27 805.34,275.46 805.59,275.43 805.84,273.87 806.09,273.64 806.34,272.72 806.59,272.93 806.84,270.92 807.09,270.98 807.34,268.81 807.59,270.25 807.84,272.08 808.09,273.25 808.34,274.90 808.59,277.29 808.84,278.46 809.09,278.66 809.34,280.50 809.59,281.36 809.84,280.91 810.09,281.48 810.34,281.85 810.59,283.71 810.84,283.47 811.09,283.41 811.34,282.40 811.59,280.50 811.84,279.97 812.09,280.64 812.34,279.80 812.59,278.69 812.84,280.10 813.09,280.66 813.34,280.42 813.59,279.67 813.84,278.74 814.09,276.25 814.34,276.43 814.59,276.29 814.84,274.96 815.09,274.33 815.34,274.34 815.59,273.42 815.84,271.69 816.09,271.55 816.34,270.80 816.59,274.09 816.84,273.63 817.09,273.49 817.34,275.04 817.59,276.27 817.84,277.83 818.09,278.25 818.34,280.37 818.59,281.93 818.84,283.49 819.09,283.93 819.34,285.70 819.59,285.78 819.84,287.63 820.09,288.15 820.34,290.45 820.59,292.11 820.84,292.00 821.09,293.16 821.34,293.37 821.59,294.95 821.84,294.06 822.09,295.66 822.34,295.86 822.59,295.92 822.84,296.44 823.09,295.82 823.34,297.78 823.59,296.43 823.84,296.18 824.09,295.92 824.34,295.91 824.59,295.38 824.84,294.42 825.09,293.72 825.34,293.25 825.59,294.02 825.84,293.79 826.09,293.74 826.34,294.78 826.59,294.24 826.84,292.50 827.09,291.38 827.34,290.24 827.59,289.29 827.84,289.13 828.09,287.58 828.34,285.20 828.59,282.94 828.84,282.34 829.09,281.71 829.34,280.29 829.59,280.29 829.84,281.11 830.09,280.25 830.34,280.00 830.59,279.70 830.84,280.32 831.09,282.63 831.34,283.55 831.59,285.23 831.84,287.10 832.09,287.16 832.34,289.16 832.59,291.51 832.84,292.79 833.09,295.74 833.34,297.00 833.59,297.44 833.84,296.19 834.09,294.41 834.34,294.26 834.59,292.83 834.84,292.85 835.09,292.28 835.34,292.58 835.59,289.85 835.84,288.62 836.09,288.10 836.34,286.86 836.59,284.94 836.84,283.91 837.09,282.44 837.34,280.28 837.59,279.49 837.84,277.21 838.09,275.57 838.34,273.88 838.59,273.51 838.84,274.10 839.09,272.00 839.34,270.28 839.59,269.85 839.84,270.28 840.09,271.32 840.34,273.04 840.59,271.77 840.84,271.53 841.09,272.78 841.34,272.99 841.59,273.68 841.84,273.38 842.09,274.11 842.34,273.00 842.59,273.64 842.84,274.38 843.09,273.42 843.34,272.67 843.59,274.02 843.84,276.46 844.09,276.15 844.34,277.11 844.59,278.02 844.84,278.32 845.09,279.95 845.34,278.53 845.59,279.46 845.84,281.22 846.09,281.95 846.34,282.93 846.59,283.66 846.84,285.81 847.09,285.45 847.34,285.35 847.59,286.82 847.84,288.82 848.09,288.69 848.34,289.48 848.59,291.48 848.84,292.66 849.09,291.77 849.34,294.33 849.59,291.30 849.84,290.16 850.09,288.36 850.34,286.52 850.59,285.67 850.84,284.52 851.09,282.98 851.34,281.07 851.59,280.41 851.84,278.53 852.09,278.05 852.34,277.14 852.59,276.43 852.84,274.94 853.09,274.83 853.34,274.37 853.59,275.88 853.84,279.17 854.09,281.18 854.34,283.92 854.59,285.34 854.84,287.57 855.09,288.29 855.34,290.94 855.59,293.00 855.84,294.89 856.09,295.29 856.34,296.94 856.59,299.51 856.84,302.07 857.09,304.33 857.34,305.60 857.59,306.16 857.84,308.94 858.09,309.36 858.34,310.43 858.59,312.50 858.84,313.35 859.09,315.46 859.34,317.29 859.59,316.51 859.84,316.34 860.09,315.33 860.34,313.28 860.59,313.03 860.84,310.78 861.09,309.40 861.34,308.38 861.59,307.00 861.84,306.78 862.09,305.69 862.34,305.13 862.59,304.40 862.84,302.19 863.09,301.41 863.34,300.26 863.59,299.98 863.84,299.37 864.09,298.56 864.34,297.96 864.59,296.35 864.84,294.19 865.09,291.13 865.34,288.31 865.59,287.82 865.84,287.40 866.09,286.30 866.34,285.16 866.59,285.83 866.84,285.44 867.09,284.06 867.34,284.04 867.59,286.36 867.84,286.24 868.09,285.93 868.34,285.19 868.59,285.80 868.84,288.49 869.09,290.33 869.34,290.39 869.59,291.04 869.84,292.32 870.09,293.63 870.34,293.47 870.59,295.30 870.84,296.76 871.09,297.88 871.34,298.80 871.59,298.67 871.84,296.35 872.09,296.26 872.34,293.97 872.59,292.43 872.84,292.18 873.09,291.36 873.34,289.94 873.59,291.83 873.84,291.06 874.09,290.46 874.34,290.94 874.59,290.45 874.84,290.26 875.09,291.71 875.34,291.72 875.59,290.38 875.84,290.10 876.09,288.11 876.34,285.23 876.59,282.47 876.84,279.45 877.09,277.95 877.34,273.52 877.59,273.89 877.84,272.41 878.09,269.75 878.34,268.62 878.59,270.82 878.84,272.55 879.09,274.60 879.34,276.75 879.59,278.94 879.84,280.01 880.09,282.48 880.34,284.59 880.59,285.95 880.84,287.73 881.09,289.45 881.34,291.44 881.59,291.04 881.84,290.16 882.09,288.76 882.34,287.66 882.59,286.12 882.84,283.63 883.09,282.05 883.34,281.63 883.59,281.98 883.84,281.97 884.09,281.39 884.34,280.80 884.59,280.46 884.84,279.29 885.09,281.63 885.34,283.01 885.59,284.55 885.84,285.37 886.09,286.47 886.34,286.18 886.59,284.99 886.84,283.67 887.09,282.18 887.34,281.27 887.59,280.51 887.84,279.47 888.09,279.33 888.34,277.49 888.59,277.22 888.84,275.25 889.09,275.28 889.34,273.75 889.59,272.56 889.84,272.36 890.09,270.31 890.34,269.03 890.59,267.18 890.84,267.96 891.09,267.34 891.34,267.71 891.59,266.85 891.84,265.11 892.09,265.67 892.34,266.42 892.59,267.79 892.84,268.63 893.09,269.24 893.34,270.32 893.59,270.78 893.84,270.94 894.09,270.66 894.34,268.87 894.59,268.44 894.84,267.80 895.09,267.68 895.34,266.15 895.59,265.74 895.84,264.98 896.09,263.43 896.34,263.53 896.59,262.46 896.84,265.87 897.09,267.24 897.34,269.88 897.59,272.25 897.84,274.01 898.09,275.69 898.34,274.08 898.59,273.86 898.84,270.22 899.09,268.86 899.34,267.29 899.59,263.87 899.84,262.88 900.09,259.77 900.34,258.08 900.59,256.59 900.84,256.37 901.09,255.95 901.34,256.01 901.59,254.83 901.84,256.46 902.09,258.85 902.34,260.22 902.59,260.46 902.84,261.39 903.09,262.71 903.34,264.63 903.59,266.39 903.84,267.37 904.09,267.67 904.34,269.14 904.59,270.01 904.84,268.72 905.09,269.26 905.34,270.04 905.59,271.43 905.84,270.97 906.09,272.98 906.34,273.71 906.59,273.30 906.84,273.98 907.09,274.29 907.34,274.78 907.59,275.86 907.84,275.47 908.09,276.17 908.34,277.18 908.59,277.82 908.84,277.57 909.09,278.50 909.34,278.08 909.59,278.32 909.84,277.87 910.09,278.70 910.34,277.07 910.59,277.53 910.84,278.51 911.09,277.35 911.34,276.33 911.59,275.93 911.84,275.96 912.09,276.91 912.34,276.78 912.59,277.31 912.84,276.93 913.09,276.25 913.34,276.28 913.59,276.03 913.84,276.33 914.09,275.78 914.34,274.79 914.59,275.09 914.84,275.24 915.09,276.71 915.34,278.79 915.59,280.90"/>
<polyline stroke="#0d997a" points="146.84,374.43 147.09,373.97 147.34,372.07 147.59,371.15 147.84,369.86 148.09,369.79 148.34,371.28 148.59,371.64 148.84,372.06 149.09,372.10 149.34,372.77 149.59,375.28 149.84,375.77 150.09,375.09 150.34,374.99 150.59,372.24 150.84,369.59 151.09,367.65 151.34,365.83 151.59,365.76 151.84,365.98 152.09,367.52 152.34,368.07 152.59,368.28 152.84,369.98 153.09,369.17 153.34,369.11 153.59,369.68 153.84,369.29 154.09,369.25 154.34,369.33 154.59,368.45 154.84,367.92 155.09,369.42 155.34,369.43 155.59,369.01 155.84,368.03 156.09,369.05 156.34,367.94 156.59,368.65 156.84,367.79 157.09,366.61 157.34,365.95 157.59,364.76 157.84,365.54 158.09,365.76 158.34,366.49 158.59,366.15 158.84,366.60 159.09,366.96 159.34,367.65 159.59,366.25 159.84,366.15 160.09,365.51 160.34,364.89 160.59,363.93 160.84,365.17 161.09,364.80 161.34,365.10 161.59,365.62 161.84,365.44 162.09,364.74 162.34,363.65 162.59,363.43 162.84,362.90 163.09,361.81 163.34,360.52 163.59,360.93 163.84,360.76 164.09,361.54 164.34,362.35 164.59,361.12 164.84,360.22 165.09,360.96 165.34,363.21 165.59,366.15 165.84,367.61 166.09,370.76 166.34,371.95 166.59,371.42 166.84,374.80 167.09,376.83 167.34,377.86 167.59,378.08 167.84,378.56 168.09,378.73 168.34,378.32 168.59,379.85 168.84,380.44 169.09,381.42 169.34,380.31 169.59,379.15 169.84,379.06 170.09,378.38 170.34,378.37 170.59,377.56 170.84,379.62 171.09,379.91 171.34,380.16 171.59,381.42 171.84,383.44 172.09,382.78 172.34,382.58 172.59,383.44 172.84,384.69 173.09,382.56 173.34,380.50 173.59,379.89 173.84,378.86 174.09,377.40 174.34,375.74 174.59,374.99 174.84,374.77 175.09,374.08 175.34,373.55 175.59,371.19 175.84,371.71 176.09,370.00 176.34,369.12 176.59,368.22 176.84,367.41 177.09,365.92 177.34,365.79 177.59,365.06 177.84,365.01 178.09,365.64 178.34,365.24 178.59,367.42 178.84,367.47 179.09,366.56 179.34,367.78 179.59,366.71 179.84,367.16 180.09,365.32 180.34,365.66 180.59,365.03 180.84,363.87 181.09,364.48 181.34,363.59 181.59,362.13 181.84,360.36 182.09,360.50 182.34,360.86 182.59,359.11 182.84,357.70 183.09,358.56 183.34,358.01 183.59,357.12 183.84,355.58 184.09,354.83 184.34,354.26 184.59,352.80 184.84,351.95 185.09,350.54 185.34,348.40 185.59,347.37 185.84,347.02 186.09,345.60 186.34,344.65 186.59,342.78 186.84,341.04 187.09,340.23 187.34,338.61 187.59,339.55 187.84,340.84 188.09,341.82 188.34,343.32 188.59,344.05 188.84,344.84 189.09,345.76 189.34,346.81 189.59,346.43 189.84,346.85 190.09,347.97 190.34,347.62 190.59,345.42 190.84,345.27 191.09,344.88 191.34,345.27 191.59,345.11 191.84,345.57 192.09,346.85 192.34,347.65 192.59,348.37 192.84,348.99 193.09,349.91 193.34,347.89 193.59,347.32 193.84,345.95 194.09,345.56 194.34,346.30 194.59,347.33 194.84,347.72 195.09,349.61 195.34,349.36 195.59,349.24 195.84,349.87 196.09,351.30 196.34,351.00 196.59,350.87 196.84,349.70 197.09,349.23 197.34,347.63 197.59,346.10 197.84,345.74 198.09,346.31 198.34,346.14 198.59,345.20 198.84,344.83 199.09,344.36 199.34,343.35 199.59,343.13 199.84,343.48 200.09,344.55 200.34,344.14 200.59,343.93 200.84,343.22 201.09,344.29 201.34,344.81 201.59,343.53 201.84,342.67 202.09,340.88 202.34,340.55 202.59,340.81 202.84,342.27 203.09,344.12 203.34,344.34 203.59,345.22 203.84,345.78 204.09,346.26 204.34,345.92 204.59,345.32 204.84,344.68 205.09,344.72 205.34,346.03 205.59,346.58 205.84,347.23 206.09,347.71 206.34,348.80 206.59,348.51 206.84,348.74 207.09,348.12 207.34,347.63 207.59,346.99 207.84,347.35 208.09,346.30 208.34,346.68 208.59,347.10 208.84,346.92 209.09,347.82 209.34,349.46 209.59,350.24 209.84,349.04 210.09,349.71 210.34,352.08 210.59,350.24 210.84,350.98 211.09,351.55 211.34,352.41 211.59,353.44 211.84,352.44 212.09,351.34 212.34,349.79 212.59,349.82 212.84,352.36 213.09,351.86 213.34,353.34 213.59,352.93 213.84,353.64 214.09,353.38 214.34,354.69 214.59,355.04 214.84,355.49 215.09,355.45 215.34,355.40 215.59,356.02 215.84,355.59 216.09,355.66 216.34,357.26 216.59,357.88 216.84,358.34 217.09,359.98 217.34,359.82 217.59,360.51 217.84,361.99 218.09,362.95 218.34,364.81 218.59,365.99 218.84,366.27 219.09,366.74 219.34,366.85 219.59,366.12 219.84,366.02 220.09,366.67 220.34,367.36 220.59,367.66 220.84,366.69 221.09,366.18 221.34,365.14 221.59,365.08 221.84,365.45 222.09,364.24 222.34,362.18 222.59,362.01 222.84,360.58 223.09,359.18 223.34,359.50 223.59,357.14 223.84,355.39 224.09,355.03 224.34,354.62 224.59,353.91 224.84,355.46 225.09,357.95 225.34,357.94 225.59,358.13 225.84,360.88 226.09,361.68 226.34,363.56 226.59,366.58 226.84,366.73 227.09,368.46 227.34,370.88 227.59,371.04 227.84,371.20 228.09,371.15 228.34,371.11 228.59,373.96 228.84,373.97 229.09,374.10 229.34,373.72 229.59,373.50 229.84,373.43 230.09,372.02 230.34,371.66 230.59,370.49 230.84,369.72 231.09,369.69 231.34,367.91 231.59,367.68 231.84,366.43 232.09,366.15 232.34,366.80 232.59,367.29 232.84,366.08 233.09,366.52 233.34,368.15 233.59,367.37 233.84,366.87 234.09,366.11 234.34,366.32 234.59,366.70 234.84,368.17 235.09,369.71 235.34,368.83 235.59,370.13 235.84,371.46 236.09,371.22 236.34,370.24 236.59,369.60 236.84,370.04 237.09,369.48 237.34,370.70 237.59,371.41 237.84,373.80 238.09,374.51 238.34,375.28 238.59,376.71 238.84,377.43 239.09,377.96 239.34,378.25 239.59,381.09 239.84,381.95 240.09,382.46 240.34,382.35 240.59,380.94 240.84,381.13 241.09,380.08 241.34,378.17 241.59,377.77 241.84,378.26 242.09,379.68 242.34,380.72 242.59,382.94 242.84,385.00 243.09,387.59 243.34,387.94 243.59,390.27 243.84,392.91 244.09,391.96 244.34,389.89 244.59,388.30 244.84,387.35 245.09,385.72 245.34,384.97 245.59,384.34 245.84,382.55 246.09,380.99 246.34,381.02 246.59,380.98 246.84,379.78 247.09,378.17 247.34,380.12 247.59,382.87 247.84,384.65 248.09,385.73 248.34,389.57 248.59,389.59 248.84,389.80 249.09,389.59 249.34,389.55 249.59,389.65 249.84,391.18 250.09,392.52 250.34,392.34 250.59,392.94 250.84,394.05 251.09,394.66 251.34,395.79 251.59,398.14 251.84,398.03 252.09,397.04 252.34,398.00 252.59,397.86 252.84,398.58 253.09,397.65 253.34,396.23 253.59,395.79 253.84,393.58 254.09,393.01 254.34,391.70 254.59,392.75 254.84,391.66 255.09,391.45 255.34,390.51 255.59,390.14 255.84,389.67 256.09,391.00 256.34,391.49 256.59,390.69 256.84,390.79 257.09,391.89 257.34,392.42 257.59,391.54 257.84,391.60 258.09,389.82 258.34,388.34 258.59,387.52 258.84,389.08 259.09,391.66 259.34,392.20 259.59,394.40 259.84,395.65 260.09,397.53 260.34,398.39 260.59,400.03 260.84,401.56 261.09,401.53 261.34,400.28 261.59,399.49 261.84,398.07 262.09,396.51 262.34,394.41 262.59,393.43 262.84,393.59 263.09,392.12 263.34,391.07 263.59,390.61 263.84,390.11 264.09,390.58 264.34,389.89 264.59,390.91 264.84,391.66 265.09,393.19 265.34,395.90 265.59,397.58 265.84,398.62 266.09,399.59 266.34,401.37 266.59,400.31 266.84,397.29 267.09,394.78 267.34,393.08 267.59,392.08 267.84,391.33 268.09,389.37 268.34,387.93 268.59,384.94 268.84,383.21 269.09,381.63 269.34,382.46 269.59,383.79 269.84,382.46 270.09,384.43 270.34,383.75 270.59,385.06 270.84,382.54 271.09,381.57 271.34,379.77 271.59,377.10 271.84,375.57 272.09,375.53 272.34,374.73 272.59,375.29 272.84,376.30 273.09,377.06 273.34,377.55 273.59,377.78 273.84,379.64 274.09,379.35 274.34,380.53 274.59,381.58 274.84,382.90 275.09,382.58 275.34,383.54 275.59,383.15 275.84,381.94 276.09,381.17 276.34,381.54 276.59,379.54 276.84,377.03 277.09,374.98 277.34,374.57 277.59,371.83 277.84,370.93 278.09,370.23 278.34,369.81 278.59,369.24 278.84,370.18 279.09,370.22 279.34,370.15 279.59,371.95 279.84,373.55 280.09,373.54 280.34,374.27 280.59,375.65 280.84,377.40 281.09,377.58 281.34,376.27 281.59,375.10 281.84,375.90 282.09,375.40 282.34,375.76 282.59,377.47 282.84,377.51 283.09,377.13 283.34,376.94 283.59,377.24 283.84,378.59 284.09,377.14 284.34,375.46 284.59,373.96 284.84,371.50 285.09,370.07 285.34,367.90 285.59,367.57 285.84,366.70 286.09,365.42 286.34,366.27 286.59,363.47 286.84,362.87 287.09,361.50 287.34,359.67 287.59,358.08 287.84,357.41 288.09,357.06 288.34,356.80 288.59,354.42 288.84,354.48 289.09,354.50 289.34,352.91 289.59,352.73 289.84,353.28 290.09,351.95 290.34,353.31 290.59,353.91 290.84,353.41 291.09,354.88 291.34,355.24 291.59,355.57 291.84,355.89 292.09,357.40 292.34,356.98 292.59,357.48 292.84,356.37 293.09,357.08 293.34,355.96 293.59,355.44 293.84,354.61 294.09,352.39 294.34,352.27 294.59,351.35 294.84,352.47 295.09,352.97 295.34,354.38 295.59,354.84 295.84,355.68 296.09,356.29 296.34,354.80 296.59,355.28 296.84,355.97 297.09,355.17 297.34,355.69 297.59,356.95 297.84,357.51 298.09,358.15 298.34,358.28 298.59,357.14 298.84,357.87 299.09,358.93 299.34,358.59 299.59,358.13 299.84,359.71 300.09,360.48 300.34,360.57 300.59,360.35 300.84,360.32 301.09,358.30 301.34,356.79 301.59,357.67 301.84,356.74 302.09,356.78 302.34,356.98 302.59,358.28 302.84,358.27 303.09,359.81 303.34,361.25 303.59,359.46 303.84,359.31 304.09,357.91 304.34,356.88 304.59,356.13 304.84,355.87 305.09,355.42 305.34,354.63 305.59,354.91 305.84,354.59 306.09,354.01 306.34,353.58 306.59,352.08 306.84,353.03 307.09,353.39 307.34,351.97 307.59,348.80 307.84,349.20 308.09,349.93 308.34,349.60 308.59,348.94 308.84,347.10 309.09,347.34 309.34,348.50 309.59,349.24 309.84,349.28 310.09,347.39 310.34,345.59 310.59,346.35 310.84,346.04 311.09,347.31 311.34,345.98 311.59,348.93 311.84,348.74 312.09,349.64 312.34,348.80 312.59,346.93 312.84,346.53 313.09,345.88 313.34,345.33 313.59,344.01 313.84,342.38 314.09,341.00 314.34,340.33 314.59,338.76 314.84,337.76 315.09,337.00 315.34,335.04 315.59,333.33 315.84,332.71 316.09,331.25 316.34,329.54 316.59,326.19 316.84,326.92 317.09,326.54 317.34,324.86 317.59,325.11 317.84,324.42 318.09,322.27 318.34,322.05 318.59,321.99 318.84,321.00 319.09,320.91 319.34,319.75 319.59,319.54 319.84,318.81 320.09,317.04 320.34,314.68 320.59,314.71 320.84,313.22 321.09,313.35 321.34,313.07 321.59,313.95 321.84,313.20 322.09,312.14 322.34,311.98 322.59,310.91 322.84,312.69 323.09,312.76 323.34,314.87 323.59,314.95 323.84,316.96 324.09,316.11 324.34,315.02 324.59,314.99 324.84,313.75 325.09,314.09 325.34,312.95 325.59,311.72 325.84,311.87 326.09,311.40 326.34,310.45 326.59,308.96 326.84,309.59 327.09,308.90 327.34,309.30 327.59,308.64 327.84,308.33 328.09,308.48 328.34,308.16 328.59,308.43 328.84,307.08 329.09,306.70 329.34,306.54 329.59,307.21 329.84,306.07 330.09,306.52 330.34,306.31 330.59,305.56 330.84,304.87 331.09,304.23 331.34,303.82 331.59,302.87 331.84,302.06 332.09,303.38 332.34,304.35 332.59,305.69 332.84,307.78 333.09,311.19 333.34,310.52 333.59,309.81 333.84,311.74 334.09,311.30 334.34,311.05 334.59,311.50 334.84,313.38 335.09,312.65 335.34,313.16 335.59,313.87 335.84,313.36 336.09,314.24 336.34,313.68 336.59,314.26 336.84,313.68 337.09,313.23 337.34,310.87 337.59,309.93 337.84,311.27 338.09,311.80 338.34,311.77 338.59,312.38 338.84,314.26 339.09,314.98 339.34,314.96 339.59,314.45 339.84,316.90 340.09,316.48 340.34,316.78 340.59,317.41 340.84,317.45 341.09,317.61 341.34,317.15 341.59,316.89 341.84,316.18 342.09,315.48 342.34,316.01 342.59,316.44 342.84,317.03 343.09,318.08 343.34,318.61 343.59,319.20 343.84,320.77 344.09,320.86 344.34,321.93 344.59,323.33 344.84,323.77 345.09,326.92 345.34,328.75 345.59,330.04 345.84,334.42 346.09,335.93 346.34,338.52 346.59,341.77 346.84,343.42 347.09,344.81 347.34,344.64 347.59,346.67 347.84,347.48 348.09,347.68 348.34,349.84 348.59,351.07 348.84,348.63 349.09,348.77 349.34,348.27 349.59,347.31 349.84,346.75 350.09,349.37 350.34,351.69 350.59,351.51 350.84,352.45 351.09,353.55 351.34,356.35 351.59,357.16 351.84,358.31 352.09,357.96 352.34,359.53 352.59,360.27 352.84,360.22 353.09,359.89 353.34,360.11 353.59,360.83 353.84,361.32 354.09,361.38 354.34,360.74 354.59,362.81 354.84,363.75 355.09,363.58 355.34,364.90 355.59,365.69 355.84,365.71 356.09,365.90 356.34,366.08 356.59,366.11 356.84,365.54 357.09,366.67 357.34,366.25 357.59,364.57 357.84,362.78 358.09,363.48 358.34,363.16 358.59,364.17 358.84,365.29 359.09,365.72 359.34,366.59 359.59,366.52 359.84,369.23 360.09,370.29 360.34,370.98 360.59,370.97 360.84,371.71 361.09,372.38 361.34,373.23 361.59,373.15 361.84,371.93 362.09,371.92 362.34,371.90 362.59,371.52 362.84,370.78 363.09,370.46 363.34,370.82 363.59,371.63 363.84,371.37 364.09,371.49 364.34,371.30 364.59,370.92 364.84,370.91 365.09,370.21 365.34,369.16 365.59,369.40 365.84,368.50 366.09,366.65 366.34,366.34 366.59,364.23 366.84,362.05 367.09,361.99 367.34,361.45 367.59,362.54 367.84,363.07 368.09,364.60 368.34,364.12 368.59,362.48 368.84,361.13 369.09,361.15 369.34,360.29 369.59,360.00 369.84,359.97 370.09,357.77 370.34,356.22 370.59,354.70 370.84,351.98 371.09,350.14 371.34,349.48 371.59,347.03 371.84,346.37 372.09,345.86 372.34,344.02 372.59,344.33 372.84,343.18 373.09,342.79 373.34,341.99 373.59,342.02 373.84,342.29 374.09,340.22 374.34,340.92 374.59,341.00 374.84,341.75 375.09,343.09 375.34,342.83 375.59,342.39 375.84,341.93 376.09,341.09 376.34,340.19 376.59,341.70 376.84,341.69 377.09,342.61 377.34,343.77 377.59,343.99 377.84,344.44 378.09,346.67 378.34,346.20 378.59,346.89 378.84,347.89 379.09,349.40 379.34,351.54 379.59,351.72 379.84,351.81 380.09,352.94 380.34,353.59 380.59,353.17 380.84,351.30 381.09,350.86 381.34,350.39 381.59,349.11 381.84,347.33 382.09,346.50 382.34,347.43 382.59,348.29 382.84,348.88 383.09,349.75 383.34,349.79 383.59,352.34 383.84,350.61 384.09,348.86 384.34,347.46 384.59,347.37 384.84,346.37 385.09,346.45 385.34,346.25 385.59,346.07 385.84,346.95 386.09,345.87 386.34,347.61 386.59,346.64 386.84,347.09 387.09,347.45 387.34,347.21 387.59,348.00 387.84,348.34 388.09,348.27 388.34,346.07 388.59,346.54 388.84,346.65 389.09,346.85 389.34,347.32 389.59,346.69 389.84,345.41 390.09,346.47 390.34,347.39 390.59,348.32 390.84,348.58 391.09,348.46 391.34,349.45 391.59,349.52 391.84,349.17 392.09,351.33 392.34,351.90 392.59,351.05 392.84,351.69 393.09,352.98 393.34,353.33 393.59,354.16 393.84,354.68 394.09,355.43 394.34,354.36 394.59,354.27 394.84,355.81 395.09,355.61 395.34,354.91 395.59,355.97 395.84,355.87 396.09,355.67 396.34,357.18 396.59,356.86 396.84,357.33 397.09,355.93 397.34,357.28 397.59,358.49 397.84,358.02 398.09,357.94 398.34,358.55 398.59,357.36 398.84,358.39 399.09,358.52 399.34,358.26 399.59,356.53 399.84,357.84 400.09,358.57 400.34,359.01 400.59,358.82 400.84,358.90 401.09,358.14 401.34,359.71 401.59,361.53 401.84,362.24 402.09,364.99 402.34,366.19 402.59,364.13 402.84,365.43 403.09,364.83 403.34,364.48 403.59,363.29 403.84,362.66 404.09,360.98 404.34,360.65 404.59,362.18 404.84,361.60 405.09,362.10 405.34,361.65 405.59,360.59 405.84,360.85 406.09,360.18 406.34,359.37 406.59,359.10 406.84,358.65 407.09,360.26 407.34,360.13 407.59,359.84 407.84,360.23 408.09,361.45 408.34,362.01 408.59,361.48 408.84,361.31 409.09,362.74 409.34,362.94 409.59,363.63 409.84,364.83 410.09,365.10 410.34,364.42 410.59,364.51 410.84,364.85 411.09,363.19 411.34,364.79 411.59,365.83 411.84,365.98 412.09,365.86 412.34,367.15 412.59,367.00 412.84,366.09 413.09,366.22 413.34,365.23 413.59,364.29 413.84,364.86 414.09,362.58 414.34,360.81 414.59,359.78 414.84,357.25 415.09,355.77 415.34,354.83 415.59,354.54 415.84,353.86 416.09,354.36 416.34,353.51 416.59,352.74 416.84,352.12 417.09,352.89 417.34,352.08 417.59,350.80 417.84,350.15 418.09,351.34 418.34,351.00 418.59,350.42 418.84,349.26 419.09,347.57 419.34,346.73 419.59,345.75 419.84,344.09 420.09,342.35 420.34,339.82 420.59,336.77 420.84,333.88 421.09,331.47 421.34,331.47 421.59,328.81 421.84,327.04 422.09,327.50 422.34,328.92 422.59,329.59 422.84,329.15 423.09,329.25 423.34,329.92 423.59,331.02 423.84,329.88 424.09,329.04 424.34,327.76 424.59,326.90 424.84,325.28 425.09,324.77 425.34,322.62 425.59,321.67 425.84,321.46 426.09,320.69 426.34,321.80 426.59,321.81 426.84,322.71 427.09,323.23 427.34,324.68 427.59,325.54 427.84,324.90 428.09,322.48 428.34,320.77 428.59,319.61 428.84,318.85 429.09,318.90 429.34,319.38 429.59,319.65 429.84,322.41 430.09,322.07 430.34,324.20 430.59,324.36 430.84,322.16 431.09,322.68 431.34,321.93 431.59,320.61 431.84,320.02 432.09,320.24 432.34,321.64 432.59,322.72 432.84,322.06 433.09,320.73 433.34,320.21 433.59,320.47 433.84,319.30 434.09,319.22 434.34,319.38 434.59,320.29 434.84,318.03 435.09,317.17 435.34,318.40 435.59,316.62 435.84,317.73 436.09,315.41 436.34,314.67 436.59,314.53 436.84,313.33 437.09,313.08 437.34,311.36 437.59,310.66 437.84,309.17 438.09,306.86 438.34,306.86 438.59,306.88 438.84,305.71 439.09,305.03 439.34,303.73 439.59,304.65 439.84,306.07 440.09,307.57 440.34,308.43 440.59,309.71 440.84,311.66 441.09,313.91 441.34,315.92 441.59,317.31 441.84,318.90 442.09,318.51 442.34,321.62 442.59,323.23 442.84,325.23 443.09,327.44 443.34,328.58 443.59,330.39 443.84,331.86 444.09,333.49 444.34,336.18 444.59,337.01 444.84,337.01 445.09,337.44 445.34,340.19 445.59,342.06 445.84,341.35 446.09,341.54 446.34,342.41 446.59,342.88 446.84,344.21 447.09,344.32 447.34,344.82 447.59,347.44 447.84,347.42 448.09,348.50 448.34,348.23 448.59,348.66 448.84,349.07 449.09,349.57 449.34,351.16 449.59,350.60 449.84,351.78 450.09,352.69 450.34,352.97 450.59,355.20 450.84,355.76 451.09,354.19 451.34,352.92 451.59,353.22 451.84,353.32 452.09,353.36 452.34,353.80 452.59,354.07 452.84,355.32 453.09,357.86 453.34,358.86 453.59,357.83 453.84,358.34 454.09,360.41 454.34,361.23 454.59,360.73 454.84,362.73 455.09,362.92 455.34,363.41 455.59,363.80 455.84,364.34 456.09,365.85 456.34,366.33 456.59,369.17 456.84,368.98 457.09,369.28 457.34,369.71 457.59,369.81 457.84,369.57 458.09,370.51 458.34,371.12 458.59,369.87 458.84,370.83 459.09,371.22 459.34,371.54 459.59,371.73 459.84,371.89 460.09,372.93 460.34,373.52 460.59,376.00 460.84,375.99 461.09,375.69 461.34,377.09 461.59,377.91 461.84,378.96 462.09,379.39 462.34,379.79 462.59,382.02 462.84,383.07 463.09,384.20 463.34,385.33 463.59,384.54 463.84,381.18 464.09,379.15 464.34,377.85 464.59,375.37 464.84,371.47 465.09,371.00 465.34,368.05 465.59,362.37 465.84,359.26 466.09,358.09 466.34,357.40 466.59,355.01 466.84,354.39 467.09,353.73 467.34,354.33 467.59,353.05 467.84,352.68 468.09,353.25 468.34,352.35 468.59,351.16 468.84,350.25 469.09,348.60 469.34,348.14 469.59,346.59 469.84,346.53 470.09,346.17 470.34,347.57 470.59,348.11 470.84,346.28 471.09,348.21 471.34,349.89 471.59,349.08 471.84,347.78 472.09,346.32 472.34,347.08 472.59,347.20 472.84,347.35 473.09,346.57 473.34,346.94 473.59,346.49 473.84,345.57 474.09,345.04 474.34,344.50 474.59,342.98 474.84,341.03 475.09,341.15 475.34,338.49 475.59,337.26 475.84,337.13 476.09,336.58 476.34,335.42 476.59,335.97 476.84,334.95 477.09,333.99 477.34,333.05 477.59,334.25 477.84,334.58 478.09,336.57 478.34,335.96 478.59,336.24 478.84,337.46 479.09,335.10 479.34,334.12 479.59,333.73 479.84,332.73 480.09,331.56 480.34,329.33 480.59,326.66 480.84,325.76 481.09,323.05 481.34,321.26 481.59,318.77 481.84,317.10 482.09,314.47 482.34,313.11 482.59,311.30 482.84,311.13 483.09,310.28 483.34,310.22 483.59,310.40 483.84,311.51 484.09,310.72 484.34,309.34 484.59,311.00 484.84,310.77 485.09,310.90 485.34,310.68 485.59,311.44 485.84,311.22 486.09,311.32 486.34,311.32 486.59,311.66 486.84,310.23 487.09,310.34 487.34,311.34 487.59,310.59 487.84,311.17 488.09,310.95 488.34,312.21 488.59,312.93 488.84,312.61 489.09,312.90 489.34,313.35 489.59,313.07 489.84,314.13 490.09,314.91 490.34,315.81 490.59,315.80 490.84,314.86 491.09,313.41 491.34,312.42 491.59,311.18 491.84,311.28 492.09,310.37 492.34,310.99 492.59,311.75 492.84,311.82 493.09,313.85 493.34,315.70 493.59,315.01 493.84,315.27 494.09,316.77 494.34,316.99 494.59,317.70 494.84,318.39 495.09,318.78 495.34,319.81 495.59,320.08 495.84,322.44 496.09,323.11 496.34,325.25 496.59,324.81 496.84,323.80 497.09,323.46 497.34,323.95 497.59,324.22 497.84,323.92 498.09,323.62 498.34,324.15 498.59,324.21 498.84,325.69 499.09,325.43 499.34,326.99 499.59,328.78 499.84,330.41 500.09,329.75 500.34,329.98 500.59,329.75 500.84,331.09 501.09,331.13 501.34,330.12 501.59,329.30 501.84,329.51 502.09,328.61 502.34,328.94 502.59,326.38 502.84,326.09 503.09,325.11 503.34,324.21 503.59,324.88 503.84,326.05 504.09,327.57 504.34,329.31 504.59,331.08 504.84,332.86 505.09,333.40 505.34,333.74 505.59,333.65 505.84,332.62 506.09,333.19 506.34,334.03 506.59,333.59 506.84,333.31 507.09,332.12 507.34,331.59 507.59,331.16 507.84,330.56 508.09,330.85 508.34,331.39 508.59,330.81 508.84,331.99 509.09,330.75 509.34,330.02 509.59,329.22 509.84,329.90 510.09,328.98 510.34,330.29 510.59,331.78 510.84,330.74 511.09,329.05 511.34,329.13 511.59,328.11 511.84,327.27 512.09,326.83 512.34,324.32 512.59,324.03 512.84,324.54 513.09,324.37 513.34,323.90 513.59,322.72 513.84,322.59 514.09,322.02 514.34,321.65 514.59,320.51 514.84,320.83 515.09,321.11 515.34,320.56 515.59,319.31 515.84,318.83 516.09,319.46 516.34,318.48 516.59,318.15 516.84,317.23 517.09,317.80 517.34,318.20 517.59,318.30 517.84,317.61 518.09,317.59 518.34,316.59 518.59,315.98 518.84,315.08 519.09,315.11 519.34,313.66 519.59,313.09 519.84,312.66 520.09,311.28 520.34,310.31 520.59,309.80 520.84,306.85 521.09,308.06 521.34,310.08 521.59,312.98 521.84,313.83 522.09,315.12 522.34,316.26 522.59,316.22 522.84,315.41 523.09,315.40 523.34,314.32 523.59,314.35 523.84,312.96 524.09,314.30 524.34,315.40 524.59,315.50 524.84,315.84 525.09,315.99 525.34,316.37 525.59,316.89 525.84,317.37 526.09,318.60 526.34,318.78 526.59,319.78 526.84,320.79 527.09,320.35 527.34,318.45 527.59,317.84 527.84,317.94 528.09,318.01 528.34,318.66 528.59,319.90 528.84,319.26 529.09,320.77 529.34,321.79 529.59,322.01 529.84,320.23 530.09,320.41 530.34,319.51 530.59,320.40 530.84,320.19 531.09,320.19 531.34,321.31 531.59,322.16 531.84,322.66 532.09,323.33 532.34,325.11 532.59,325.89 532.84,326.73 533.09,327.53 533.34,326.21 533.59,326.97 533.84,328.21 534.09,328.13 534.34,327.83 534.59,328.68 534.84,328.53 535.09,328.14 535.34,326.62 535.59,326.24 535.84,327.20 536.09,328.81 536.34,329.01 536.59,329.48 536.84,331.71 537.09,329.86 537.34,329.23 537.59,329.98 537.84,329.66 538.09,328.87 538.34,327.41 538.59,328.53 538.84,328.98 539.09,328.15 539.34,329.23 539.59,329.42 539.84,329.92 540.09,331.32 540.34,328.66 540.59,327.50 540.84,325.60 541.09,324.94 541.34,323.55 541.59,324.81 541.84,325.91 542.09,327.20 542.34,327.80 542.59,328.14 542.84,328.69 543.09,328.40 543.34,330.55 543.59,331.07 543.84,330.88 544.09,334.04 544.34,334.20 544.59,334.66 544.84,337.06 545.09,337.13 545.34,339.23 545.59,338.96 545.84,339.66 546.09,341.30 546.34,340.75 546.59,339.87 546.84,341.24 547.09,340.99 547.34,343.01 547.59,343.07 547.84,341.84 548.09,341.22 548.34,341.80 548.59,342.90 548.84,343.45 549.09,344.35 549.34,344.34 549.59,345.31 549.84,345.59 550.09,345.90 550.34,346.54 550.59,345.06 550.84,344.70 551.09,343.36 551.34,342.21 551.59,340.07 551.84,338.65 552.09,338.60 552.34,338.30 552.59,337.96 552.84,337.86 553.09,337.72 553.34,337.06 553.59,337.51 553.84,336.36 554.09,337.00 554.34,337.97 554.59,337.29 554.84,337.48 555.09,339.10 555.34,338.70 555.59,339.73 555.84,341.19 556.09,340.93 556.34,340.59 556.59,338.45 556.84,337.89 557.09,336.13 557.34,335.64 557.59,335.30 557.84,335.98 558.09,334.65 558.34,334.47 558.59,334.16 558.84,332.92 559.09,331.14 559.34,332.68 559.59,333.50 559.84,336.14 560.09,336.52 560.34,338.49 560.59,338.36 560.84,340.30 561.09,341.23 561.34,342.72 561.59,342.47 561.84,339.37 562.09,335.49 562.34,334.04 562.59,333.07 562.84,329.86 563.09,329.15 563.34,326.67 563.59,324.45 563.84,324.58 564.09,324.71 564.34,324.95 564.59,323.07 564.84,320.99 565.09,320.61 565.34,320.24 565.59,319.41 565.84,317.13 566.09,316.71 566.34,316.03 566.59,315.37 566.84,314.19 567.09,314.73 567.34,313.70 567.59,313.33 567.84,313.94 568.09,313.72 568.34,312.29 568.59,313.79 568.84,312.89 569.09,312.67 569.34,312.64 569.59,313.11 569.84,313.03 570.09,314.74 570.34,315.44 570.59,316.81 570.84,319.52 571.09,319.12 571.34,317.76 571.59,317.86 571.84,316.91 572.09,317.33 572.34,316.36 572.59,316.79 572.84,316.68 573.09,318.39 573.34,319.99 573.59,319.00 573.84,319.06 574.09,320.58 574.34,320.07 574.59,320.05 574.84,320.57 575.09,319.48 575.34,319.27 575.59,320.12 575.84,319.34 576.09,318.96 576.34,319.00 576.59,319.61 576.84,321.24 577.09,322.84 577.34,324.39 577.59,325.38 577.84,324.91 578.09,323.30 578.34,323.71 578.59,322.95 578.84,322.26 579.09,321.34 579.34,319.66 579.59,319.38 579.84,318.90 580.09,316.74 580.34,313.83 580.59,312.73 580.84,311.65 581.09,311.76 581.34,313.49 581.59,313.54 581.84,315.35 582.09,317.25 582.34,319.88 582.59,321.86 582.84,323.26 583.09,325.87 583.34,326.50 583.59,327.06 583.84,328.46 584.09,328.88 584.34,329.17 584.59,329.23 584.84,329.39 585.09,330.17 585.34,329.65 585.59,330.08 585.84,330.13 586.09,330.40 586.34,331.08 586.59,329.86 586.84,329.29 587.09,330.33 587.34,330.06 587.59,328.98 587.84,330.91 588.09,329.05 588.34,329.09 588.59,328.38 588.84,328.02 589.09,327.70 589.34,326.33 589.59,327.02 589.84,325.58 590.09,324.95 590.34,322.85 590.59,320.75 590.84,321.54 591.09,321.28 591.34,320.47 591.59,318.92 591.84,318.38 592.09,317.06 592.34,315.53 592.59,314.00 592.84,314.81 593.09,313.98 593.34,312.61 593.59,312.35 593.84,312.46 594.09,312.19 594.34,312.61 594.59,312.91 594.84,314.17 595.09,314.89 595.34,313.92 595.59,312.84 595.84,313.36 596.09,312.59 596.34,313.83 596.59,313.84 596.84,313.56 597.09,313.48 597.34,313.84 597.59,314.22 597.84,314.98 598.09,315.62 598.34,315.95 598.59,316.10 598.84,316.38 599.09,316.65 599.34,317.47 599.59,318.29 599.84,318.35 600.09,316.61 600.34,316.59 600.59,316.75 600.84,316.76 601.09,315.76 601.34,315.22 601.59,315.19 601.84,313.85 602.09,311.62 602.34,310.63 602.59,310.10 602.84,309.20 603.09,309.19 603.34,308.19 603.59,308.14 603.84,309.14 604.09,309.48 604.34,311.30 604.59,311.61 604.84,313.48 605.09,314.79 605.34,315.62 605.59,317.57 605.84,317.16 606.09,316.37 606.34,317.47 606.59,317.51 606.84,316.30 607.09,316.03 607.34,318.06 607.59,318.84 607.84,318.90 608.09,318.89 608.34,318.56 608.59,317.78 608.84,319.13 609.09,317.28 609.34,317.17 609.59,317.77 609.84,320.00 610.09,318.66 610.34,320.04 610.59,321.13 610.84,322.18 611.09,322.55 611.34,324.50 611.59,325.77 611.84,326.29 612.09,326.41 612.34,327.50 612.59,326.88 612.84,326.66 613.09,326.39 613.34,325.99 613.59,326.53 613.84,326.65 614.09,325.32 614.34,325.20 614.59,324.58 614.84,325.12 615.09,324.74 615.34,325.08 615.59,323.51 615.84,323.00 616.09,322.64 616.34,321.54 616.59,319.86 616.84,319.82 617.09,319.94 617.34,320.68 617.59,319.38 617.84,318.88 618.09,320.57 618.34,320.18 618.59,322.47 618.84,323.45 619.09,323.89 619.34,322.75 619.59,321.26 619.84,321.11 620.09,322.33 620.34,320.95 620.59,321.54 620.84,321.49 621.09,321.65 621.34,321.59 621.59,322.97 621.84,324.33 622.09,324.59 622.34,323.69 622.59,323.98 622.84,322.17 623.09,322.90 623.34,322.71 623.59,321.69 623.84,322.03 624.09,322.91 624.34,324.86 624.59,325.47 624.84,324.81 625.09,324.12 625.34,323.89 625.59,323.88 625.84,323.62 626.09,324.79 626.34,325.11 626.59,324.70 626.84,325.13 627.09,325.48 627.34,325.42 627.59,325.21 627.84,326.13 628.09,325.45 628.34,325.63 628.59,325.95 628.84,325.81 629.09,327.00 629.34,328.63 629.59,329.37 629.84,331.09 630.09,330.55 630.34,329.88 630.59,327.81 630.84,326.97 631.09,325.64 631.34,324.52 631.59,324.64 631.84,325.77 632.09,325.98 632.34,326.43 632.59,327.79 632.84,326.76 633.09,325.24 633.34,324.74 633.59,323.33 633.84,322.14 634.09,321.97 634.34,321.35 634.59,322.07 634.84,321.99 635.09,321.62 635.34,320.62 635.59,320.14 635.84,319.33 636.09,317.93 636.34,317.51 636.59,316.44 636.84,315.18 637.09,316.63 637.34,317.19 637.59,318.45 637.84,318.76 638.09,319.53 638.34,321.01 638.59,322.13 638.84,324.84 639.09,325.63 639.34,325.72 639.59,327.06 639.84,327.99 640.09,326.58 640.34,327.08 640.59,328.14 640.84,328.69 641.09,329.41 641.34,330.15 641.59,331.47 641.84,332.10 642.09,332.97 642.34,332.06 642.59,333.25 642.84,334.25 643.09,335.16 643.34,335.91 643.59,337.18 643.84,339.52 644.09,339.08 644.34,339.35 644.59,339.02 644.84,338.94 645.09,341.43 645.34,341.84 645.59,342.11 645.84,343.95 646.09,343.12 646.34,341.70 646.59,340.55 646.84,338.98 647.09,338.85 647.34,337.86 647.59,337.13 647.84,337.13 648.09,337.07 648.34,335.29 648.59,335.17 648.84,334.87 649.09,333.88 649.34,334.35 649.59,333.07 649.84,332.07 650.09,332.00 650.34,331.46 650.59,333.03 650.84,330.83 651.09,330.81 651.34,328.36 651.59,326.92 651.84,326.25 652.09,326.33 652.34,324.33 652.59,323.36 652.84,322.51 653.09,320.89 653.34,323.18 653.59,322.67 653.84,323.15 654.09,323.63 654.34,324.43 654.59,323.56 654.84,323.45 655.09,322.22 655.34,320.77 655.59,319.99 655.84,319.52 656.09,318.34 656.34,317.86 656.59,317.27 656.84,316.00 657.09,315.58 657.34,315.03 657.59,313.68 657.84,310.90 658.09,310.08 658.34,308.83 658.59,308.36 658.84,306.41 659.09,307.27 659.34,304.74 659.59,303.65 659.84,302.38 660.09,300.67 660.34,300.03 660.59,298.45 660.84,297.88 661.09,295.84 661.34,294.45 661.59,293.30 661.84,292.13 662.09,292.41 662.34,290.03 662.59,288.34 662.84,285.69 663.09,284.41 663.34,284.19 663.59,282.57 663.84,281.44 664.09,278.70 664.34,278.09 664.59,276.49 664.84,275.47 665.09,273.67 665.34,271.99 665.59,272.45 665.84,271.01 666.09,269.91 666.34,269.27 666.59,268.91 666.84,270.07 667.09,270.84 667.34,271.22 667.59,271.41 667.84,271.44 668.09,271.93 668.34,273.14 668.59,273.30 668.84,274.50 669.09,275.55 669.34,277.18 669.59,277.80 669.84,277.87 670.09,279.84 670.34,280.55 670.59,282.05 670.84,283.32 671.09,284.81 671.34,287.24 671.59,286.40 671.84,287.88 672.09,289.65 672.34,291.41 672.59,291.16 672.84,292.32 673.09,292.57 673.34,293.02 673.59,294.36 673.84,296.21 674.09,297.73 674.34,297.98 674.59,299.51 674.84,299.27 675.09,300.28 675.34,301.68 675.59,302.91 675.84,304.54 676.09,305.20 676.34,306.36 676.59,306.49 676.84,308.01 677.09,311.12 677.34,311.42 677.59,311.94 677.84,312.81 678.09,312.04 678.34,312.74 678.59,315.80 678.84,316.76 679.09,316.32 679.34,316.73 679.59,317.64 679.84,317.77 680.09,318.40 680.34,318.61 680.59,319.11 680.84,319.51 681.09,319.13 681.34,320.43 681.59,320.86 681.84,321.14 682.09,321.84 682.34,321.61 682.59,322.85 682.84,322.24 683.09,322.79 683.34,323.24 683.59,324.73 683.84,324.32 684.09,323.94 684.34,325.13 684.59,326.73 684.84,326.40 685.09,326.53 685.34,327.35 685.59,328.15 685.84,328.31 686.09,329.95 686.34,330.91 686.59,331.07 686.84,332.45 687.09,331.89 687.34,331.65 687.59,330.67 687.84,330.75 688.09,330.21 688.34,329.53 688.59,328.44 688.84,330.83 689.09,329.42 689.34,329.17 689.59,329.09 689.84,328.77 690.09,327.73 690.34,327.63 690.59,327.29 690.84,326.17 691.09,325.90 691.34,324.82 691.59,324.91 691.84,323.96 692.09,324.69 692.34,324.90 692.59,325.08 692.84,326.78 693.09,327.30 693.34,328.50 693.59,328.47 693.84,327.26 694.09,326.72 694.34,328.47 694.59,328.46 694.84,327.63 695.09,327.18 695.34,327.02 695.59,327.82 695.84,328.86 696.09,328.76 696.34,329.96 696.59,330.94 696.84,331.90 697.09,333.50 697.34,334.06 697.59,334.46 697.84,335.65 698.09,336.56 698.34,337.64 698.59,337.54 698.84,338.45 699.09,339.31 699.34,341.31 699.59,343.63 699.84,346.05 700.09,346.99 700.34,348.63 700.59,348.59 700.84,350.24 701.09,352.17 701.34,352.44 701.59,351.92 701.84,352.53 702.09,351.13 702.34,351.82 702.59,351.52 702.84,350.27 703.09,349.35 703.34,347.98 703.59,346.66 703.84,347.36 704.09,346.90 704.34,345.32 704.59,345.41 704.84,346.22 705.09,347.19 705.34,348.01 705.59,349.59 705.84,349.90 706.09,347.79 706.34,347.59 706.59,347.20 706.84,345.36 707.09,346.74 707.34,347.28 707.59,348.32 707.84,348.38 708.09,349.52 708.34,349.69 708.59,348.82 708.84,347.61 709.09,347.29 709.34,346.11 709.59,346.08 709.84,343.71 710.09,344.00 710.34,343.44 710.59,343.81 710.84,342.47 711.09,343.31 711.34,342.60 711.59,341.78 711.84,342.88 712.09,341.60 712.34,340.07 712.59,338.15 712.84,339.00 713.09,338.50 713.34,336.76 713.59,337.00 713.84,335.79 714.09,336.20 714.34,335.37 714.59,333.81 714.84,332.66 715.09,331.91 715.34,330.07 715.59,330.18 715.84,328.87 716.09,329.25 716.34,329.58 716.59,328.70 716.84,328.20 717.09,326.80 717.34,326.93 717.59,327.07 717.84,327.20 718.09,327.18 718.34,326.68 718.59,326.53 718.84,328.21 719.09,329.79 719.34,329.69 719.59,330.25 719.84,331.63 720.09,332.28 720.34,333.65 720.59,333.67 720.84,336.28 721.09,334.45 721.34,336.36 721.59,335.86 721.84,335.51 722.09,335.74 722.34,336.38 722.59,337.36 722.84,337.85 723.09,337.76 723.34,338.30 723.59,339.03 723.84,338.50 724.09,339.69 724.34,342.11 724.59,343.17 724.84,343.86 725.09,343.52 725.34,343.74 725.59,343.60 725.84,344.51 726.09,345.79 726.34,345.62 726.59,345.76 726.84,345.64 727.09,346.08 727.34,347.67 727.59,347.92 727.84,348.03 728.09,347.48 728.34,346.14 728.59,344.61 728.84,344.50 729.09,344.06 729.34,345.02 729.59,345.45 729.84,345.55 730.09,345.49 730.34,344.48 730.59,346.41 730.84,346.63 731.09,346.85 731.34,347.97 731.59,347.40 731.84,348.24 732.09,347.48 732.34,347.29 732.59,347.23 732.84,348.15 733.09,349.40 733.34,350.26 733.59,350.17 733.84,350.01 734.09,348.91 734.34,350.87 734.59,350.05 734.84,352.67 735.09,354.41 735.34,354.63 735.59,355.53 735.84,355.92 736.09,357.71 736.34,359.15 736.59,360.29 736.84,361.18 737.09,364.99 737.34,364.89 737.59,367.77 737.84,370.38 738.09,371.88 738.34,373.66 738.59,373.12 738.84,372.44 739.09,370.51 739.34,370.03 739.59,369.28 739.84,368.36 740.09,366.57 740.34,365.44 740.59,362.73 740.84,361.79 741.09,359.45 741.34,359.00 741.59,358.37 741.84,356.98 742.09,355.94 742.34,355.36 742.59,354.66 742.84,353.21 743.09,350.97 743.34,349.08 743.59,347.16 743.84,346.66 744.09,345.96 744.34,344.18 744.59,342.98 744.84,344.47 745.09,341.91 745.34,339.87 745.59,340.38 745.84,338.85 746.09,337.75 746.34,337.30 746.59,337.49 746.84,336.63 747.09,336.74 747.34,337.94 747.59,338.84 747.84,340.06 748.09,341.44 748.34,342.01 748.59,342.80 748.84,344.78 749.09,345.63 749.34,347.13 749.59,346.59 749.84,347.57 750.09,349.14 750.34,349.62 750.59,351.23 750.84,350.29 751.09,349.56 751.34,349.46 751.59,349.74 751.84,349.42 752.09,347.40 752.34,347.15 752.59,346.95 752.84,345.67 753.09,345.38 753.34,343.93 753.59,342.95 753.84,342.14 754.09,339.75 754.34,338.99 754.59,338.43 754.84,336.50 755.09,335.94 755.34,334.40 755.59,333.49 755.84,333.33 756.09,333.20 756.34,330.83 756.59,328.40 756.84,325.86 757.09,324.45 757.34,322.49 757.59,320.01 757.84,316.92 758.09,314.43 758.34,311.30 758.59,308.09 758.84,305.60 759.09,304.77 759.34,303.58 759.59,303.12 759.84,302.08 760.09,302.00 760.34,301.56 760.59,303.73 760.84,305.59 761.09,306.71 761.34,305.99 761.59,306.83 761.84,305.44 762.09,305.30 762.34,305.90 762.59,306.98 762.84,308.05 763.09,310.90 763.34,310.76 763.59,312.46 763.84,315.61 764.09,315.41 764.34,316.51 764.59,318.38 764.84,320.27 765.09,320.26 765.34,323.47 765.59,323.22 765.84,324.09 766.09,325.38 766.34,325.44 766.59,325.86 766.84,325.37 767.09,324.49 767.34,324.53 767.59,324.11 767.84,324.51 768.09,325.23 768.34,324.02 768.59,324.58 768.84,326.29 769.09,326.99 769.34,325.32 769.59,324.95 769.84,325.39 770.09,323.53 770.34,324.52 770.59,323.64 770.84,324.47 771.09,323.48 771.34,322.59 771.59,321.89 771.84,320.55 772.09,319.86 772.34,319.91 772.59,321.50 772.84,323.19 773.09,324.82 773.34,327.57 773.59,328.23 773.84,329.95 774.09,331.05 774.34,331.87 774.59,333.07 774.84,333.95 775.09,334.80 775.34,336.81 775.59,338.16 775.84,338.65 776.09,340.51 776.34,340.72 776.59,341.68 776.84,342.50 777.09,344.59 777.34,344.71 777.59,346.23 777.84,345.04 778.09,345.99 778.34,346.64 778.59,348.24 778.84,348.24 779.09,347.34 779.34,346.72 779.59,348.01 779.84,349.00 780.09,352.01 780.34,353.49 780.59,353.97 780.84,354.92 781.09,356.97 781.34,359.73 781.59,358.68 781.84,359.22 782.09,360.05 782.34,360.61 782.59,362.31 782.84,363.94 783.09,365.58 783.34,366.87 783.59,366.88 783.84,367.75 784.09,368.00 784.34,368.08 784.59,368.50 784.84,368.70 785.09,369.75 785.34,368.67 785.59,368.46 785.84,369.26 786.09,368.01 786.34,369.35 786.59,368.70 786.84,368.67 787.09,368.70 787.34,368.62 787.59,369.33 787.84,369.88 788.09,370.12 788.34,369.25 788.59,368.73 788.84,366.79 789.09,366.25 789.34,366.46 789.59,364.94 789.84,365.68 790.09,366.96 790.34,365.57 790.59,365.60 790.84,366.19 791.09,365.82 791.34,365.24 791.59,364.73 791.84,364.91 792.09,363.86 792.34,362.36 792.59,362.15 792.84,362.72 793.09,360.35 793.34,360.47 793.59,358.92 793.84,358.72 794.09,357.95 794.34,358.12 794.59,358.29 794.84,357.16 795.09,355.54 795.34,354.47 795.59,354.66 795.84,354.22 796.09,354.51 796.34,353.89 796.59,353.99 796.84,353.38 797.09,355.12 797.34,353.47 797.59,353.33 797.84,349.59 798.09,348.99 798.34,348.74 798.59,347.47 798.84,345.16 799.09,343.35 799.34,340.93 799.59,338.57 799.84,337.00 800.09,336.21 800.34,333.78 800.59,331.33 800.84,329.37 801.09,326.41 801.34,324.50 801.59,322.02 801.84,319.63 802.09,318.40 802.34,316.23 802.59,315.11 802.84,311.76 803.09,310.25 803.34,309.76 803.59,309.01 803.84,308.23 804.09,307.10 804.34,307.03 804.59,306.10 804.84,305.50 805.09,303.26 805.34,302.27 805.59,301.62 805.84,301.56 806.09,301.32 806.34,300.80 806.59,299.94 806.84,300.49 807.09,300.96 807.34,299.68 807.59,298.32 807.84,299.77 808.09,300.46 808.34,301.62 808.59,302.12 808.84,301.58 809.09,300.35 809.34,300.78 809.59,302.62 809.84,303.01 810.09,304.64 810.34,305.87 810.59,306.59 810.84,304.37 811.09,303.16 811.34,301.91 811.59,302.42 811.84,302.15 812.09,301.56 812.34,301.16 812.59,302.72 812.84,301.57 813.09,300.37 813.34,298.44 813.59,298.36 813.84,298.78 814.09,298.62 814.34,297.74 814.59,295.28 814.84,293.85 815.09,295.02 815.34,293.61 815.59,293.96 815.84,292.98 816.09,291.19 816.34,291.17 816.59,291.30 816.84,293.18 817.09,294.38 817.34,295.73 817.59,297.83 817.84,297.68 818.09,298.43 818.34,300.60 818.59,301.00 818.84,301.04 819.09,301.67 819.34,302.08 819.59,303.37 819.84,304.61 820.09,306.00 820.34,306.02 820.59,307.44 820.84,308.95 821.09,310.11 821.34,309.83 821.59,312.03 821.84,312.47 822.09,311.23 822.34,312.53 822.59,312.80 822.84,312.62 823.09,313.90 823.34,314.73 823.59,315.23 823.84,315.62 824.09,316.00 824.34,316.46 824.59,317.92 824.84,317.04 825.09,318.17 825.34,317.00 825.59,316.78 825.84,317.34 826.09,316.83 826.34,318.28 826.59,319.10 826.84,319.48 827.09,320.36 827.34,321.12 827.59,322.10 827.84,321.14 828.09,321.05 828.34,320.80 828.59,322.60 828.84,323.88 829.09,325.24 829.34,325.59 829.59,325.21 829.84,325.52 830.09,326.80 830.34,328.02 830.59,329.34 830.84,328.50 831.09,328.23 831.34,329.37 831.59,330.22 831.84,331.11 832.09,332.26 832.34,331.74 832.59,331.63 832.84,331.96 833.09,333.03 833.34,334.09 833.59,334.57 833.84,335.74 834.09,335.46 834.34,334.36 834.59,335.23 834.84,334.55 835.09,334.34 835.34,331.65 835.59,331.77 835.84,329.11 836.09,326.77 836.34,324.01 836.59,320.09 836.84,319.55 837.09,317.16 837.34,316.11 837.59,314.28 837.84,313.19 838.09,312.48 838.34,310.67 838.59,311.26 838.84,310.46 839.09,308.40 839.34,308.46 839.59,308.51 839.84,306.48 840.09,305.87 840.34,306.69 840.59,308.00 840.84,308.15 841.09,309.37 841.34,309.70 841.59,310.56 841.84,311.31 842.09,311.12 842.34,312.67 842.59,313.12 842.84,313.61 843.09,312.65 843.34,312.48 843.59,312.71 843.84,312.87 844.09,311.57 844.34,311.44 844.59,311.99 844.84,311.74 845.09,311.64 845.34,310.23 845.59,308.78 845.84,308.92 846.09,310.93 846.34,309.30 846.59,310.12 846.84,312.57 847.09,313.37 847.34,314.16 847.59,314.14 847.84,312.62 848.09,311.07 848.34,309.94 848.59,309.88 848.84,309.02 849.09,308.88 849.34,307.39 849.59,305.34 849.84,303.21 850.09,303.13 850.34,303.14 850.59,301.73 850.84,300.43 851.09,299.02 851.34,295.64 851.59,294.76 851.84,295.82 852.09,294.10 852.34,294.06 852.59,293.22 852.84,294.39 853.09,294.48 853.34,294.93 853.59,295.93 853.84,297.37 854.09,298.92 854.34,299.37 854.59,302.35 854.84,304.18 855.09,308.00 855.34,309.95 855.59,309.69 855.84,312.08 856.09,312.73 856.34,313.98 856.59,316.71 856.84,316.90 857.09,318.23 857.34,319.88 857.59,321.27 857.84,323.47 858.09,324.71 858.34,326.43 858.59,326.54 858.84,328.51 859.09,328.39 859.34,328.47 859.59,328.89 859.84,328.62 860.09,326.25 860.34,325.25 860.59,322.48 860.84,320.73 861.09,319.87 861.34,318.23 861.59,317.95 861.84,317.61 862.09,315.31 862.34,315.46 862.59,314.40 862.84,314.49 863.09,313.44 863.34,313.63 863.59,313.26 863.84,312.52 864.09,309.05 864.34,309.23 864.59,308.03 864.84,307.52 865.09,305.84 865.34,303.88 865.59,301.63 865.84,301.75 866.09,301.84 866.34,300.13 866.59,299.71 866.84,298.57 867.09,299.63 867.34,301.21 867.59,300.48 867.84,299.46 868.09,299.29 868.34,300.97 868.59,303.49 868.84,306.11 869.09,306.60 869.34,308.51 869.59,310.76 869.84,312.45 870.09,313.24 870.34,312.88 870.59,313.15 870.84,315.16 871.09,317.21 871.34,318.28 871.59,315.94 871.84,315.41 872.09,315.44 872.34,313.45 872.59,312.19 872.84,311.05 873.09,309.59 873.34,308.91 873.59,308.98 873.84,309.52 874.09,308.09 874.34,308.76 874.59,309.52 874.84,309.16 875.09,308.45 875.34,309.60 875.59,309.35 875.84,310.64 876.09,310.94 876.34,309.48 876.59,309.37 876.84,308.34 877.09,309.79 877.34,307.82 877.59,307.69 877.84,306.41 878.09,304.90 878.34,304.07 878.59,306.80 878.84,307.19 879.09,308.89 879.34,309.86 879.59,311.56 879.84,312.82 880.09,314.56 880.34,317.04 880.59,317.68 880.84,319.57 881.09,321.34 881.34,323.64 881.59,326.17 881.84,324.82 882.09,323.95 882.34,324.24 882.59,324.19 882.84,322.65 883.09,322.32 883.34,322.86 883.59,322.49 883.84,323.28 884.09,323.02 884.34,323.30 884.59,323.26 884.84,323.29 885.09,323.09 885.34,323.88 885.59,324.70 885.84,325.55 886.09,324.73 886.34,322.36 886.59,321.25 886.84,320.12 887.09,319.50 887.34,317.50 887.59,316.49 887.84,315.10 888.09,314.73 888.34,313.37 888.59,311.63 888.84,310.70 889.09,308.91 889.34,309.93 889.59,308.26 889.84,309.31 890.09,308.74 890.34,308.17 890.59,306.72 890.84,308.71 891.09,308.60 891.34,311.77 891.59,312.28 891.84,312.09 892.09,313.17 892.34,311.90 892.59,312.50 892.84,312.06 893.09,312.06 893.34,311.67 893.59,311.04 893.84,310.23 894.09,308.97 894.34,308.87 894.59,310.00 894.84,309.56 895.09,308.54 895.34,305.51 895.59,304.22 895.84,304.76 896.09,303.61 896.34,303.78 896.59,303.63 896.84,305.28 897.09,306.50 897.34,306.01 897.59,305.38 897.84,303.16 898.09,305.11 898.34,303.78 898.59,302.32 898.84,301.26 899.09,300.26 899.34,296.57 899.59,296.25 899.84,295.55 900.09,295.11 900.34,293.71 900.59,291.57 900.84,290.77 901.09,289.71 901.34,290.99 901.59,289.45 901.84,288.76 902.09,290.09 902.34,290.85 902.59,291.99 902.84,292.89 903.09,293.64 903.34,295.41 903.59,295.94 903.84,296.88 904.09,297.23 904.34,297.82 904.59,299.29 904.84,300.58 905.09,301.45 905.34,301.08 905.59,301.66 905.84,303.26 906.09,303.97 906.34,304.56 906.59,305.40 906.84,305.18 907.09,305.53 907.34,307.77 907.59,308.85 907.84,308.83 908.09,309.20 908.34,309.59 908.59,309.23 908.84,309.83 909.09,309.70 909.34,311.02 909.59,311.57 909.84,311.97 910.09,311.76 910.34,312.03 910.59,310.85 910.84,309.49 911.09,309.67 911.34,308.51 911.59,308.54 911.84,308.87 912.09,309.78 912.34,310.50 912.59,311.83 912.84,311.81 913.09,311.75 913.34,310.16 913.59,311.96 913.84,311.32 914.09,311.33 914.34,312.03 914.59,312.08 914.84,311.59 915.09,312.85 915.34,314.90 915.59,314.55"/>
<polyline stroke="#ff6850" points="146.87,455.16 147.12,452.73 147.37,449.78 147.62,446.33 147.87,443.76 148.12,442.37 148.37,442.01 148.62,439.92 148.87,439.89 149.12,440.68 149.37,441.18 149.62,441.84 149.87,440.77 150.12,439.76 150.37,436.73 150.62,434.75 150.87,433.32 151.12,430.57 151.37,428.36 151.62,426.63 151.87,424.29 152.12,422.90 152.37,421.52 152.62,419.45 152.87,418.40 153.12,418.35 153.37,417.86 153.62,416.72 153.87,414.76 154.12,415.14 154.37,413.55 154.62,412.25 154.87,410.94 155.12,410.61 155.37,408.48 155.62,408.44 155.87,407.59 156.12,406.08 156.37,405.68 156.62,405.19 156.87,404.66 157.12,403.04 157.37,403.02 157.62,402.83 157.87,402.56 158.12,403.07 158.37,403.28 158.62,403.23 158.87,402.89 159.12,403.24 159.37,403.92 159.62,401.53 159.87,401.40 160.12,402.73 160.37,403.92 160.62,403.65 160.87,403.94 161.12,402.24 161.37,402.21 161.62,402.57 161.87,402.94 162.12,402.53 162.37,401.88 162.62,401.83 162.87,400.86 163.12,399.54 163.37,399.14 163.62,399.28 163.87,398.76 164.12,397.41 164.37,397.10 164.62,396.72 164.87,396.40 165.12,396.73 165.37,395.05 165.62,394.73 165.87,395.37 166.12,398.48 166.37,403.57 166.62,407.58 166.87,409.23 167.12,410.85 167.37,412.30 167.62,415.78 167.87,417.70 168.12,419.72 168.37,421.20 168.62,422.43 168.87,422.85 169.12,422.75 169.37,421.99 169.62,422.13 169.87,422.22 170.12,422.29 170.37,422.90 170.62,424.16 170.87,425.98 171.12,427.85 171.37,428.26 171.62,429.36 171.87,429.80 172.12,430.79 172.37,432.67 172.62,433.52 172.87,433.64 173.12,434.04 173.37,433.85 173.62,434.48 173.87,433.93 174.12,434.63 174.37,434.96 174.62,434.65 174.87,435.03 175.12,435.20 175.37,435.01 175.62,433.76 175.87,432.98 176.12,434.47 176.37,435.51 176.62,436.44 176.87,437.14 177.12,435.20 177.37,434.10 177.62,431.62 177.87,430.17 178.12,428.16 178.37,427.90 178.62,426.10 178.87,423.37 179.12,423.12 179.37,421.94 179.62,421.74 179.87,421.25 180.12,419.20 180.37,417.29 180.62,416.90 180.87,415.83 181.12,415.23 181.37,413.03 181.62,413.30 181.87,412.84 182.12,410.17 182.37,408.82 182.62,408.07 182.87,407.86 183.12,407.19 183.37,407.13 183.62,405.76 183.87,405.22 184.12,405.33 184.37,403.08 184.62,401.66 184.87,398.64 185.12,395.62 185.37,393.85 185.62,390.94 185.87,387.90 186.12,384.54 186.37,382.27 186.62,380.48 186.87,376.37 187.12,372.61 187.37,370.21 187.62,367.56 187.87,365.86 188.12,363.01 188.37,361.59 188.62,360.86 188.87,361.99 189.12,361.11 189.37,359.81 189.62,359.09 189.87,360.40 190.12,361.33 190.37,362.88 190.62,364.20 190.87,364.97 191.12,363.53 191.37,361.89 191.62,361.85 191.87,358.81 192.12,358.22 192.37,358.32 192.62,356.73 192.87,355.13 193.12,354.53 193.37,353.76 193.62,353.24 193.87,352.87 194.12,353.67 194.37,354.39 194.62,355.71 194.87,355.12 195.12,356.47 195.37,356.11 195.62,357.07 195.87,358.79 196.12,357.11 196.37,357.35 196.62,356.53 196.87,354.83 197.12,354.23 197.37,355.01 197.62,353.93 197.87,353.00 198.12,353.30 198.37,354.00 198.62,353.21 198.87,352.76 199.12,353.12 199.37,353.45 199.62,355.01 199.87,354.72 200.12,354.91 200.37,356.71 200.62,356.76 200.87,357.99 201.12,359.07 201.37,360.71 201.62,360.92 201.87,362.08 202.12,361.03 202.37,362.12 202.62,363.09 202.87,364.27 203.12,365.62 203.37,365.50 203.62,367.09 203.87,370.20 204.12,370.35 204.37,372.41 204.62,373.24 204.87,374.26 205.12,374.91 205.37,376.79 205.62,377.03 205.87,378.73 206.12,380.03 206.37,379.04 206.62,380.90 206.87,381.88 207.12,384.11 207.37,385.27 207.62,386.14 207.87,385.98 208.12,385.61 208.37,385.40 208.62,385.00 208.87,384.89 209.12,385.65 209.37,388.12 209.62,391.24 209.87,391.64 210.12,393.00 210.37,393.74 210.62,393.62 210.87,392.47 211.12,393.18 211.37,393.53 211.62,395.12 211.87,396.67 212.12,396.94 212.37,398.48 212.62,399.06 212.87,399.91 213.12,402.77 213.37,401.86 213.62,401.84 213.87,402.96 214.12,403.94 214.37,404.52 214.62,406.03 214.87,405.42 215.12,407.41 215.37,409.98 215.62,411.54 215.87,412.09 216.12,414.16 216.37,416.03 216.62,416.75 216.87,418.62 217.12,419.90 217.37,421.04 217.62,420.29 217.87,422.21 218.12,422.38 218.37,424.50 218.62,424.89 218.87,424.55 219.12,424.65 219.37,427.81 219.62,428.42 219.87,429.18 220.12,429.94 220.37,429.30 220.62,429.61 220.87,429.62 221.12,429.40 221.37,428.99 221.62,428.52 221.87,426.90 222.12,427.05 222.37,426.55 222.62,427.06 222.87,425.70 223.12,424.58 223.37,426.12 223.62,425.71 223.87,425.88 224.12,425.48 224.37,423.65 224.62,422.81 224.87,419.21 225.12,416.89 225.37,416.73 225.62,420.87 225.87,424.88 226.12,428.75 226.37,431.75 226.62,435.09 226.87,437.91 227.12,440.35 227.37,442.64 227.62,446.05 227.87,448.62 228.12,450.67 228.37,452.51 228.62,456.15 228.87,458.10 229.12,458.65 229.37,457.55 229.62,457.23 229.87,455.27 230.12,455.02 230.37,455.12 230.62,452.44 230.87,454.64 231.12,455.62 231.37,455.94 231.62,456.68 231.87,455.81 232.12,455.21 232.37,453.03 232.62,451.46 232.87,450.94 233.12,450.45 233.37,450.59 233.62,449.49 233.87,449.57 234.12,448.51 234.37,447.68 234.62,447.21 234.87,447.47 235.12,446.93 235.37,446.75 235.62,443.94 235.87,444.34 236.12,444.50 236.37,442.59 236.62,441.99 236.87,442.78 237.12,442.62 237.37,442.07 237.62,441.76 237.87,440.51 238.12,440.30 238.37,440.96 238.62,441.40 238.87,443.67 239.12,443.45 239.37,444.32 239.62,443.94 239.87,443.03 240.12,441.56 240.37,441.14 240.62,440.91 240.87,439.75 241.12,439.36 241.37,439.44 241.62,441.03 241.87,441.43 242.12,443.39 242.37,445.55 242.62,447.32 242.87,448.51 243.12,451.03 243.37,454.31 243.62,452.73 243.87,450.80 244.12,448.09 244.37,446.46 244.62,443.06 244.87,440.10 245.12,437.79 245.37,433.48 245.62,433.12 245.87,432.39 246.12,430.39 246.37,428.28 246.62,425.79 246.87,425.03 247.12,422.02 247.37,424.24 247.62,427.39 247.87,429.50 248.12,430.31 248.37,431.63 248.62,432.35 248.87,435.06 249.12,435.53 249.37,438.89 249.62,440.54 249.87,440.02 250.12,438.90 250.37,437.76 250.62,436.19 250.87,433.51 251.12,435.09 251.37,438.49 251.62,440.07 251.87,442.56 252.12,444.45 252.37,442.36 252.62,440.31 252.87,437.72 253.12,435.07 253.37,433.24 253.62,433.58 253.87,434.58 254.12,436.76 254.37,436.40 254.62,438.65 254.87,437.78 255.12,435.07 255.37,434.04 255.62,433.54 255.87,430.79 256.12,429.85 256.37,428.58 256.62,428.05 256.87,429.83 257.12,429.48 257.37,429.85 257.62,432.02 257.87,433.30 258.12,434.34 258.37,435.01 258.62,435.81 258.87,437.00 259.12,438.57 259.37,439.00 259.62,438.58 259.87,439.54 260.12,440.71 260.37,442.40 260.62,444.22 260.87,445.23 261.12,442.99 261.37,439.61 261.62,437.34 261.87,436.09 262.12,433.91 262.37,431.00 262.62,428.91 262.87,427.82 263.12,426.35 263.37,424.67 263.62,425.11 263.87,427.12 264.12,429.27 264.37,428.48 264.62,429.44 264.87,431.93 265.12,433.30 265.37,436.29 265.62,436.74 265.87,439.17 266.12,441.70 266.37,444.33 266.62,449.12 266.87,452.45 267.12,453.22 267.37,450.42 267.62,447.90 267.87,443.23 268.12,440.47 268.37,439.57 268.62,440.46 268.87,442.56 269.12,444.01 269.37,446.60 269.62,445.67 269.87,442.74 270.12,442.70 270.37,442.31 270.62,441.86 270.87,440.84 271.12,442.40 271.37,444.73 271.62,447.23 271.87,447.43 272.12,450.49 272.37,450.93 272.62,450.04 272.87,450.25 273.12,449.95 273.37,450.34 273.62,454.26 273.87,456.38 274.12,456.72 274.37,457.62 274.62,459.14 274.87,459.83 275.12,459.60 275.37,460.74 275.62,463.00 275.87,464.26 276.12,464.31 276.37,467.68 276.62,470.20 276.87,471.99 277.12,473.01 277.37,469.86 277.62,468.09 277.87,466.43 278.12,464.49 278.37,464.05 278.62,462.52 278.87,462.46 279.12,460.09 279.37,460.74 279.62,461.38 279.87,460.36 280.12,460.49 280.37,460.74 280.62,459.82 280.87,459.28 281.12,459.48 281.37,458.91 281.62,459.85 281.87,460.44 282.12,461.49 282.37,462.20 282.62,463.29 282.87,465.77 283.12,466.89 283.37,469.25 283.62,469.95 283.87,470.83 284.12,468.21 284.37,463.17 284.62,459.53 284.87,454.72 285.12,449.66 285.37,445.56 285.62,441.75 285.87,437.62 286.12,433.58 286.37,430.23 286.62,425.97 286.87,423.11 287.12,418.95 287.37,417.64 287.62,415.92 287.87,414.08 288.12,412.40 288.37,410.45 288.62,409.32 288.87,407.63 289.12,407.16 289.37,406.82 289.62,406.65 289.87,404.89 290.12,404.54 290.37,404.27 290.62,403.82 290.87,404.20 291.12,403.21 291.37,405.80 291.62,405.36 291.87,404.58 292.12,403.22 292.37,402.01 292.62,399.43 292.87,395.52 293.12,392.93 293.37,392.66 293.62,392.02 293.87,391.32 294.12,390.13 294.37,389.38 294.62,389.06 294.87,386.91 295.12,386.28 295.37,386.73 295.62,385.63 295.87,386.22 296.12,385.11 296.37,383.47 296.62,382.72 296.87,383.55 297.12,382.01 297.37,379.93 297.62,377.59 297.87,377.31 298.12,377.83 298.37,378.39 298.62,377.18 298.87,378.21 299.12,378.65 299.37,378.64 299.62,379.93 299.87,380.67 300.12,379.82 300.37,380.18 300.62,378.98 300.87,378.58 301.12,379.78 301.37,380.26 301.62,381.89 301.87,381.66 302.12,383.40 302.37,384.87 302.62,385.71 302.87,385.81 303.12,384.59 303.37,384.68 303.62,385.23 303.87,385.39 304.12,384.67 304.37,384.93 304.62,384.06 304.87,383.70 305.12,383.75 305.37,384.34 305.62,384.00 305.87,384.41 306.12,383.86 306.37,381.77 306.62,380.11 306.87,379.82 307.12,378.19 307.37,375.99 307.62,375.62 307.87,373.80 308.12,371.68 308.37,369.98 308.62,368.14 308.87,367.34 309.12,368.78 309.37,369.64 309.62,370.80 309.87,371.03 310.12,371.91 310.37,371.56 310.62,370.01 310.87,369.04 311.12,368.32 311.37,367.97 311.62,367.36 311.87,367.57 312.12,366.16 312.37,366.18 312.62,366.64 312.87,366.90 313.12,368.81 313.37,369.69 313.62,368.33 313.87,368.30 314.12,366.59 314.37,367.22 314.62,366.02 314.87,364.92 315.12,365.02 315.37,365.20 315.62,363.63 315.87,364.11 316.12,365.05 316.37,364.14 316.62,362.58 316.87,363.15 317.12,362.47 317.37,362.03 317.62,360.88 317.87,360.20 318.12,358.90 318.37,359.03 318.62,358.74 318.87,358.68 319.12,357.55 319.37,356.75 319.62,355.54 319.87,355.10 320.12,354.03 320.37,354.55 320.62,353.88 320.87,353.79 321.12,352.38 321.37,351.95 321.62,351.96 321.87,351.11 322.12,352.30 322.37,354.63 322.62,355.78 322.87,358.05 323.12,359.14 323.37,361.78 323.62,361.38 323.87,360.85 324.12,360.13 324.37,360.28 324.62,360.40 324.87,360.91 325.12,360.19 325.37,358.83 325.62,357.27 325.87,356.05 326.12,355.37 326.37,354.83 326.62,355.14 326.87,353.35 327.12,351.11 327.37,350.27 327.62,350.56 327.87,349.70 328.12,349.67 328.37,349.25 328.62,348.26 328.87,347.67 329.12,346.96 329.37,346.84 329.62,344.66 329.87,343.92 330.12,344.24 330.37,343.69 330.62,343.53 330.87,343.68 331.12,343.39 331.37,342.52 331.62,340.44 331.87,340.01 332.12,341.21 332.37,342.10 332.62,342.86 332.87,345.13 333.12,345.77 333.37,346.19 333.62,347.53 333.87,346.93 334.12,346.82 334.37,348.09 334.62,346.78 334.87,347.95 335.12,348.95 335.37,350.24 335.62,349.53 335.87,349.73 336.12,350.52 336.37,352.10 336.62,352.82 336.87,351.49 337.12,351.38 337.37,352.74 337.62,353.35 337.87,352.80 338.12,353.68 338.37,353.51 338.62,354.95 338.87,355.41 339.12,357.43 339.37,357.28 339.62,356.35 339.87,358.77 340.12,360.65 340.37,361.30 340.62,360.42 340.87,360.48 341.12,359.74 341.37,358.73 341.62,356.90 341.87,357.37 342.12,358.77 342.37,361.38 342.62,362.76 342.87,364.87 343.12,365.35 343.37,364.99 343.62,364.40 343.87,362.09 344.12,360.32 344.37,357.88 344.62,360.05 344.87,363.26 345.12,365.32 345.37,368.50 345.62,371.58 345.87,374.94 346.12,379.12 346.37,382.75 346.62,386.56 346.87,388.36 347.12,392.18 347.37,394.26 347.62,396.13 347.87,396.38 348.12,396.40 348.37,396.38 348.62,398.32 348.87,400.15 349.12,399.66 349.37,399.47 349.62,401.01 349.87,401.21 350.12,403.66 350.37,404.14 350.62,405.71 350.87,406.03 351.12,408.19 351.37,410.32 351.62,412.86 351.87,414.39 352.12,417.19 352.37,418.15 352.62,419.94 352.87,422.36 353.12,422.40 353.37,424.22 353.62,423.92 353.87,422.29 354.12,420.18 354.37,418.64 354.62,417.16 354.87,416.18 355.12,415.21 355.37,415.66 355.62,416.08 355.87,415.63 356.12,416.96 356.37,415.77 356.62,415.00 356.87,412.97 357.12,411.38 357.37,410.21 357.62,410.34 357.87,410.68 358.12,408.83 358.37,407.95 358.62,406.08 358.87,406.78 359.12,406.48 359.37,405.95 359.62,404.45 359.87,405.23 360.12,405.96 360.37,406.65 360.62,408.36 360.87,409.01 361.12,409.44 361.37,409.60 361.62,410.17 361.87,411.25 362.12,410.64 362.37,411.80 362.62,410.51 362.87,411.82 363.12,411.66 363.37,411.98 363.62,412.83 363.87,413.23 364.12,414.60 364.37,413.09 364.62,412.57 364.87,410.98 365.12,408.95 365.37,405.16 365.62,404.15 365.87,402.24 366.12,399.73 366.37,397.72 366.62,396.30 366.87,394.74 367.12,395.05 367.37,394.22 367.62,396.26 367.87,396.90 368.12,398.53 368.37,398.85 368.62,401.14 368.87,399.07 369.12,398.06 369.37,394.89 369.62,393.49 369.87,392.83 370.12,391.99 370.37,390.64 370.62,387.79 370.87,384.03 371.12,381.97 371.37,381.77 371.62,380.81 371.87,378.93 372.12,377.96 372.37,376.79 372.62,375.01 372.87,372.27 373.12,370.75 373.37,369.74 373.62,369.02 373.87,366.78 374.12,365.19 374.37,364.13 374.62,362.48 374.87,363.14 375.12,362.47 375.37,360.41 375.62,359.37 375.87,358.73 376.12,359.57 376.37,358.56 376.62,358.96 376.87,357.16 377.12,358.89 377.37,360.50 377.62,360.61 377.87,361.18 378.12,361.78 378.37,363.46 378.62,365.80 378.87,366.11 379.12,365.96 379.37,367.27 379.62,370.38 379.87,368.33 380.12,367.43 380.37,366.59 380.62,366.23 380.87,365.09 381.12,364.90 381.37,366.73 381.62,368.61 381.87,369.74 382.12,370.22 382.37,370.87 382.62,371.26 382.87,370.64 383.12,369.88 383.37,368.56 383.62,368.85 383.87,367.63 384.12,370.77 384.37,372.11 384.62,374.76 384.87,376.29 385.12,376.70 385.37,378.16 385.62,378.85 385.87,381.68 386.12,381.61 386.37,384.24 386.62,384.94 386.87,384.53 387.12,383.96 387.37,382.49 387.62,381.93 387.87,381.05 388.12,380.96 388.37,382.48 388.62,381.89 388.87,383.44 389.12,384.27 389.37,383.92 389.62,382.41 389.87,380.74 390.12,377.44 390.37,374.53 390.62,371.36 390.87,370.57 391.12,369.90 391.37,370.42 391.62,369.70 391.87,369.52 392.12,371.50 392.37,373.01 392.62,374.91 392.87,377.22 393.12,379.76 393.37,382.27 393.62,385.59 393.87,387.26 394.12,389.32 394.37,390.97 394.62,392.81 394.87,394.58 395.12,396.67 395.37,399.03 395.62,399.64 395.87,400.78 396.12,403.55 396.37,405.20 396.62,405.08 396.87,407.12 397.12,407.57 397.37,409.38 397.62,410.40 397.87,410.76 398.12,411.08 398.37,413.01 398.62,414.72 398.87,414.31 399.12,412.45 399.37,410.80 399.62,410.67 399.87,410.11 400.12,409.12 400.37,408.77 400.62,412.43 400.87,415.18 401.12,418.37 401.37,420.35 401.62,421.49 401.87,419.23 402.12,417.07 402.37,415.76 402.62,412.61 402.87,409.99 403.12,408.95 403.37,409.85 403.62,411.14 403.87,410.80 404.12,412.08 404.37,412.93 404.62,412.18 404.87,412.47 405.12,411.49 405.37,410.72 405.62,409.10 405.87,408.10 406.12,408.69 406.37,408.31 406.62,409.79 406.87,410.53 407.12,410.66 407.37,410.56 407.62,410.21 407.87,409.29 408.12,408.47 408.37,407.68 408.62,408.70 408.87,411.18 409.12,412.23 409.37,414.05 409.62,414.87 409.87,415.85 410.12,416.17 410.37,415.65 410.62,417.86 410.87,420.05 411.12,420.81 411.37,420.66 411.62,420.17 411.87,422.29 412.12,421.67 412.37,422.49 412.62,424.65 412.87,422.95 413.12,419.53 413.37,417.60 413.62,415.21 413.87,412.28 414.12,409.26 414.37,406.88 414.62,406.22 414.87,402.95 415.12,400.31 415.37,397.69 415.62,397.54 415.87,396.89 416.12,394.12 416.37,392.05 416.62,393.32 416.87,392.57 417.12,390.79 417.37,390.69 417.62,388.87 417.87,388.11 418.12,387.39 418.37,388.84 418.62,390.76 418.87,390.95 419.12,391.71 419.37,393.79 419.62,393.20 419.87,390.34 420.12,387.56 420.37,385.00 420.62,383.17 420.87,379.86 421.12,377.08 421.37,377.33 421.62,376.10 421.87,373.58 422.12,371.34 422.37,370.58 422.62,370.32 422.87,369.75 423.12,369.72 423.37,369.46 423.62,368.81 423.87,369.89 424.12,371.99 424.37,373.89 424.62,373.71 424.87,376.00 425.12,374.83 425.37,372.12 425.62,370.23 425.87,366.79 426.12,364.23 426.37,361.89 426.62,361.69 426.87,361.64 427.12,362.10 427.37,363.87 427.62,364.00 427.87,364.19 428.12,365.00 428.37,366.87 428.62,367.93 428.87,368.82 429.12,369.82 429.37,370.72 429.62,370.46 429.87,371.03 430.12,371.70 430.37,372.19 430.62,372.01 430.87,372.63 431.12,374.11 431.37,374.96 431.62,376.05 431.87,377.32 432.12,376.22 432.37,375.21 432.62,375.00 432.87,374.96 433.12,374.00 433.37,374.46 433.62,374.21 433.87,375.13 434.12,376.69 434.37,378.13 434.62,378.90 434.87,378.15 435.12,378.44 435.37,375.55 435.62,374.30 435.87,374.81 436.12,374.98 436.37,373.98 436.62,375.71 436.87,376.25 437.12,377.37 437.37,376.39 437.62,375.28 437.87,373.32 438.12,372.63 438.37,370.06 438.62,367.04 438.87,364.95 439.12,364.67 439.37,363.70 439.62,362.66 439.87,362.81 440.12,363.74 440.37,366.25 440.62,369.68 440.87,372.90 441.12,375.38 441.37,378.49 441.62,379.67 441.87,382.21 442.12,385.88 442.37,388.62 442.62,389.53 442.87,391.45 443.12,392.34 443.37,395.21 443.62,398.07 443.87,399.79 444.12,402.29 444.37,405.89 444.62,410.13 444.87,415.00 445.12,417.17 445.37,421.53 445.62,428.96 445.87,435.22 446.12,441.35 446.37,441.60 446.62,443.00 446.87,443.75 447.12,443.87 447.37,446.53 447.62,447.04 447.87,448.70 448.12,449.04 448.37,450.34 448.62,448.07 448.87,446.43 449.12,445.31 449.37,444.83 449.62,444.98 449.87,444.60 450.12,446.16 450.37,444.59 450.62,444.46 450.87,443.72 451.12,443.06 451.37,441.87 451.62,441.39 451.87,441.03 452.12,442.89 452.37,444.53 452.62,446.73 452.87,448.56 453.12,450.41 453.37,454.33 453.62,455.56 453.87,458.81 454.12,460.52 454.37,462.61 454.62,463.33 454.87,464.52 455.12,466.38 455.37,466.18 455.62,466.74 455.87,468.99 456.12,470.15 456.37,470.77 456.62,472.69 456.87,472.92 457.12,475.19 457.37,476.10 457.62,477.27 457.87,478.31 458.12,478.43 458.37,480.14 458.62,480.78 458.87,481.82 459.12,481.58 459.37,480.84 459.62,478.01 459.87,476.79 460.12,473.95 460.37,472.45 460.62,470.08 460.87,469.35 461.12,468.11 461.37,466.20 461.62,464.84 461.87,463.99 462.12,463.51 462.37,465.68 462.62,469.66 462.87,472.55 463.12,475.53 463.37,477.92 463.62,476.68 463.87,473.73 464.12,471.02 464.37,467.52 464.62,462.68 464.87,458.88 465.12,454.32 465.37,448.54 465.62,445.29 465.87,442.55 466.12,438.76 466.37,436.96 466.62,433.54 466.87,430.55 467.12,427.83 467.37,427.85 467.62,428.97 467.87,430.46 468.12,428.84 468.37,430.39 468.62,432.99 468.87,431.96 469.12,431.49 469.37,429.86 469.62,429.78 469.87,428.93 470.12,427.95 470.37,428.61 470.62,430.19 470.87,429.27 471.12,429.00 471.37,429.35 471.62,428.71 471.87,428.57 472.12,427.98 472.37,427.74 472.62,426.90 472.87,424.41 473.12,422.66 473.37,421.17 473.62,420.85 473.87,417.99 474.12,418.01 474.37,415.34 474.62,414.74 474.87,413.42 475.12,412.91 475.37,411.53 475.62,409.09 475.87,406.86 476.12,408.18 476.37,406.71 476.62,405.74 476.87,405.79 477.12,404.65 477.37,403.51 477.62,401.85 477.87,400.80 478.12,399.49 478.37,398.82 478.62,398.54 478.87,400.93 479.12,403.86 479.37,406.48 479.62,408.42 479.87,411.90 480.12,412.65 480.37,411.57 480.62,411.26 480.87,412.25 481.12,413.28 481.37,412.61 481.62,409.63 481.87,405.16 482.12,397.96 482.37,396.08 482.62,391.55 482.87,389.31 483.12,387.31 483.37,384.56 483.62,382.42 483.87,380.56 484.12,379.06 484.37,378.26 484.62,376.59 484.87,376.26 485.12,375.76 485.37,375.05 485.62,375.58 485.87,375.30 486.12,375.53 486.37,374.98 486.62,374.91 486.87,374.99 487.12,373.70 487.37,372.82 487.62,372.24 487.87,370.00 488.12,369.46 488.37,367.88 488.62,366.45 488.87,365.51 489.12,363.84 489.37,363.13 489.62,361.97 489.87,361.17 490.12,359.07 490.37,358.81 490.62,357.23 490.87,355.35 491.12,355.41 491.37,356.48 491.62,357.15 491.87,358.43 492.12,359.75 492.37,360.78 492.62,361.66 492.87,363.07 493.12,363.54 493.37,363.09 493.62,364.48 493.87,366.71 494.12,366.14 494.37,366.41 494.62,368.09 494.87,370.59 495.12,371.08 495.37,374.02 495.62,375.78 495.87,379.00 496.12,380.91 496.37,382.23 496.62,383.85 496.87,384.94 497.12,384.78 497.37,383.02 497.62,382.47 497.87,380.21 498.12,378.02 498.37,376.31 498.62,376.80 498.87,377.74 499.12,378.95 499.37,381.14 499.62,382.28 499.87,383.94 500.12,385.14 500.37,387.71 500.62,389.45 500.87,391.62 501.12,390.77 501.37,388.58 501.62,387.93 501.87,387.11 502.12,384.79 502.37,387.07 502.62,387.83 502.87,388.84 503.12,391.54 503.37,393.30 503.62,393.97 503.87,394.42 504.12,396.74 504.37,397.69 504.62,397.57 504.87,396.63 505.12,395.24 505.37,395.25 505.62,395.06 505.87,394.80 506.12,394.29 506.37,394.69 506.62,397.27 506.87,397.46 507.12,398.33 507.37,400.03 507.62,400.83 507.87,401.33 508.12,401.12 508.37,399.65 508.62,399.29 508.87,399.06 509.12,400.12 509.37,401.81 509.62,401.74 509.87,404.80 510.12,404.23 510.37,403.82 510.62,404.10 510.87,405.03 511.12,403.03 511.37,401.15 511.62,401.11 511.87,398.04 512.12,397.31 512.37,396.06 512.62,395.35 512.87,395.80 513.12,395.16 513.37,393.29 513.62,391.52 513.87,390.22 514.12,389.85 514.37,389.62 514.62,389.06 514.87,387.40 515.12,386.82 515.37,386.06 515.62,384.87 515.87,383.82 516.12,382.69 516.37,382.32 516.62,380.47 516.87,377.92 517.12,375.99 517.37,374.89 517.62,373.35 517.87,372.81 518.12,371.69 518.37,371.80 518.62,371.76 518.87,370.12 519.12,370.42 519.37,366.83 519.62,365.20 519.87,364.97 520.12,363.38 520.37,360.92 520.62,359.55 520.87,357.89 521.12,355.21 521.37,354.55 521.62,357.66 521.87,360.11 522.12,363.34 522.37,366.11 522.62,366.50 522.87,364.72 523.12,365.68 523.37,365.23 523.62,363.12 523.87,361.33 524.12,359.83 524.37,358.34 524.62,359.21 524.87,357.98 525.12,358.13 525.37,357.99 525.62,357.04 525.87,357.97 526.12,358.54 526.37,359.75 526.62,359.41 526.87,359.92 527.12,357.89 527.37,357.10 527.62,356.06 527.87,351.80 528.12,349.99 528.37,348.15 528.62,347.04 528.87,346.70 529.12,346.93 529.37,346.00 529.62,343.90 529.87,344.14 530.12,342.88 530.37,341.38 530.62,339.46 530.87,339.40 531.12,339.64 531.37,340.07 531.62,342.90 531.87,343.64 532.12,346.12 532.37,349.39 532.62,350.62 532.87,350.47 533.12,352.18 533.37,352.39 533.62,352.84 533.87,353.76 534.12,355.46 534.37,357.00 534.62,358.40 534.87,359.43 535.12,360.33 535.37,361.07 535.62,361.37 535.87,363.95 536.12,364.47 536.37,364.73 536.62,363.45 536.87,363.21 537.12,361.48 537.37,360.35 537.62,360.88 537.87,360.46 538.12,358.07 538.37,356.71 538.62,354.72 538.87,353.14 539.12,351.60 539.37,350.90 539.62,350.57 539.87,349.07 540.12,347.55 540.37,347.12 540.62,346.91 540.87,347.31 541.12,346.10 541.37,346.65 541.62,347.46 541.87,348.44 542.12,348.39 542.37,348.73 542.62,350.89 542.87,352.68 543.12,352.85 543.37,353.33 543.62,355.05 543.87,354.43 544.12,354.49 544.37,355.69 544.62,357.10 544.87,357.81 545.12,359.55 545.37,359.90 545.62,360.48 545.87,360.53 546.12,360.72 546.37,362.86 546.62,363.22 546.87,364.58 547.12,366.98 547.37,368.33 547.62,371.91 547.87,373.76 548.12,374.78 548.37,375.72 548.62,378.12 548.87,379.93 549.12,379.91 549.37,381.27 549.62,383.19 549.87,385.48 550.12,387.70 550.37,388.68 550.62,390.13 550.87,392.42 551.12,393.65 551.37,392.29 551.62,389.40 551.87,387.13 552.12,384.89 552.37,384.43 552.62,383.71 552.87,384.23 553.12,382.78 553.37,382.25 553.62,381.49 553.87,380.35 554.12,378.45 554.37,378.91 554.62,377.50 554.87,378.68 555.12,377.39 555.37,377.01 555.62,377.53 555.87,378.17 556.12,377.43 556.37,377.58 556.62,378.17 556.87,378.32 557.12,379.67 557.37,378.88 557.62,380.65 557.87,381.55 558.12,380.59 558.37,381.16 558.62,382.95 558.87,386.72 559.12,388.21 559.37,390.09 559.62,391.91 559.87,392.61 560.12,394.92 560.37,396.41 560.62,397.36 560.87,397.30 561.12,398.83 561.37,398.01 561.62,399.95 561.87,398.87 562.12,401.79 562.37,400.21 562.62,397.88 562.87,395.58 563.12,392.22 563.37,390.54 563.62,389.33 563.87,387.37 564.12,382.62 564.37,381.24 564.62,380.56 564.87,379.98 565.12,377.66 565.37,377.71 565.62,376.70 565.87,375.56 566.12,374.13 566.37,373.73 566.62,372.68 566.87,372.92 567.12,372.51 567.37,370.21 567.62,369.94 567.87,371.48 568.12,369.33 568.37,368.74 568.62,369.89 568.87,369.08 569.12,367.92 569.37,367.16 569.62,366.61 569.87,366.00 570.12,364.43 570.37,365.29 570.62,362.59 570.87,362.30 571.12,360.14 571.37,359.64 571.62,360.25 571.87,361.69 572.12,362.77 572.37,364.17 572.62,363.87 572.87,365.35 573.12,363.92 573.37,363.76 573.62,363.40 573.87,361.72 574.12,359.59 574.37,358.65 574.62,357.51 574.87,356.93 575.12,355.49 575.37,353.88 575.62,355.87 575.87,356.50 576.12,358.47 576.37,359.76 576.62,360.47 576.87,362.84 577.12,364.31 577.37,366.73 577.62,369.20 577.87,370.82 578.12,371.52 578.37,372.23 578.62,372.97 578.87,372.54 579.12,373.59 579.37,373.81 579.62,373.55 579.87,375.36 580.12,375.90 580.37,375.59 580.62,376.51 580.87,376.21 581.12,378.38 581.37,379.18 581.62,379.58 581.87,380.08 582.12,381.71 582.37,384.85 582.62,388.89 582.87,391.76 583.12,395.03 583.37,397.35 583.62,400.35 583.87,401.90 584.12,403.59 584.37,405.72 584.62,406.94 584.87,406.69 585.12,407.70 585.37,409.27 585.62,411.67 585.87,411.58 586.12,411.96 586.37,411.85 586.62,409.65 586.87,409.75 587.12,408.80 587.37,408.56 587.62,407.42 587.87,406.55 588.12,406.24 588.37,404.55 588.62,404.64 588.87,403.27 589.12,403.66 589.37,403.48 589.62,402.63 589.87,400.81 590.12,399.64 590.37,399.62 590.62,398.95 590.87,398.41 591.12,399.12 591.37,399.55 591.62,398.63 591.87,397.36 592.12,397.37 592.37,398.55 592.62,398.68 592.87,397.22 593.12,396.05 593.37,395.34 593.62,394.12 593.87,394.21 594.12,392.95 594.37,394.10 594.62,394.66 594.87,395.73 595.12,398.83 595.37,398.61 595.62,397.50 595.87,398.13 596.12,397.14 596.37,395.75 596.62,394.13 596.87,394.12 597.12,394.11 597.37,394.70 597.62,395.49 597.87,395.21 598.12,396.27 598.37,397.14 598.62,395.30 598.87,393.07 599.12,391.96 599.37,388.51 599.62,386.97 599.87,385.19 600.12,382.48 600.37,381.38 600.62,380.45 600.87,380.18 601.12,377.13 601.37,375.76 601.62,375.02 601.87,374.23 602.12,372.95 602.37,371.63 602.62,371.52 602.87,371.52 603.12,370.98 603.37,370.76 603.62,368.29 603.87,367.58 604.12,367.31 604.37,366.75 604.62,365.20 604.87,364.60 605.12,363.69 605.37,364.72 605.62,363.17 605.87,361.36 606.12,360.80 606.37,358.67 606.62,359.22 606.87,360.56 607.12,362.02 607.37,361.38 607.62,363.45 607.87,364.76 608.12,366.81 608.37,367.76 608.62,369.21 608.87,371.15 609.12,373.89 609.37,375.48 609.62,377.03 609.87,379.95 610.12,380.87 610.37,381.65 610.62,383.29 610.87,384.70 611.12,384.90 611.37,388.63 611.62,388.79 611.87,389.56 612.12,390.24 612.37,393.43 612.62,394.69 612.87,393.09 613.12,392.30 613.37,392.68 613.62,391.76 613.87,391.27 614.12,393.57 614.37,392.85 614.62,394.14 614.87,394.18 615.12,394.90 615.37,394.40 615.62,394.90 615.87,391.63 616.12,390.49 616.37,389.51 616.62,388.00 616.87,384.33 617.12,382.78 617.37,381.94 617.62,383.23 617.87,382.33 618.12,380.94 618.37,381.09 618.62,381.89 618.87,380.43 619.12,382.23 619.37,382.57 619.62,383.37 619.87,385.08 620.12,385.22 620.37,382.96 620.62,380.94 620.87,379.29 621.12,377.22 621.37,375.39 621.62,377.77 621.87,379.71 622.12,381.35 622.37,384.45 622.62,385.73 622.87,387.82 623.12,388.21 623.37,388.85 623.62,389.38 623.87,389.07 624.12,388.96 624.37,390.66 624.62,392.03 624.87,391.78 625.12,392.03 625.37,390.93 625.62,391.80 625.87,389.62 626.12,388.74 626.37,389.46 626.62,390.52 626.87,391.57 627.12,393.05 627.37,393.69 627.62,394.25 627.87,394.30 628.12,393.97 628.37,392.06 628.62,392.28 628.87,390.42 629.12,388.88 629.37,388.54 629.62,386.59 629.87,386.46 630.12,385.21 630.37,384.08 630.62,384.17 630.87,383.45 631.12,382.60 631.37,381.71 631.62,380.94 631.87,382.46 632.12,384.26 632.37,386.14 632.62,388.87 632.87,390.87 633.12,391.87 633.37,391.86 633.62,390.87 633.87,390.15 634.12,389.75 634.37,387.19 634.62,385.19 634.87,385.90 635.12,386.04 635.37,386.24 635.62,386.81 635.87,384.69 636.12,383.44 636.37,383.01 636.62,384.22 636.87,384.12 637.12,384.08 637.37,382.13 637.62,383.36 637.87,382.84 638.12,382.86 638.37,382.64 638.62,383.25 638.87,383.97 639.12,383.62 639.37,385.32 639.62,384.60 639.87,387.66 640.12,388.76 640.37,392.15 640.62,394.08 640.87,395.79 641.12,398.50 641.37,400.65 641.62,403.25 641.87,405.69 642.12,409.12 642.37,411.77 642.62,412.78 642.87,411.53 643.12,411.33 643.37,409.97 643.62,408.85 643.87,409.03 644.12,409.93 644.37,412.73 644.62,413.36 644.87,415.52 645.12,416.70 645.37,419.33 645.62,419.55 645.87,420.86 646.12,421.38 646.37,420.73 646.62,420.70 646.87,419.23 647.12,417.85 647.37,416.92 647.62,414.77 647.87,412.24 648.12,413.33 648.37,413.02 648.62,415.66 648.87,417.13 649.12,417.62 649.37,415.88 649.62,413.30 649.87,412.78 650.12,410.40 650.37,408.68 650.62,406.19 650.87,404.91 651.12,403.28 651.37,401.19 651.62,399.75 651.87,397.80 652.12,396.99 652.37,395.41 652.62,394.27 652.87,394.55 653.12,395.36 653.37,395.74 653.62,396.87 653.87,397.99 654.12,396.81 654.37,394.33 654.62,391.65 654.87,390.12 655.12,389.01 655.37,388.34 655.62,387.72 655.87,385.79 656.12,385.06 656.37,384.85 656.62,384.96 656.87,384.33 657.12,381.54 657.37,378.19 657.62,376.86 657.87,375.88 658.12,374.01 658.37,371.27 658.62,369.33 658.87,366.78 659.12,362.76 659.37,358.66 659.62,355.48 659.87,353.06 660.12,348.47 660.37,345.58 660.62,343.70 660.87,339.70 661.12,336.94 661.37,335.24 661.62,331.47 661.87,330.35 662.12,328.27 662.37,327.04 662.62,323.85 662.87,320.53 663.12,316.45 663.37,310.85 663.62,304.53 663.87,300.96 664.12,300.95 664.37,297.44 664.62,295.81 664.87,293.24 665.12,290.38 665.37,288.15 665.62,288.18 665.87,286.83 666.12,286.83 666.37,284.57 666.62,281.75 666.87,281.09 667.12,279.25 667.37,279.60 667.62,279.67 667.87,279.87 668.12,278.73 668.37,277.10 668.62,279.49 668.87,282.06 669.12,282.98 669.37,282.51 669.62,283.98 669.87,286.15 670.12,287.11 670.37,288.49 670.62,289.91 670.87,291.35 671.12,292.70 671.37,293.93 671.62,296.00 671.87,296.60 672.12,296.43 672.37,298.74 672.62,300.24 672.87,302.04 673.12,303.05 673.37,304.72 673.62,307.49 673.87,307.52 674.12,310.96 674.37,312.59 674.62,313.34 674.87,314.64 675.12,316.52 675.37,319.51 675.62,321.06 675.87,322.57 676.12,325.60 676.37,326.43 676.62,328.90 676.87,329.23 677.12,330.26 677.37,334.00 677.62,336.41 677.87,336.95 678.12,336.75 678.37,340.35 678.62,342.46 678.87,343.88 679.12,345.27 679.37,347.81 679.62,349.20 679.87,351.15 680.12,351.99 680.37,355.42 680.62,355.82 680.87,356.73 681.12,357.06 681.37,356.57 681.62,354.93 681.87,352.37 682.12,350.60 682.37,350.86 682.62,352.37 682.87,353.46 683.12,355.64 683.37,356.40 683.62,357.83 683.87,359.63 684.12,359.32 684.37,360.48 684.62,360.66 684.87,360.88 685.12,362.15 685.37,363.59 685.62,363.46 685.87,364.22 686.12,365.74 686.37,366.58 686.62,367.89 686.87,368.89 687.12,369.52 687.37,368.48 687.62,368.13 687.87,368.77 688.12,369.78 688.37,371.25 688.62,372.64 688.87,372.23 689.12,372.33 689.37,372.03 689.62,371.85 689.87,370.83 690.12,371.60 690.37,369.97 690.62,368.83 690.87,367.36 691.12,366.81 691.37,365.64 691.62,364.17 691.87,364.27 692.12,364.50 692.37,363.88 692.62,363.68 692.87,363.52 693.12,363.37 693.37,363.30 693.62,362.04 693.87,362.20 694.12,362.01 694.37,362.54 694.62,362.10 694.87,362.37 695.12,360.25 695.37,360.50 695.62,358.46 695.87,356.47 696.12,356.68 696.37,356.46 696.62,356.79 696.87,357.06 697.12,355.52 697.37,354.07 697.62,353.76 697.87,353.31 698.12,356.45 698.37,357.22 698.62,359.32 698.87,359.85 699.12,360.49 699.37,362.09 699.62,364.70 699.87,366.83 700.12,368.73 700.37,370.22 700.62,372.36 700.87,373.50 701.12,375.23 701.37,375.84 701.62,378.35 701.87,381.80 702.12,385.22 702.37,386.04 702.62,385.73 702.87,385.39 703.12,386.30 703.37,384.85 703.62,384.76 703.87,383.30 704.12,382.39 704.37,379.63 704.62,378.54 704.87,376.41 705.12,374.95 705.37,374.05 705.62,373.96 705.87,374.62 706.12,375.01 706.37,375.46 706.62,376.42 706.87,378.45 707.12,378.74 707.37,378.40 707.62,380.74 707.87,381.55 708.12,383.54 708.37,385.85 708.62,387.45 708.87,387.12 709.12,386.29 709.37,385.81 709.62,385.51 709.87,384.78 710.12,385.84 710.37,385.06 710.62,385.54 710.87,385.94 711.12,385.36 711.37,384.69 711.62,384.15 711.87,385.58 712.12,384.42 712.37,384.00 712.62,384.10 712.87,384.44 713.12,382.96 713.37,381.47 713.62,380.28 713.87,379.35 714.12,379.42 714.37,378.53 714.62,377.70 714.87,376.85 715.12,375.75 715.37,376.35 715.62,374.12 715.87,375.35 716.12,376.21 716.37,376.76 716.62,376.49 716.87,376.65 717.12,377.53 717.37,379.11 717.62,379.11 717.87,380.61 718.12,382.00 718.37,382.83 718.62,381.77 718.87,383.23 719.12,386.47 719.37,386.91 719.62,388.63 719.87,391.04 720.12,391.40 720.37,392.19 720.62,392.51 720.87,393.81 721.12,395.78 721.37,395.23 721.62,395.88 721.87,396.87 722.12,398.08 722.37,397.15 722.62,397.93 722.87,397.85 723.12,398.99 723.37,399.77 723.62,399.86 723.87,402.06 724.12,404.23 724.37,404.20 724.62,405.77 724.87,407.32 725.12,407.85 725.37,408.68 725.62,409.67 725.87,411.75 726.12,413.07 726.37,414.82 726.62,416.08 726.87,416.46 727.12,417.31 727.37,418.23 727.62,415.65 727.87,411.99 728.12,411.21 728.37,410.33 728.62,408.22 728.87,406.51 729.12,405.82 729.37,404.85 729.62,404.53 729.87,403.15 730.12,403.01 730.37,402.16 730.62,401.27 730.87,402.20 731.12,404.75 731.37,404.55 731.62,406.19 731.87,407.19 732.12,407.76 732.37,409.06 732.62,409.27 732.87,411.08 733.12,411.94 733.37,413.10 733.62,413.58 733.87,412.32 734.12,412.48 734.37,411.27 734.62,410.50 734.87,410.44 735.12,410.11 735.37,412.66 735.62,416.48 735.87,418.99 736.12,421.82 736.37,423.12 736.62,424.59 736.87,426.18 737.12,428.10 737.37,429.90 737.62,431.80 737.87,434.11 738.12,435.12 738.37,433.82 738.62,430.47 738.87,428.42 739.12,424.58 739.37,421.68 739.62,418.00 739.87,416.74 740.12,414.62 740.37,413.06 740.62,411.95 740.87,409.44 741.12,407.83 741.37,407.66 741.62,410.11 741.87,411.06 742.12,411.08 742.37,411.61 742.62,413.48 742.87,413.94 743.12,411.62 743.37,409.25 743.62,406.88 743.87,405.49 744.12,404.58 744.37,402.44 744.62,401.64 744.87,400.46 745.12,397.62 745.37,397.73 745.62,396.93 745.87,393.74 746.12,391.75 746.37,391.95 746.62,389.65 746.87,388.87 747.12,387.58 747.37,386.93 747.62,387.28 747.87,388.72 748.12,389.61 748.37,390.85 748.62,390.98 748.87,391.86 749.12,394.03 749.37,395.24 749.62,396.64 749.87,399.14 750.12,402.21 750.37,405.18 750.62,407.09 750.87,406.14 751.12,406.07 751.37,403.88 751.62,401.70 751.87,402.32 752.12,401.23 752.37,400.35 752.62,399.29 752.87,396.83 753.12,395.66 753.37,395.27 753.62,393.94 753.87,393.81 754.12,395.86 754.37,396.21 754.62,396.43 754.87,398.16 755.12,397.83 755.37,396.13 755.62,393.15 755.87,392.25 756.12,389.89 756.37,387.09 756.62,386.10 756.87,384.44 757.12,381.55 757.37,379.21 757.62,377.20 757.87,373.11 758.12,370.74 758.37,367.88 758.62,364.30 758.87,360.89 759.12,358.32 759.37,358.03 759.62,359.20 759.87,361.55 760.12,361.97 760.37,363.55 760.62,363.62 760.87,364.41 761.12,363.54 761.37,363.00 761.62,361.78 761.87,361.16 762.12,360.65 762.37,360.47 762.62,361.09 762.87,362.72 763.12,363.98 763.37,363.82 763.62,364.17 763.87,367.38 764.12,367.77 764.37,369.22 764.62,369.07 764.87,368.76 765.12,368.64 765.37,370.04 765.62,370.95 765.87,370.87 766.12,372.55 766.37,374.10 766.62,374.88 766.87,375.87 767.12,374.27 767.37,373.79 767.62,374.88 767.87,375.16 768.12,376.03 768.37,374.95 768.62,375.22 768.87,375.64 769.12,375.70 769.37,376.12 769.62,375.21 769.87,375.83 770.12,375.09 770.37,375.25 770.62,376.23 770.87,375.10 771.12,374.73 771.37,374.42 771.62,374.35 771.87,374.18 772.12,374.42 772.37,374.57 772.62,375.75 772.87,376.46 773.12,376.25 773.37,376.80 773.62,376.04 773.87,376.45 774.12,375.51 774.37,374.82 774.62,373.89 774.87,375.02 775.12,374.91 775.37,375.86 775.62,376.23 775.87,376.83 776.12,378.18 776.37,378.19 776.62,378.72 776.87,380.58 777.12,382.77 777.37,384.27 777.62,384.43 777.87,385.02 778.12,386.89 778.37,388.48 778.62,391.60 778.87,393.65 779.12,394.93 779.37,395.92 779.62,393.06 779.87,390.01 780.12,388.23 780.37,384.98 780.62,383.65 780.87,379.95 781.12,381.15 781.37,384.40 781.62,387.42 781.87,389.97 782.12,392.57 782.37,395.67 782.62,397.38 782.87,401.17 783.12,402.74 783.37,407.05 783.62,409.42 783.87,414.14 784.12,416.47 784.37,416.89 784.62,417.65 784.87,418.31 785.12,419.11 785.37,420.67 785.62,421.94 785.87,420.03 786.12,419.09 786.37,417.03 786.62,415.86 786.87,414.91 787.12,413.98 787.37,413.15 787.62,414.05 787.87,415.46 788.12,415.52 788.37,415.39 788.62,416.41 788.87,415.08 789.12,413.51 789.37,412.00 789.62,411.13 789.87,409.04 790.12,408.00 790.37,407.91 790.62,408.74 790.87,408.19 791.12,408.81 791.37,408.48 791.62,407.42 791.87,408.73 792.12,407.96 792.37,408.74 792.62,409.62 792.87,411.17 793.12,413.36 793.37,413.87 793.62,412.40 793.87,410.95 794.12,409.69 794.37,407.83 794.62,405.54 794.87,404.65 795.12,403.69 795.37,403.26 795.62,401.21 795.87,400.22 796.12,399.74 796.37,399.51 796.62,397.81 796.87,396.12 797.12,395.69 797.37,394.69 797.62,395.34 797.87,394.05 798.12,393.28 798.37,391.80 798.62,391.09 798.87,389.67 799.12,390.00 799.37,387.19 799.62,385.65 799.87,382.63 800.12,381.96 800.37,379.91 800.62,376.39 800.87,375.43 801.12,372.14 801.37,367.53 801.62,364.44 801.87,358.95 802.12,355.63 802.37,351.60 802.62,348.13 802.87,347.71 803.12,346.42 803.37,346.32 803.62,345.40 803.87,344.00 804.12,344.46 804.37,344.16 804.62,342.78 804.87,342.88 805.12,343.70 805.37,342.44 805.62,344.74 805.87,343.67 806.12,342.90 806.37,345.09 806.62,343.96 806.87,343.54 807.12,342.40 807.37,342.75 807.62,342.37 807.87,342.47 808.12,341.53 808.37,344.00 808.62,344.95 808.87,344.45 809.12,344.40 809.37,343.54 809.62,344.97 809.87,343.96 810.12,342.28 810.37,343.16 810.62,342.32 810.87,344.12 811.12,343.09 811.37,344.18 811.62,344.26 811.87,345.75 812.12,344.39 812.37,343.54 812.62,341.70 812.87,338.79 813.12,336.65 813.37,334.68 813.62,334.31 813.87,334.56 814.12,334.10 814.37,334.08 814.62,334.02 814.87,332.30 815.12,330.96 815.37,332.50 815.62,333.49 815.87,333.96 816.12,334.01 816.37,333.25 816.62,334.36 816.87,334.01 817.12,334.18 817.37,331.58 817.62,328.86 817.87,329.01 818.12,330.22 818.37,330.29 818.62,331.46 818.87,333.64 819.12,333.03 819.37,333.00 819.62,332.78 819.87,332.92 820.12,334.46 820.37,335.68 820.62,336.99 820.87,338.73 821.12,340.84 821.37,341.32 821.62,342.04 821.87,343.37 822.12,343.80 822.37,344.10 822.62,345.17 822.87,345.86 823.12,347.60 823.37,349.46 823.62,349.92 823.87,351.18 824.12,350.05 824.37,350.65 824.62,352.33 824.87,352.16 825.12,352.46 825.37,352.21 825.62,353.04 825.87,353.45 826.12,353.78 826.37,352.75 826.62,353.10 826.87,352.05 827.12,352.85 827.37,354.15 827.62,354.32 827.87,354.28 828.12,354.54 828.37,356.32 828.62,356.34 828.87,358.41 829.12,358.99 829.37,359.29 829.62,355.81 829.87,352.97 830.12,351.64 830.37,349.19 830.62,345.93 830.87,344.58 831.12,342.33 831.37,342.44 831.62,344.75 831.87,347.13 832.12,348.28 832.37,350.66 832.62,352.70 832.87,355.60 833.12,358.52 833.37,360.38 833.62,362.32 833.87,363.75 834.12,363.97 834.37,363.54 834.62,362.55 834.87,362.18 835.12,360.69 835.37,358.54 835.62,356.33 835.87,353.10 836.12,351.16 836.37,349.57 836.62,348.18 836.87,347.14 837.12,346.02 837.37,346.31 837.62,348.93 837.87,350.94 838.12,351.76 838.37,353.53 838.62,354.28 838.87,354.98 839.12,355.47 839.37,354.71 839.62,352.63 839.87,350.48 840.12,348.65 840.37,349.51 840.62,349.99 840.87,349.43 841.12,348.95 841.37,349.20 841.62,349.48 841.87,349.17 842.12,349.58 842.37,349.27 842.62,350.69 842.87,350.61 843.12,350.61 843.37,350.63 843.62,350.13 843.87,351.00 844.12,351.29 844.37,353.24 844.62,355.02 844.87,355.70 845.12,355.04 845.37,353.29 845.62,350.98 845.87,349.28 846.12,347.37 846.37,345.97 846.62,343.50 846.87,341.25 847.12,341.41 847.37,341.57 847.62,341.12 847.87,340.39 848.12,341.98 848.37,342.10 848.62,343.29 848.87,343.35 849.12,343.60 849.37,346.00 849.62,346.98 849.87,347.47 850.12,347.49 850.37,348.18 850.62,349.69 850.87,347.30 851.12,346.42 851.37,343.83 851.62,342.46 851.87,340.66 852.12,338.63 852.37,337.39 852.62,334.46 852.87,334.40 853.12,335.25 853.37,336.25 853.62,335.09 853.87,335.65 854.12,337.14 854.37,337.99 854.62,340.52 854.87,342.81 855.12,345.17 855.37,345.84 855.62,347.24 855.87,349.63 856.12,350.16 856.37,351.74 856.62,354.46 856.87,356.39 857.12,357.89 857.37,358.35 857.62,359.86 857.87,360.00 858.12,362.63 858.37,364.45 858.62,365.60 858.87,368.06 859.12,370.42 859.37,371.18 859.62,366.16 859.87,364.22 860.12,361.45 860.37,361.09 860.62,361.90 860.87,360.93 861.12,359.88 861.37,360.00 861.62,360.60 861.87,360.30 862.12,358.27 862.37,356.67 862.62,358.18 862.87,359.21 863.12,360.24 863.37,361.13 863.62,362.64 863.87,362.09 864.12,362.15 864.37,364.79 864.62,365.09 864.87,365.27 865.12,365.12 865.37,364.61 865.62,364.74 865.87,365.92 866.12,365.65 866.37,366.36 866.62,366.09 866.87,365.58 867.12,365.48 867.37,364.90 867.62,365.37 867.87,365.15 868.12,367.28 868.37,369.73 868.62,369.10 868.87,369.84 869.12,371.31 869.37,371.67 869.62,372.86 869.87,375.22 870.12,375.06 870.37,376.91 870.62,379.07 870.87,379.49 871.12,381.99 871.37,383.06 871.62,383.74 871.87,383.78 872.12,384.18 872.37,382.34 872.62,380.59 872.87,379.72 873.12,376.60 873.37,375.85 873.62,374.05 873.87,373.33 874.12,371.47 874.37,369.56 874.62,369.35 874.87,367.69 875.12,367.41 875.37,366.83 875.62,366.15 875.87,365.55 876.12,364.49 876.37,364.95 876.62,362.59 876.87,361.46 877.12,358.52 877.37,356.95 877.62,355.01 877.87,353.22 878.12,353.09 878.37,352.62 878.62,351.89 878.87,351.48 879.12,354.25 879.37,357.68 879.62,359.23 879.87,363.17 880.12,365.18 880.37,367.69 880.62,372.85 880.87,375.28 881.12,379.15 881.37,381.76 881.62,382.72 881.87,380.96 882.12,377.87 882.37,374.45 882.62,371.83 882.87,370.17 883.12,367.64 883.37,363.99 883.62,362.73 883.87,360.90 884.12,360.23 884.37,358.51 884.62,357.05 884.87,356.01 885.12,355.58 885.37,354.49 885.62,353.61 885.87,354.18 886.12,353.09 886.37,353.68 886.62,353.70 886.87,351.56 887.12,349.67 887.37,347.15 887.62,345.64 887.87,343.29 888.12,342.57 888.37,342.00 888.62,339.84 888.87,337.82 889.12,336.45 889.37,335.68 889.62,333.49 889.87,331.05 890.12,329.21 890.37,327.39 890.62,326.74 890.87,326.29 891.12,324.77 891.37,324.35 891.62,325.03 891.87,326.16 892.12,327.16 892.37,326.04 892.62,327.35 892.87,326.50 893.12,328.14 893.37,327.89 893.62,328.48 893.87,327.89 894.12,326.37 894.37,326.83 894.62,327.89 894.87,329.13 895.12,328.94 895.37,327.62 895.62,328.25 895.87,328.25 896.12,326.54 896.37,326.26 896.62,328.04 896.87,327.63 897.12,327.85 897.37,327.58 897.62,330.09 897.87,330.21 898.12,331.51 898.37,333.58 898.62,329.58 898.87,326.00 899.12,323.33 899.37,319.33 899.62,315.03 899.87,311.68 900.12,307.51 900.37,303.99 900.62,302.86 900.87,301.35 901.12,299.25 901.37,297.93 901.62,298.92 901.87,300.24 902.12,301.01 902.37,303.47 902.62,305.72 902.87,307.97 903.12,309.80 903.37,313.22 903.62,314.69 903.87,315.17 904.12,317.14 904.37,318.88 904.62,319.68 904.87,318.88 905.12,320.37 905.37,318.79 905.62,317.80 905.87,315.95 906.12,314.52 906.37,313.90 906.62,314.09 906.87,312.98 907.12,313.32 907.37,314.41 907.62,316.69 907.87,317.47 908.12,317.47 908.37,317.29 908.62,318.02 908.87,319.12 909.12,319.36 909.37,318.30 909.62,317.59 909.87,318.52 910.12,317.89 910.37,319.02 910.62,319.81 910.87,321.40 911.12,321.27 911.37,321.13 911.62,321.40 911.87,320.09 912.12,320.39 912.37,321.20 912.62,321.67 912.87,320.60 913.12,321.14 913.37,319.72 913.62,318.63 913.87,318.23 914.12,316.91 914.37,316.30 914.62,315.99 914.87,316.09 915.12,316.16 915.37,316.12 915.62,315.85 915.87,313.86"/>
</g>
<g class="tick">
<line x1="127.50" y1="503" x2="127.50" y2="506.00"/>
<line x1="147.50" y1="503" x2="147.50" y2="506.00"/>
<line x1="167.50" y1="503" x2="167.50" y2="506.00"/>
<line x1="187.50" y1="503" x2="187.50" y2="506.00"/>
<line x1="206.50" y1="503" x2="206.50" y2="506.00"/>
<line x1="226.50" y1="503" x2="226.50" y2="508.00"/>
<line x1="246.50" y1="503" x2="246.50" y2="506.00"/>
<line x1="266.50" y1="503" x2="266.50" y2="506.00"/>
<line x1="285.50" y1="503" x2="285.50" y2="506.00"/>
<line x1="305.50" y1="503" x2="305.50" y2="506.00"/>
<line x1="325.50" y1="503" x2="325.50" y2="508.00"/>
<line x1="344.50" y1="503" x2="344.50" y2="506.00"/>
<line x1="364.50" y1="503" x2="364.50" y2="506.00"/>
<line x1="384.50" y1="503" x2="384.50" y2="506.00"/>
<line x1="404.50" y1="503" x2="404.50" y2="506.00"/>
<line x1="423.50" y1="503" x2="423.50" y2="508.00"/>
<line x1="443.50" y1="503" x2="443.50" y2="506.00"/>
<line x1="463.50" y1="503" x2="463.50" y2="506.00"/>
<line x1="482.50" y1="503" x2="482.50" y2="506.00"/>
<line x1="502.50" y1="503" x2="502.50" y2="506.00"/>
<line x1="522.50" y1="503" x2="522.50" y2="508.00"/>
<line x1="542.50" y1="503" x2="542.50" y2="506.00"/>
<line x1="561.50" y1="503" x2="561.50" y2="506.00"/>
<line x1="581.50" y1="503" x2="581.50" y2="506.00"/>
<line x1="601.50" y1="503" x2="601.50" y2="506.00"/>
<line x1="620.50" y1="503" x2="620.50" y2="508.00"/>
<line x1="640.50" y1="503" x2="640.50" y2="506.00"/>
<line x1="660.50" y1="503" x2="660.50" y2="506.00"/>
<line x1="680.50" y1="503" x2="680.50" y2="506.00"/>
<line x1="699.50" y1="503" x2="699.50" y2="506.00"/>
<line x1="719.50" y1="503" x2="719.50" y2="508.00"/>
<line x1="739.50" y1="503" x2="739.50" y2="506.00"/>
<line x1="758.50" y1="503" x2="758.50" y2="506.00"/>
<line x1="778.50" y1="503" x2="778.50" y2="506.00"/>
<line x1="798.50" y1="503" x2="798.50" y2="506.00"/>
<line x1="818.50" y1="503" x2="818.50" y2="508.00"/>
<line x1="837.50" y1="503" x2="837.50" y2="506.00"/>
<line x1="857.50" y1="503" x2="857.50" y2="506.00"/>
<line x1="877.50" y1="503" x2="877.50" y2="506.00"/>
<line x1="896.50" y1="503" x2="896.50" y2="506.00"/>
<line x1="122.00" y1="451.50" x2="127.00" y2="451.50"/>
<line x1="122.00" y1="374.50" x2="127.00" y2="374.50"/>
<line x1="122.00" y1="297.50" x2="127.00" y2="297.50"/>
<line x1="122.00" y1="220.50" x2="127.00" y2="220.50"/>
<line x1="122.00" y1="143.50" x2="127.00" y2="143.50"/>
</g>
<text class="t10" x="226.50" y="523" text-anchor="middle">1985</text>
<text class="t10" x="325.50" y="523" text-anchor="middle">1990</text>
<text class="t10" x="423.50" y="523" text-anchor="middle">1995</text>
<text class="t10" x="522.50" y="523" text-anchor="middle">2000</text>
<text class="t10" x="620.50" y="523" text-anchor="middle">2005</text>
<text class="t10" x="719.50" y="523" text-anchor="middle">2010</text>
<text class="t10" x="818.50" y="523" text-anchor="middle">2015</text>
<text class="t10" x="116.8" y="456.00" text-anchor="end">8</text>
<text class="t10" x="116.8" y="379.00" text-anchor="end">10</text>
<text class="t10" x="116.8" y="302.00" text-anchor="end">12</text>
<text class="t10" x="116.8" y="225.00" text-anchor="end">14</text>
<text class="t10" x="116.8" y="148.00" text-anchor="end">16</text>
<text class="t12" transform="translate(90.1,285.90) rotate(-90)" text-anchor="middle">Rolling Mean Temperature (C)</text>
<line x1="814" y1="398" x2="842" y2="398" stroke="#003049" stroke-width="2.2" stroke-linecap="square"/>
<text class="t10" x="852.9" y="402.7">Rome</text>
<line x1="814" y1="418.95" x2="842" y2="418.95" stroke="#40e0d0" stroke-width="2.2" stroke-linecap="square"/>
<text class="t10" x="852.9" y="423.6">Madrid</text>
<line x1="814" y1="439.9" x2="842" y2="439.9" stroke="#669bbc" stroke-width="2.2" stroke-linecap="square"/>
<text class="t10" x="852.9" y="444.6">Paris</text>
<line x1="814" y1="460.9" x2="842" y2="460.9" stroke="#0d997a" stroke-width="2.2" stroke-linecap="square"/>
<text class="t10" x="852.9" y="465.6">London</text>
<line x1="814" y1="482.0" x2="842" y2="482.0" stroke="#ff6850" stroke-width="2.2" stroke-linecap="square"/>
<text class="t10" x="852.9" y="486.7">Berlin</text>
</svg></body></html>
